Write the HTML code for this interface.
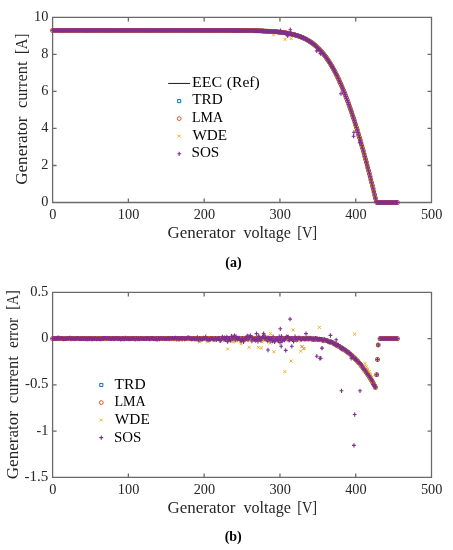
<!DOCTYPE html>
<html><head><meta charset="utf-8"><title>Figure</title>
<style>
html,body{margin:0;padding:0;background:#fff;}
body{width:453px;height:550px;overflow:hidden;}
svg{display:block;}
text{font-family:"Liberation Serif",serif;}
.t{font-size:14.3px;fill:#262626;}
.l{font-size:15px;fill:#000;}
.lab{font-size:16.3px;fill:#262626;}
.cap{font-size:14px;font-weight:bold;fill:#000;}
</style></head><body>
<svg width="453" height="550" viewBox="0 0 453 550">
<rect width="453" height="550" fill="#fff"/>
<path d="M128.38 202.5v-4.0M128.38 17.4v4.0M204.16 202.5v-4.0M204.16 17.4v4.0M279.94 202.5v-4.0M279.94 17.4v4.0M355.72 202.5v-4.0M355.72 17.4v4.0M52.6 165.48h4.0M431.5 165.48h-4.0M52.6 128.46h4.0M431.5 128.46h-4.0M52.6 91.44h4.0M431.5 91.44h-4.0M52.6 54.42h4.0M431.5 54.42h-4.0M52.6 17.4H431.5V202.5H52.6Z" stroke="#6a6a6a" stroke-width="1.3" fill="none"/>
<text x="52.8" y="218.8" text-anchor="middle" class="t">0</text>
<text x="128.58" y="218.8" text-anchor="middle" class="t">100</text>
<text x="204.36" y="218.8" text-anchor="middle" class="t">200</text>
<text x="280.14" y="218.8" text-anchor="middle" class="t">300</text>
<text x="355.92" y="218.8" text-anchor="middle" class="t">400</text>
<text x="431.7" y="218.8" text-anchor="middle" class="t">500</text>
<text x="48.3" y="205.9" text-anchor="end" class="t">0</text>
<text x="48.3" y="168.88" text-anchor="end" class="t">2</text>
<text x="48.3" y="131.86" text-anchor="end" class="t">4</text>
<text x="48.3" y="94.84" text-anchor="end" class="t">6</text>
<text x="48.3" y="57.82" text-anchor="end" class="t">8</text>
<text x="48.3" y="20.8" text-anchor="end" class="t">10</text>
<path d="M52.6 30.39L53.36 30.39L54.12 30.39L54.87 30.39L55.63 30.39L56.39 30.39L57.15 30.39L57.9 30.39L58.66 30.39L59.42 30.39L60.18 30.39L60.94 30.39L61.69 30.39L62.45 30.39L63.21 30.39L63.97 30.39L64.72 30.39L65.48 30.39L66.24 30.39L67 30.39L67.76 30.39L68.51 30.39L69.27 30.39L70.03 30.39L70.79 30.39L71.55 30.39L72.3 30.39L73.06 30.39L73.82 30.39L74.58 30.39L75.33 30.39L76.09 30.39L76.85 30.39L77.61 30.39L78.37 30.39L79.12 30.39L79.88 30.39L80.64 30.39L81.4 30.39L82.15 30.39L82.91 30.39L83.67 30.39L84.43 30.39L85.19 30.39L85.94 30.39L86.7 30.39L87.46 30.39L88.22 30.39L88.97 30.39L89.73 30.39L90.49 30.39L91.25 30.39L92.01 30.39L92.76 30.39L93.52 30.39L94.28 30.39L95.04 30.39L95.79 30.39L96.55 30.39L97.31 30.39L98.07 30.39L98.83 30.39L99.58 30.39L100.34 30.39L101.1 30.39L101.86 30.39L102.61 30.39L103.37 30.39L104.13 30.39L104.89 30.39L105.65 30.39L106.4 30.39L107.16 30.39L107.92 30.39L108.68 30.39L109.44 30.39L110.19 30.39L110.95 30.39L111.71 30.39L112.47 30.39L113.22 30.39L113.98 30.39L114.74 30.39L115.5 30.39L116.26 30.39L117.01 30.39L117.77 30.39L118.53 30.39L119.29 30.39L120.04 30.39L120.8 30.39L121.56 30.39L122.32 30.39L123.08 30.39L123.83 30.39L124.59 30.39L125.35 30.39L126.11 30.39L126.86 30.39L127.62 30.39L128.38 30.39L129.14 30.39L129.9 30.39L130.65 30.39L131.41 30.39L132.17 30.39L132.93 30.39L133.68 30.39L134.44 30.39L135.2 30.39L135.96 30.39L136.72 30.39L137.47 30.39L138.23 30.39L138.99 30.39L139.75 30.39L140.5 30.39L141.26 30.39L142.02 30.39L142.78 30.39L143.54 30.39L144.29 30.39L145.05 30.39L145.81 30.39L146.57 30.39L147.32 30.39L148.08 30.39L148.84 30.39L149.6 30.39L150.36 30.39L151.11 30.39L151.87 30.39L152.63 30.39L153.39 30.39L154.15 30.39L154.9 30.39L155.66 30.39L156.42 30.39L157.18 30.39L157.93 30.39L158.69 30.39L159.45 30.39L160.21 30.39L160.97 30.39L161.72 30.39L162.48 30.39L163.24 30.39L164 30.39L164.75 30.39L165.51 30.39L166.27 30.39L167.03 30.39L167.79 30.39L168.54 30.39L169.3 30.39L170.06 30.39L170.82 30.39L171.57 30.39L172.33 30.39L173.09 30.39L173.85 30.39L174.61 30.39L175.36 30.39L176.12 30.39L176.88 30.39L177.64 30.39L178.39 30.39L179.15 30.39L179.91 30.39L180.67 30.39L181.43 30.39L182.18 30.39L182.94 30.39L183.7 30.39L184.46 30.39L185.21 30.39L185.97 30.39L186.73 30.39L187.49 30.39L188.25 30.39L189 30.39L189.76 30.39L190.52 30.39L191.28 30.39L192.04 30.39L192.79 30.39L193.55 30.39L194.31 30.39L195.07 30.39L195.82 30.39L196.58 30.4L197.34 30.4L198.1 30.4L198.86 30.4L199.61 30.4L200.37 30.4L201.13 30.4L201.89 30.4L202.64 30.4L203.4 30.4L204.16 30.4L204.92 30.4L205.68 30.4L206.43 30.4L207.19 30.4L207.95 30.4L208.71 30.41L209.46 30.41L210.22 30.41L210.98 30.41L211.74 30.41L212.5 30.41L213.25 30.41L214.01 30.41L214.77 30.41L215.53 30.42L216.28 30.42L217.04 30.42L217.8 30.42L218.56 30.42L219.32 30.42L220.07 30.43L220.83 30.43L221.59 30.43L222.35 30.43L223.1 30.43L223.86 30.44L224.62 30.44L225.38 30.44L226.14 30.44L226.89 30.45L227.65 30.45L228.41 30.45L229.17 30.46L229.93 30.46L230.68 30.46L231.44 30.47L232.2 30.47L232.96 30.48L233.71 30.48L234.47 30.49L235.23 30.49L235.99 30.5L236.75 30.5L237.5 30.51L238.26 30.51L239.02 30.52L239.78 30.53L240.53 30.53L241.29 30.54L242.05 30.55L242.81 30.56L243.57 30.56L244.32 30.57L245.08 30.58L245.84 30.59L246.6 30.6L247.35 30.61L248.11 30.62L248.87 30.64L249.63 30.65L250.39 30.66L251.14 30.67L251.9 30.69L252.66 30.7L253.42 30.72L254.17 30.74L254.93 30.75L255.69 30.77L256.45 30.79L257.21 30.81L257.96 30.83L258.72 30.85L259.48 30.88L260.24 30.9L261 30.93L261.75 30.95L262.51 30.98L263.27 31.01L264.03 31.04L264.78 31.07L265.54 31.11L266.3 31.14L267.06 31.18L267.82 31.22L268.57 31.26L269.33 31.3L270.09 31.35L270.85 31.39L271.6 31.44L272.36 31.5L273.12 31.55L273.88 31.61L274.64 31.67L275.39 31.73L276.15 31.8L276.91 31.87L277.67 31.94L278.42 32.01L279.18 32.09L279.94 32.18L280.7 32.26L281.46 32.36L282.21 32.45L282.97 32.55L283.73 32.66L284.49 32.77L285.24 32.88L286 33L286.76 33.13L287.52 33.26L288.28 33.4L289.03 33.55L289.79 33.7L290.55 33.86L291.31 34.02L292.06 34.2L292.82 34.38L293.58 34.57L294.34 34.77L295.1 34.98L295.85 35.2L296.61 35.42L297.37 35.66L298.13 35.91L298.88 36.17L299.64 36.44L300.4 36.73L301.16 37.02L301.92 37.33L302.67 37.65L303.43 37.99L304.19 38.34L304.95 38.71L305.71 39.09L306.46 39.49L307.22 39.9L307.98 40.33L308.74 40.78L309.49 41.25L310.25 41.74L311.01 42.24L311.77 42.77L312.53 43.32L313.28 43.89L314.04 44.48L314.8 45.09L315.56 45.73L316.31 46.39L317.07 47.08L317.83 47.79L318.59 48.53L319.35 49.29L320.1 50.08L320.86 50.9L321.62 51.75L322.38 52.62L323.13 53.53L323.89 54.46L324.65 55.43L325.41 56.43L326.17 57.46L326.92 58.52L327.68 59.61L328.44 60.74L329.2 61.9L329.95 63.09L330.71 64.32L331.47 65.58L332.23 66.88L332.99 68.21L333.74 69.58L334.5 70.99L335.26 72.43L336.02 73.91L336.77 75.42L337.53 76.97L338.29 78.56L339.05 80.18L339.81 81.84L340.56 83.54L341.32 85.27L342.08 87.04L342.84 88.85L343.6 90.7L344.35 92.58L345.11 94.5L345.87 96.45L346.63 98.45L347.38 100.47L348.14 102.54L348.9 104.64L349.66 106.77L350.42 108.94L351.17 111.15L351.93 113.39L352.69 115.66L353.45 117.97L354.2 120.31L354.96 122.69L355.72 125.1L356.48 127.54L357.24 130.01L357.99 132.52L358.75 135.06L359.51 137.63L360.27 140.23L361.02 142.86L361.78 145.52L362.54 148.21L363.3 150.93L364.06 153.68L364.81 156.46L365.57 159.27L366.33 162.11L367.09 164.97L367.84 167.86L368.6 170.78L369.36 173.72L370.12 176.69L370.88 179.68L371.63 182.7L372.39 185.75L373.15 188.81L373.91 191.91L374.66 195.02L375.42 198.16L376.18 201.33L376.94 202.5L377.7 202.5L378.45 202.5L379.21 202.5L379.97 202.5L380.73 202.5L381.49 202.5L382.24 202.5L383 202.5L383.76 202.5L384.52 202.5L385.27 202.5L386.03 202.5L386.79 202.5L387.55 202.5L388.31 202.5L389.06 202.5L389.82 202.5L390.58 202.5L391.34 202.5L392.09 202.5L392.85 202.5L393.61 202.5L394.37 202.5L395.13 202.5L395.88 202.5L396.64 202.5L397.4 202.5" stroke="#000" stroke-width="0.9" fill="none"/>
<path d="M51.05 28.84h3.1v3.1h-3.1zM51.81 28.84h3.1v3.1h-3.1zM52.57 28.84h3.1v3.1h-3.1zM53.32 28.84h3.1v3.1h-3.1zM54.08 28.84h3.1v3.1h-3.1zM54.84 28.84h3.1v3.1h-3.1zM55.6 28.84h3.1v3.1h-3.1zM56.35 28.84h3.1v3.1h-3.1zM57.11 28.84h3.1v3.1h-3.1zM57.87 28.84h3.1v3.1h-3.1zM58.63 28.84h3.1v3.1h-3.1zM59.39 28.84h3.1v3.1h-3.1zM60.14 28.84h3.1v3.1h-3.1zM60.9 28.84h3.1v3.1h-3.1zM61.66 28.84h3.1v3.1h-3.1zM62.42 28.84h3.1v3.1h-3.1zM63.17 28.84h3.1v3.1h-3.1zM63.93 28.84h3.1v3.1h-3.1zM64.69 28.84h3.1v3.1h-3.1zM65.45 28.84h3.1v3.1h-3.1zM66.21 28.84h3.1v3.1h-3.1zM66.96 28.84h3.1v3.1h-3.1zM67.72 28.84h3.1v3.1h-3.1zM68.48 28.84h3.1v3.1h-3.1zM69.24 28.84h3.1v3.1h-3.1zM70 28.84h3.1v3.1h-3.1zM70.75 28.84h3.1v3.1h-3.1zM71.51 28.84h3.1v3.1h-3.1zM72.27 28.84h3.1v3.1h-3.1zM73.03 28.84h3.1v3.1h-3.1zM73.78 28.84h3.1v3.1h-3.1zM74.54 28.84h3.1v3.1h-3.1zM75.3 28.84h3.1v3.1h-3.1zM76.06 28.84h3.1v3.1h-3.1zM76.82 28.84h3.1v3.1h-3.1zM77.57 28.84h3.1v3.1h-3.1zM78.33 28.84h3.1v3.1h-3.1zM79.09 28.84h3.1v3.1h-3.1zM79.85 28.84h3.1v3.1h-3.1zM80.6 28.84h3.1v3.1h-3.1zM81.36 28.84h3.1v3.1h-3.1zM82.12 28.84h3.1v3.1h-3.1zM82.88 28.84h3.1v3.1h-3.1zM83.64 28.84h3.1v3.1h-3.1zM84.39 28.84h3.1v3.1h-3.1zM85.15 28.84h3.1v3.1h-3.1zM85.91 28.84h3.1v3.1h-3.1zM86.67 28.84h3.1v3.1h-3.1zM87.42 28.84h3.1v3.1h-3.1zM88.18 28.84h3.1v3.1h-3.1zM88.94 28.84h3.1v3.1h-3.1zM89.7 28.84h3.1v3.1h-3.1zM90.46 28.84h3.1v3.1h-3.1zM91.21 28.84h3.1v3.1h-3.1zM91.97 28.84h3.1v3.1h-3.1zM92.73 28.84h3.1v3.1h-3.1zM93.49 28.84h3.1v3.1h-3.1zM94.24 28.84h3.1v3.1h-3.1zM95 28.84h3.1v3.1h-3.1zM95.76 28.84h3.1v3.1h-3.1zM96.52 28.84h3.1v3.1h-3.1zM97.28 28.84h3.1v3.1h-3.1zM98.03 28.84h3.1v3.1h-3.1zM98.79 28.84h3.1v3.1h-3.1zM99.55 28.84h3.1v3.1h-3.1zM100.31 28.84h3.1v3.1h-3.1zM101.06 28.84h3.1v3.1h-3.1zM101.82 28.84h3.1v3.1h-3.1zM102.58 28.84h3.1v3.1h-3.1zM103.34 28.84h3.1v3.1h-3.1zM104.1 28.84h3.1v3.1h-3.1zM104.85 28.84h3.1v3.1h-3.1zM105.61 28.84h3.1v3.1h-3.1zM106.37 28.84h3.1v3.1h-3.1zM107.13 28.84h3.1v3.1h-3.1zM107.89 28.84h3.1v3.1h-3.1zM108.64 28.84h3.1v3.1h-3.1zM109.4 28.84h3.1v3.1h-3.1zM110.16 28.84h3.1v3.1h-3.1zM110.92 28.84h3.1v3.1h-3.1zM111.67 28.84h3.1v3.1h-3.1zM112.43 28.84h3.1v3.1h-3.1zM113.19 28.84h3.1v3.1h-3.1zM113.95 28.84h3.1v3.1h-3.1zM114.71 28.84h3.1v3.1h-3.1zM115.46 28.84h3.1v3.1h-3.1zM116.22 28.84h3.1v3.1h-3.1zM116.98 28.84h3.1v3.1h-3.1zM117.74 28.84h3.1v3.1h-3.1zM118.49 28.84h3.1v3.1h-3.1zM119.25 28.84h3.1v3.1h-3.1zM120.01 28.84h3.1v3.1h-3.1zM120.77 28.84h3.1v3.1h-3.1zM121.53 28.84h3.1v3.1h-3.1zM122.28 28.84h3.1v3.1h-3.1zM123.04 28.84h3.1v3.1h-3.1zM123.8 28.84h3.1v3.1h-3.1zM124.56 28.84h3.1v3.1h-3.1zM125.31 28.84h3.1v3.1h-3.1zM126.07 28.84h3.1v3.1h-3.1zM126.83 28.84h3.1v3.1h-3.1zM127.59 28.84h3.1v3.1h-3.1zM128.35 28.84h3.1v3.1h-3.1zM129.1 28.84h3.1v3.1h-3.1zM129.86 28.84h3.1v3.1h-3.1zM130.62 28.84h3.1v3.1h-3.1zM131.38 28.84h3.1v3.1h-3.1zM132.13 28.84h3.1v3.1h-3.1zM132.89 28.84h3.1v3.1h-3.1zM133.65 28.84h3.1v3.1h-3.1zM134.41 28.84h3.1v3.1h-3.1zM135.17 28.84h3.1v3.1h-3.1zM135.92 28.84h3.1v3.1h-3.1zM136.68 28.84h3.1v3.1h-3.1zM137.44 28.84h3.1v3.1h-3.1zM138.2 28.84h3.1v3.1h-3.1zM138.95 28.84h3.1v3.1h-3.1zM139.71 28.84h3.1v3.1h-3.1zM140.47 28.84h3.1v3.1h-3.1zM141.23 28.84h3.1v3.1h-3.1zM141.99 28.84h3.1v3.1h-3.1zM142.74 28.84h3.1v3.1h-3.1zM143.5 28.84h3.1v3.1h-3.1zM144.26 28.84h3.1v3.1h-3.1zM145.02 28.84h3.1v3.1h-3.1zM145.77 28.84h3.1v3.1h-3.1zM146.53 28.84h3.1v3.1h-3.1zM147.29 28.84h3.1v3.1h-3.1zM148.05 28.84h3.1v3.1h-3.1zM148.81 28.84h3.1v3.1h-3.1zM149.56 28.84h3.1v3.1h-3.1zM150.32 28.84h3.1v3.1h-3.1zM151.08 28.84h3.1v3.1h-3.1zM151.84 28.84h3.1v3.1h-3.1zM152.6 28.84h3.1v3.1h-3.1zM153.35 28.84h3.1v3.1h-3.1zM154.11 28.84h3.1v3.1h-3.1zM154.87 28.84h3.1v3.1h-3.1zM155.63 28.84h3.1v3.1h-3.1zM156.38 28.84h3.1v3.1h-3.1zM157.14 28.84h3.1v3.1h-3.1zM157.9 28.84h3.1v3.1h-3.1zM158.66 28.84h3.1v3.1h-3.1zM159.42 28.84h3.1v3.1h-3.1zM160.17 28.84h3.1v3.1h-3.1zM160.93 28.84h3.1v3.1h-3.1zM161.69 28.84h3.1v3.1h-3.1zM162.45 28.84h3.1v3.1h-3.1zM163.2 28.84h3.1v3.1h-3.1zM163.96 28.84h3.1v3.1h-3.1zM164.72 28.84h3.1v3.1h-3.1zM165.48 28.84h3.1v3.1h-3.1zM166.24 28.84h3.1v3.1h-3.1zM166.99 28.84h3.1v3.1h-3.1zM167.75 28.84h3.1v3.1h-3.1zM168.51 28.84h3.1v3.1h-3.1zM169.27 28.84h3.1v3.1h-3.1zM170.02 28.84h3.1v3.1h-3.1zM170.78 28.84h3.1v3.1h-3.1zM171.54 28.84h3.1v3.1h-3.1zM172.3 28.84h3.1v3.1h-3.1zM173.06 28.84h3.1v3.1h-3.1zM173.81 28.84h3.1v3.1h-3.1zM174.57 28.84h3.1v3.1h-3.1zM175.33 28.84h3.1v3.1h-3.1zM176.09 28.84h3.1v3.1h-3.1zM176.84 28.84h3.1v3.1h-3.1zM177.6 28.84h3.1v3.1h-3.1zM178.36 28.84h3.1v3.1h-3.1zM179.12 28.84h3.1v3.1h-3.1zM179.88 28.84h3.1v3.1h-3.1zM180.63 28.84h3.1v3.1h-3.1zM181.39 28.84h3.1v3.1h-3.1zM182.15 28.84h3.1v3.1h-3.1zM182.91 28.84h3.1v3.1h-3.1zM183.66 28.84h3.1v3.1h-3.1zM184.42 28.84h3.1v3.1h-3.1zM185.18 28.84h3.1v3.1h-3.1zM185.94 28.84h3.1v3.1h-3.1zM186.7 28.84h3.1v3.1h-3.1zM187.45 28.84h3.1v3.1h-3.1zM188.21 28.84h3.1v3.1h-3.1zM188.97 28.84h3.1v3.1h-3.1zM189.73 28.84h3.1v3.1h-3.1zM190.49 28.84h3.1v3.1h-3.1zM191.24 28.84h3.1v3.1h-3.1zM192 28.84h3.1v3.1h-3.1zM192.76 28.84h3.1v3.1h-3.1zM193.52 28.84h3.1v3.1h-3.1zM194.27 28.84h3.1v3.1h-3.1zM195.03 28.85h3.1v3.1h-3.1zM195.79 28.85h3.1v3.1h-3.1zM196.55 28.85h3.1v3.1h-3.1zM197.31 28.85h3.1v3.1h-3.1zM198.06 28.85h3.1v3.1h-3.1zM198.82 28.85h3.1v3.1h-3.1zM199.58 28.85h3.1v3.1h-3.1zM200.34 28.85h3.1v3.1h-3.1zM201.09 28.85h3.1v3.1h-3.1zM201.85 28.85h3.1v3.1h-3.1zM202.61 28.85h3.1v3.1h-3.1zM203.37 28.85h3.1v3.1h-3.1zM204.13 28.85h3.1v3.1h-3.1zM204.88 28.85h3.1v3.1h-3.1zM205.64 28.85h3.1v3.1h-3.1zM206.4 28.85h3.1v3.1h-3.1zM207.16 28.86h3.1v3.1h-3.1zM207.91 28.86h3.1v3.1h-3.1zM208.67 28.86h3.1v3.1h-3.1zM209.43 28.86h3.1v3.1h-3.1zM210.19 28.86h3.1v3.1h-3.1zM210.95 28.86h3.1v3.1h-3.1zM211.7 28.86h3.1v3.1h-3.1zM212.46 28.86h3.1v3.1h-3.1zM213.22 28.86h3.1v3.1h-3.1zM213.98 28.87h3.1v3.1h-3.1zM214.73 28.87h3.1v3.1h-3.1zM215.49 28.87h3.1v3.1h-3.1zM216.25 28.87h3.1v3.1h-3.1zM217.01 28.87h3.1v3.1h-3.1zM217.77 28.87h3.1v3.1h-3.1zM218.52 28.88h3.1v3.1h-3.1zM219.28 28.88h3.1v3.1h-3.1zM220.04 28.88h3.1v3.1h-3.1zM220.8 28.88h3.1v3.1h-3.1zM221.55 28.88h3.1v3.1h-3.1zM222.31 28.89h3.1v3.1h-3.1zM223.07 28.89h3.1v3.1h-3.1zM223.83 28.89h3.1v3.1h-3.1zM224.59 28.89h3.1v3.1h-3.1zM225.34 28.9h3.1v3.1h-3.1zM226.1 28.9h3.1v3.1h-3.1zM226.86 28.9h3.1v3.1h-3.1zM227.62 28.91h3.1v3.1h-3.1zM228.38 28.91h3.1v3.1h-3.1zM229.13 28.91h3.1v3.1h-3.1zM229.89 28.92h3.1v3.1h-3.1zM230.65 28.92h3.1v3.1h-3.1zM231.41 28.93h3.1v3.1h-3.1zM232.16 28.93h3.1v3.1h-3.1zM232.92 28.94h3.1v3.1h-3.1zM233.68 28.94h3.1v3.1h-3.1zM234.44 28.95h3.1v3.1h-3.1zM235.2 28.95h3.1v3.1h-3.1zM235.95 28.96h3.1v3.1h-3.1zM236.71 28.96h3.1v3.1h-3.1zM237.47 28.97h3.1v3.1h-3.1zM238.23 28.98h3.1v3.1h-3.1zM238.98 28.98h3.1v3.1h-3.1zM239.74 28.99h3.1v3.1h-3.1zM240.5 29h3.1v3.1h-3.1zM241.26 29.01h3.1v3.1h-3.1zM242.02 29.01h3.1v3.1h-3.1zM242.77 29.02h3.1v3.1h-3.1zM243.53 29.03h3.1v3.1h-3.1zM244.29 29.04h3.1v3.1h-3.1zM245.05 29.05h3.1v3.1h-3.1zM245.8 29.06h3.1v3.1h-3.1zM246.56 29.07h3.1v3.1h-3.1zM247.32 29.09h3.1v3.1h-3.1zM248.08 29.1h3.1v3.1h-3.1zM248.84 29.11h3.1v3.1h-3.1zM249.59 29.12h3.1v3.1h-3.1zM250.35 29.14h3.1v3.1h-3.1zM251.11 29.15h3.1v3.1h-3.1zM251.87 29.17h3.1v3.1h-3.1zM252.62 29.19h3.1v3.1h-3.1zM253.38 29.2h3.1v3.1h-3.1zM254.14 29.22h3.1v3.1h-3.1zM254.9 29.24h3.1v3.1h-3.1zM255.66 29.26h3.1v3.1h-3.1zM256.41 29.28h3.1v3.1h-3.1zM257.17 29.3h3.1v3.1h-3.1zM257.93 29.33h3.1v3.1h-3.1zM258.69 29.35h3.1v3.1h-3.1zM259.44 29.38h3.1v3.1h-3.1zM260.2 29.4h3.1v3.1h-3.1zM260.96 29.43h3.1v3.1h-3.1zM261.72 29.46h3.1v3.1h-3.1zM262.48 29.49h3.1v3.1h-3.1zM263.23 29.52h3.1v3.1h-3.1zM263.99 29.56h3.1v3.1h-3.1zM264.75 29.59h3.1v3.1h-3.1zM265.51 29.63h3.1v3.1h-3.1zM266.27 29.67h3.1v3.1h-3.1zM267.02 29.71h3.1v3.1h-3.1zM267.78 29.75h3.1v3.1h-3.1zM268.54 29.8h3.1v3.1h-3.1zM269.3 29.84h3.1v3.1h-3.1zM270.05 29.89h3.1v3.1h-3.1zM270.81 29.95h3.1v3.1h-3.1zM271.57 30h3.1v3.1h-3.1zM272.33 30.06h3.1v3.1h-3.1zM273.09 30.12h3.1v3.1h-3.1zM273.84 30.18h3.1v3.1h-3.1zM274.6 30.25h3.1v3.1h-3.1zM275.36 30.32h3.1v3.1h-3.1zM276.12 30.39h3.1v3.1h-3.1zM276.87 30.46h3.1v3.1h-3.1zM277.63 30.54h3.1v3.1h-3.1zM278.39 30.63h3.1v3.1h-3.1zM279.15 30.71h3.1v3.1h-3.1zM279.91 30.81h3.1v3.1h-3.1zM280.66 30.9h3.1v3.1h-3.1zM281.42 31h3.1v3.1h-3.1zM282.18 31.11h3.1v3.1h-3.1zM282.94 31.22h3.1v3.1h-3.1zM283.69 31.33h3.1v3.1h-3.1zM284.45 31.45h3.1v3.1h-3.1zM285.21 31.58h3.1v3.1h-3.1zM285.97 31.71h3.1v3.1h-3.1zM286.73 31.85h3.1v3.1h-3.1zM287.48 32h3.1v3.1h-3.1zM288.24 32.15h3.1v3.1h-3.1zM289 32.31h3.1v3.1h-3.1zM289.76 32.47h3.1v3.1h-3.1zM290.51 32.65h3.1v3.1h-3.1zM291.27 32.83h3.1v3.1h-3.1zM292.03 33.02h3.1v3.1h-3.1zM292.79 33.22h3.1v3.1h-3.1zM293.55 33.43h3.1v3.1h-3.1zM294.3 33.65h3.1v3.1h-3.1zM295.06 33.87h3.1v3.1h-3.1zM295.82 34.11h3.1v3.1h-3.1zM296.58 34.36h3.1v3.1h-3.1zM297.33 34.62h3.1v3.1h-3.1zM298.09 34.89h3.1v3.1h-3.1zM298.85 35.18h3.1v3.1h-3.1zM299.61 35.47h3.1v3.1h-3.1zM300.37 35.78h3.1v3.1h-3.1zM301.12 36.1h3.1v3.1h-3.1zM301.88 36.44h3.1v3.1h-3.1zM302.64 36.79h3.1v3.1h-3.1zM303.4 37.16h3.1v3.1h-3.1zM304.16 37.54h3.1v3.1h-3.1zM304.91 37.94h3.1v3.1h-3.1zM305.67 38.35h3.1v3.1h-3.1zM306.43 38.78h3.1v3.1h-3.1zM307.19 39.23h3.1v3.1h-3.1zM307.94 39.7h3.1v3.1h-3.1zM308.7 40.19h3.1v3.1h-3.1zM309.46 40.69h3.1v3.1h-3.1zM310.22 41.22h3.1v3.1h-3.1zM310.98 41.77h3.1v3.1h-3.1zM311.73 42.34h3.1v3.1h-3.1zM312.49 42.93h3.1v3.1h-3.1zM313.25 43.54h3.1v3.1h-3.1zM314.01 44.18h3.1v3.1h-3.1zM314.76 44.84h3.1v3.1h-3.1zM315.52 45.53h3.1v3.1h-3.1zM316.28 46.24h3.1v3.1h-3.1zM317.04 46.98h3.1v3.1h-3.1zM317.8 47.74h3.1v3.1h-3.1zM318.55 48.53h3.1v3.1h-3.1zM319.31 49.35h3.1v3.1h-3.1zM320.07 50.2h3.1v3.1h-3.1zM320.83 51.07h3.1v3.1h-3.1zM321.58 51.98h3.1v3.1h-3.1zM322.34 52.91h3.1v3.1h-3.1zM323.1 53.88h3.1v3.1h-3.1zM323.86 54.88h3.1v3.1h-3.1zM324.62 55.91h3.1v3.1h-3.1zM325.37 56.97h3.1v3.1h-3.1zM326.13 58.06h3.1v3.1h-3.1zM326.89 59.19h3.1v3.1h-3.1zM327.65 60.35h3.1v3.1h-3.1zM328.4 61.54h3.1v3.1h-3.1zM329.16 62.77h3.1v3.1h-3.1zM329.92 64.03h3.1v3.1h-3.1zM330.68 65.33h3.1v3.1h-3.1zM331.44 66.66h3.1v3.1h-3.1zM332.19 68.03h3.1v3.1h-3.1zM332.95 69.44h3.1v3.1h-3.1zM333.71 70.88h3.1v3.1h-3.1zM334.47 72.36h3.1v3.1h-3.1zM335.22 73.87h3.1v3.1h-3.1zM335.98 75.42h3.1v3.1h-3.1zM336.74 77.01h3.1v3.1h-3.1zM337.5 78.63h3.1v3.1h-3.1zM338.26 80.29h3.1v3.1h-3.1zM339.01 81.99h3.1v3.1h-3.1zM339.77 83.72h3.1v3.1h-3.1zM340.53 85.49h3.1v3.1h-3.1zM341.29 87.3h3.1v3.1h-3.1zM342.05 89.15h3.1v3.1h-3.1zM342.8 91.03h3.1v3.1h-3.1zM343.56 92.95h3.1v3.1h-3.1zM344.32 94.9h3.1v3.1h-3.1zM345.08 96.9h3.1v3.1h-3.1zM345.83 98.92h3.1v3.1h-3.1zM346.59 100.99h3.1v3.1h-3.1zM347.35 103.09h3.1v3.1h-3.1zM348.11 105.22h3.1v3.1h-3.1zM348.87 107.39h3.1v3.1h-3.1zM349.62 109.6h3.1v3.1h-3.1zM350.38 111.84h3.1v3.1h-3.1zM351.14 114.11h3.1v3.1h-3.1zM351.9 116.42h3.1v3.1h-3.1zM352.65 118.76h3.1v3.1h-3.1zM353.41 121.14h3.1v3.1h-3.1zM354.17 123.55h3.1v3.1h-3.1zM354.93 125.99h3.1v3.1h-3.1zM355.69 128.46h3.1v3.1h-3.1zM356.44 130.97h3.1v3.1h-3.1zM357.2 133.51h3.1v3.1h-3.1zM357.96 136.08h3.1v3.1h-3.1zM358.72 138.68h3.1v3.1h-3.1zM359.47 141.31h3.1v3.1h-3.1zM360.23 143.97h3.1v3.1h-3.1zM360.99 146.66h3.1v3.1h-3.1zM361.75 149.38h3.1v3.1h-3.1zM362.51 152.13h3.1v3.1h-3.1zM363.26 154.91h3.1v3.1h-3.1zM364.02 157.72h3.1v3.1h-3.1zM364.78 160.56h3.1v3.1h-3.1zM365.54 163.42h3.1v3.1h-3.1zM366.29 166.31h3.1v3.1h-3.1zM367.05 169.23h3.1v3.1h-3.1zM367.81 172.17h3.1v3.1h-3.1zM368.57 175.14h3.1v3.1h-3.1zM369.33 178.13h3.1v3.1h-3.1zM370.08 181.15h3.1v3.1h-3.1zM370.84 184.2h3.1v3.1h-3.1zM371.6 187.26h3.1v3.1h-3.1zM372.36 190.36h3.1v3.1h-3.1zM373.11 193.47h3.1v3.1h-3.1zM373.87 196.61h3.1v3.1h-3.1zM374.63 199.78h3.1v3.1h-3.1zM375.39 200.95h3.1v3.1h-3.1zM376.15 200.95h3.1v3.1h-3.1zM376.9 200.95h3.1v3.1h-3.1zM377.66 200.95h3.1v3.1h-3.1zM378.42 200.95h3.1v3.1h-3.1zM379.18 200.95h3.1v3.1h-3.1zM379.94 200.95h3.1v3.1h-3.1zM380.69 200.95h3.1v3.1h-3.1zM381.45 200.95h3.1v3.1h-3.1zM382.21 200.95h3.1v3.1h-3.1zM382.97 200.95h3.1v3.1h-3.1zM383.72 200.95h3.1v3.1h-3.1zM384.48 200.95h3.1v3.1h-3.1zM385.24 200.95h3.1v3.1h-3.1zM386 200.95h3.1v3.1h-3.1zM386.76 200.95h3.1v3.1h-3.1zM387.51 200.95h3.1v3.1h-3.1zM388.27 200.95h3.1v3.1h-3.1zM389.03 200.95h3.1v3.1h-3.1zM389.79 200.95h3.1v3.1h-3.1zM390.54 200.95h3.1v3.1h-3.1zM391.3 200.95h3.1v3.1h-3.1zM392.06 200.95h3.1v3.1h-3.1zM392.82 200.95h3.1v3.1h-3.1zM393.58 200.95h3.1v3.1h-3.1zM394.33 200.95h3.1v3.1h-3.1zM395.09 200.95h3.1v3.1h-3.1zM395.85 200.95h3.1v3.1h-3.1z" stroke="#0072BD" stroke-width="1.0" fill="none"/>
<path d="M50.7 30.39a1.9 1.9 0 1 0 3.8 0a1.9 1.9 0 1 0 -3.8 0M51.46 30.39a1.9 1.9 0 1 0 3.8 0a1.9 1.9 0 1 0 -3.8 0M52.22 30.39a1.9 1.9 0 1 0 3.8 0a1.9 1.9 0 1 0 -3.8 0M52.97 30.39a1.9 1.9 0 1 0 3.8 0a1.9 1.9 0 1 0 -3.8 0M53.73 30.39a1.9 1.9 0 1 0 3.8 0a1.9 1.9 0 1 0 -3.8 0M54.49 30.39a1.9 1.9 0 1 0 3.8 0a1.9 1.9 0 1 0 -3.8 0M55.25 30.39a1.9 1.9 0 1 0 3.8 0a1.9 1.9 0 1 0 -3.8 0M56 30.39a1.9 1.9 0 1 0 3.8 0a1.9 1.9 0 1 0 -3.8 0M56.76 30.39a1.9 1.9 0 1 0 3.8 0a1.9 1.9 0 1 0 -3.8 0M57.52 30.39a1.9 1.9 0 1 0 3.8 0a1.9 1.9 0 1 0 -3.8 0M58.28 30.39a1.9 1.9 0 1 0 3.8 0a1.9 1.9 0 1 0 -3.8 0M59.04 30.39a1.9 1.9 0 1 0 3.8 0a1.9 1.9 0 1 0 -3.8 0M59.79 30.39a1.9 1.9 0 1 0 3.8 0a1.9 1.9 0 1 0 -3.8 0M60.55 30.39a1.9 1.9 0 1 0 3.8 0a1.9 1.9 0 1 0 -3.8 0M61.31 30.39a1.9 1.9 0 1 0 3.8 0a1.9 1.9 0 1 0 -3.8 0M62.07 30.39a1.9 1.9 0 1 0 3.8 0a1.9 1.9 0 1 0 -3.8 0M62.82 30.39a1.9 1.9 0 1 0 3.8 0a1.9 1.9 0 1 0 -3.8 0M63.58 30.39a1.9 1.9 0 1 0 3.8 0a1.9 1.9 0 1 0 -3.8 0M64.34 30.39a1.9 1.9 0 1 0 3.8 0a1.9 1.9 0 1 0 -3.8 0M65.1 30.39a1.9 1.9 0 1 0 3.8 0a1.9 1.9 0 1 0 -3.8 0M65.86 30.39a1.9 1.9 0 1 0 3.8 0a1.9 1.9 0 1 0 -3.8 0M66.61 30.39a1.9 1.9 0 1 0 3.8 0a1.9 1.9 0 1 0 -3.8 0M67.37 30.39a1.9 1.9 0 1 0 3.8 0a1.9 1.9 0 1 0 -3.8 0M68.13 30.39a1.9 1.9 0 1 0 3.8 0a1.9 1.9 0 1 0 -3.8 0M68.89 30.39a1.9 1.9 0 1 0 3.8 0a1.9 1.9 0 1 0 -3.8 0M69.64 30.39a1.9 1.9 0 1 0 3.8 0a1.9 1.9 0 1 0 -3.8 0M70.4 30.39a1.9 1.9 0 1 0 3.8 0a1.9 1.9 0 1 0 -3.8 0M71.16 30.39a1.9 1.9 0 1 0 3.8 0a1.9 1.9 0 1 0 -3.8 0M71.92 30.39a1.9 1.9 0 1 0 3.8 0a1.9 1.9 0 1 0 -3.8 0M72.68 30.39a1.9 1.9 0 1 0 3.8 0a1.9 1.9 0 1 0 -3.8 0M73.43 30.39a1.9 1.9 0 1 0 3.8 0a1.9 1.9 0 1 0 -3.8 0M74.19 30.39a1.9 1.9 0 1 0 3.8 0a1.9 1.9 0 1 0 -3.8 0M74.95 30.39a1.9 1.9 0 1 0 3.8 0a1.9 1.9 0 1 0 -3.8 0M75.71 30.39a1.9 1.9 0 1 0 3.8 0a1.9 1.9 0 1 0 -3.8 0M76.47 30.39a1.9 1.9 0 1 0 3.8 0a1.9 1.9 0 1 0 -3.8 0M77.22 30.39a1.9 1.9 0 1 0 3.8 0a1.9 1.9 0 1 0 -3.8 0M77.98 30.39a1.9 1.9 0 1 0 3.8 0a1.9 1.9 0 1 0 -3.8 0M78.74 30.39a1.9 1.9 0 1 0 3.8 0a1.9 1.9 0 1 0 -3.8 0M79.5 30.39a1.9 1.9 0 1 0 3.8 0a1.9 1.9 0 1 0 -3.8 0M80.25 30.39a1.9 1.9 0 1 0 3.8 0a1.9 1.9 0 1 0 -3.8 0M81.01 30.39a1.9 1.9 0 1 0 3.8 0a1.9 1.9 0 1 0 -3.8 0M81.77 30.39a1.9 1.9 0 1 0 3.8 0a1.9 1.9 0 1 0 -3.8 0M82.53 30.39a1.9 1.9 0 1 0 3.8 0a1.9 1.9 0 1 0 -3.8 0M83.29 30.39a1.9 1.9 0 1 0 3.8 0a1.9 1.9 0 1 0 -3.8 0M84.04 30.39a1.9 1.9 0 1 0 3.8 0a1.9 1.9 0 1 0 -3.8 0M84.8 30.39a1.9 1.9 0 1 0 3.8 0a1.9 1.9 0 1 0 -3.8 0M85.56 30.39a1.9 1.9 0 1 0 3.8 0a1.9 1.9 0 1 0 -3.8 0M86.32 30.39a1.9 1.9 0 1 0 3.8 0a1.9 1.9 0 1 0 -3.8 0M87.07 30.39a1.9 1.9 0 1 0 3.8 0a1.9 1.9 0 1 0 -3.8 0M87.83 30.39a1.9 1.9 0 1 0 3.8 0a1.9 1.9 0 1 0 -3.8 0M88.59 30.39a1.9 1.9 0 1 0 3.8 0a1.9 1.9 0 1 0 -3.8 0M89.35 30.39a1.9 1.9 0 1 0 3.8 0a1.9 1.9 0 1 0 -3.8 0M90.11 30.39a1.9 1.9 0 1 0 3.8 0a1.9 1.9 0 1 0 -3.8 0M90.86 30.39a1.9 1.9 0 1 0 3.8 0a1.9 1.9 0 1 0 -3.8 0M91.62 30.39a1.9 1.9 0 1 0 3.8 0a1.9 1.9 0 1 0 -3.8 0M92.38 30.39a1.9 1.9 0 1 0 3.8 0a1.9 1.9 0 1 0 -3.8 0M93.14 30.39a1.9 1.9 0 1 0 3.8 0a1.9 1.9 0 1 0 -3.8 0M93.89 30.39a1.9 1.9 0 1 0 3.8 0a1.9 1.9 0 1 0 -3.8 0M94.65 30.39a1.9 1.9 0 1 0 3.8 0a1.9 1.9 0 1 0 -3.8 0M95.41 30.39a1.9 1.9 0 1 0 3.8 0a1.9 1.9 0 1 0 -3.8 0M96.17 30.39a1.9 1.9 0 1 0 3.8 0a1.9 1.9 0 1 0 -3.8 0M96.93 30.39a1.9 1.9 0 1 0 3.8 0a1.9 1.9 0 1 0 -3.8 0M97.68 30.39a1.9 1.9 0 1 0 3.8 0a1.9 1.9 0 1 0 -3.8 0M98.44 30.39a1.9 1.9 0 1 0 3.8 0a1.9 1.9 0 1 0 -3.8 0M99.2 30.39a1.9 1.9 0 1 0 3.8 0a1.9 1.9 0 1 0 -3.8 0M99.96 30.39a1.9 1.9 0 1 0 3.8 0a1.9 1.9 0 1 0 -3.8 0M100.71 30.39a1.9 1.9 0 1 0 3.8 0a1.9 1.9 0 1 0 -3.8 0M101.47 30.39a1.9 1.9 0 1 0 3.8 0a1.9 1.9 0 1 0 -3.8 0M102.23 30.39a1.9 1.9 0 1 0 3.8 0a1.9 1.9 0 1 0 -3.8 0M102.99 30.39a1.9 1.9 0 1 0 3.8 0a1.9 1.9 0 1 0 -3.8 0M103.75 30.39a1.9 1.9 0 1 0 3.8 0a1.9 1.9 0 1 0 -3.8 0M104.5 30.39a1.9 1.9 0 1 0 3.8 0a1.9 1.9 0 1 0 -3.8 0M105.26 30.39a1.9 1.9 0 1 0 3.8 0a1.9 1.9 0 1 0 -3.8 0M106.02 30.39a1.9 1.9 0 1 0 3.8 0a1.9 1.9 0 1 0 -3.8 0M106.78 30.39a1.9 1.9 0 1 0 3.8 0a1.9 1.9 0 1 0 -3.8 0M107.53 30.39a1.9 1.9 0 1 0 3.8 0a1.9 1.9 0 1 0 -3.8 0M108.29 30.39a1.9 1.9 0 1 0 3.8 0a1.9 1.9 0 1 0 -3.8 0M109.05 30.39a1.9 1.9 0 1 0 3.8 0a1.9 1.9 0 1 0 -3.8 0M109.81 30.39a1.9 1.9 0 1 0 3.8 0a1.9 1.9 0 1 0 -3.8 0M110.57 30.39a1.9 1.9 0 1 0 3.8 0a1.9 1.9 0 1 0 -3.8 0M111.32 30.39a1.9 1.9 0 1 0 3.8 0a1.9 1.9 0 1 0 -3.8 0M112.08 30.39a1.9 1.9 0 1 0 3.8 0a1.9 1.9 0 1 0 -3.8 0M112.84 30.39a1.9 1.9 0 1 0 3.8 0a1.9 1.9 0 1 0 -3.8 0M113.6 30.39a1.9 1.9 0 1 0 3.8 0a1.9 1.9 0 1 0 -3.8 0M114.36 30.39a1.9 1.9 0 1 0 3.8 0a1.9 1.9 0 1 0 -3.8 0M115.11 30.39a1.9 1.9 0 1 0 3.8 0a1.9 1.9 0 1 0 -3.8 0M115.87 30.39a1.9 1.9 0 1 0 3.8 0a1.9 1.9 0 1 0 -3.8 0M116.63 30.39a1.9 1.9 0 1 0 3.8 0a1.9 1.9 0 1 0 -3.8 0M117.39 30.39a1.9 1.9 0 1 0 3.8 0a1.9 1.9 0 1 0 -3.8 0M118.14 30.39a1.9 1.9 0 1 0 3.8 0a1.9 1.9 0 1 0 -3.8 0M118.9 30.39a1.9 1.9 0 1 0 3.8 0a1.9 1.9 0 1 0 -3.8 0M119.66 30.39a1.9 1.9 0 1 0 3.8 0a1.9 1.9 0 1 0 -3.8 0M120.42 30.39a1.9 1.9 0 1 0 3.8 0a1.9 1.9 0 1 0 -3.8 0M121.18 30.39a1.9 1.9 0 1 0 3.8 0a1.9 1.9 0 1 0 -3.8 0M121.93 30.39a1.9 1.9 0 1 0 3.8 0a1.9 1.9 0 1 0 -3.8 0M122.69 30.39a1.9 1.9 0 1 0 3.8 0a1.9 1.9 0 1 0 -3.8 0M123.45 30.39a1.9 1.9 0 1 0 3.8 0a1.9 1.9 0 1 0 -3.8 0M124.21 30.39a1.9 1.9 0 1 0 3.8 0a1.9 1.9 0 1 0 -3.8 0M124.96 30.39a1.9 1.9 0 1 0 3.8 0a1.9 1.9 0 1 0 -3.8 0M125.72 30.39a1.9 1.9 0 1 0 3.8 0a1.9 1.9 0 1 0 -3.8 0M126.48 30.39a1.9 1.9 0 1 0 3.8 0a1.9 1.9 0 1 0 -3.8 0M127.24 30.39a1.9 1.9 0 1 0 3.8 0a1.9 1.9 0 1 0 -3.8 0M128 30.39a1.9 1.9 0 1 0 3.8 0a1.9 1.9 0 1 0 -3.8 0M128.75 30.39a1.9 1.9 0 1 0 3.8 0a1.9 1.9 0 1 0 -3.8 0M129.51 30.39a1.9 1.9 0 1 0 3.8 0a1.9 1.9 0 1 0 -3.8 0M130.27 30.39a1.9 1.9 0 1 0 3.8 0a1.9 1.9 0 1 0 -3.8 0M131.03 30.39a1.9 1.9 0 1 0 3.8 0a1.9 1.9 0 1 0 -3.8 0M131.78 30.39a1.9 1.9 0 1 0 3.8 0a1.9 1.9 0 1 0 -3.8 0M132.54 30.39a1.9 1.9 0 1 0 3.8 0a1.9 1.9 0 1 0 -3.8 0M133.3 30.39a1.9 1.9 0 1 0 3.8 0a1.9 1.9 0 1 0 -3.8 0M134.06 30.39a1.9 1.9 0 1 0 3.8 0a1.9 1.9 0 1 0 -3.8 0M134.82 30.39a1.9 1.9 0 1 0 3.8 0a1.9 1.9 0 1 0 -3.8 0M135.57 30.39a1.9 1.9 0 1 0 3.8 0a1.9 1.9 0 1 0 -3.8 0M136.33 30.39a1.9 1.9 0 1 0 3.8 0a1.9 1.9 0 1 0 -3.8 0M137.09 30.39a1.9 1.9 0 1 0 3.8 0a1.9 1.9 0 1 0 -3.8 0M137.85 30.39a1.9 1.9 0 1 0 3.8 0a1.9 1.9 0 1 0 -3.8 0M138.6 30.39a1.9 1.9 0 1 0 3.8 0a1.9 1.9 0 1 0 -3.8 0M139.36 30.39a1.9 1.9 0 1 0 3.8 0a1.9 1.9 0 1 0 -3.8 0M140.12 30.39a1.9 1.9 0 1 0 3.8 0a1.9 1.9 0 1 0 -3.8 0M140.88 30.39a1.9 1.9 0 1 0 3.8 0a1.9 1.9 0 1 0 -3.8 0M141.64 30.39a1.9 1.9 0 1 0 3.8 0a1.9 1.9 0 1 0 -3.8 0M142.39 30.39a1.9 1.9 0 1 0 3.8 0a1.9 1.9 0 1 0 -3.8 0M143.15 30.39a1.9 1.9 0 1 0 3.8 0a1.9 1.9 0 1 0 -3.8 0M143.91 30.39a1.9 1.9 0 1 0 3.8 0a1.9 1.9 0 1 0 -3.8 0M144.67 30.39a1.9 1.9 0 1 0 3.8 0a1.9 1.9 0 1 0 -3.8 0M145.42 30.39a1.9 1.9 0 1 0 3.8 0a1.9 1.9 0 1 0 -3.8 0M146.18 30.39a1.9 1.9 0 1 0 3.8 0a1.9 1.9 0 1 0 -3.8 0M146.94 30.39a1.9 1.9 0 1 0 3.8 0a1.9 1.9 0 1 0 -3.8 0M147.7 30.39a1.9 1.9 0 1 0 3.8 0a1.9 1.9 0 1 0 -3.8 0M148.46 30.39a1.9 1.9 0 1 0 3.8 0a1.9 1.9 0 1 0 -3.8 0M149.21 30.39a1.9 1.9 0 1 0 3.8 0a1.9 1.9 0 1 0 -3.8 0M149.97 30.39a1.9 1.9 0 1 0 3.8 0a1.9 1.9 0 1 0 -3.8 0M150.73 30.39a1.9 1.9 0 1 0 3.8 0a1.9 1.9 0 1 0 -3.8 0M151.49 30.39a1.9 1.9 0 1 0 3.8 0a1.9 1.9 0 1 0 -3.8 0M152.25 30.39a1.9 1.9 0 1 0 3.8 0a1.9 1.9 0 1 0 -3.8 0M153 30.39a1.9 1.9 0 1 0 3.8 0a1.9 1.9 0 1 0 -3.8 0M153.76 30.39a1.9 1.9 0 1 0 3.8 0a1.9 1.9 0 1 0 -3.8 0M154.52 30.39a1.9 1.9 0 1 0 3.8 0a1.9 1.9 0 1 0 -3.8 0M155.28 30.39a1.9 1.9 0 1 0 3.8 0a1.9 1.9 0 1 0 -3.8 0M156.03 30.39a1.9 1.9 0 1 0 3.8 0a1.9 1.9 0 1 0 -3.8 0M156.79 30.39a1.9 1.9 0 1 0 3.8 0a1.9 1.9 0 1 0 -3.8 0M157.55 30.39a1.9 1.9 0 1 0 3.8 0a1.9 1.9 0 1 0 -3.8 0M158.31 30.39a1.9 1.9 0 1 0 3.8 0a1.9 1.9 0 1 0 -3.8 0M159.07 30.39a1.9 1.9 0 1 0 3.8 0a1.9 1.9 0 1 0 -3.8 0M159.82 30.39a1.9 1.9 0 1 0 3.8 0a1.9 1.9 0 1 0 -3.8 0M160.58 30.39a1.9 1.9 0 1 0 3.8 0a1.9 1.9 0 1 0 -3.8 0M161.34 30.39a1.9 1.9 0 1 0 3.8 0a1.9 1.9 0 1 0 -3.8 0M162.1 30.39a1.9 1.9 0 1 0 3.8 0a1.9 1.9 0 1 0 -3.8 0M162.85 30.39a1.9 1.9 0 1 0 3.8 0a1.9 1.9 0 1 0 -3.8 0M163.61 30.39a1.9 1.9 0 1 0 3.8 0a1.9 1.9 0 1 0 -3.8 0M164.37 30.39a1.9 1.9 0 1 0 3.8 0a1.9 1.9 0 1 0 -3.8 0M165.13 30.39a1.9 1.9 0 1 0 3.8 0a1.9 1.9 0 1 0 -3.8 0M165.89 30.39a1.9 1.9 0 1 0 3.8 0a1.9 1.9 0 1 0 -3.8 0M166.64 30.39a1.9 1.9 0 1 0 3.8 0a1.9 1.9 0 1 0 -3.8 0M167.4 30.39a1.9 1.9 0 1 0 3.8 0a1.9 1.9 0 1 0 -3.8 0M168.16 30.39a1.9 1.9 0 1 0 3.8 0a1.9 1.9 0 1 0 -3.8 0M168.92 30.39a1.9 1.9 0 1 0 3.8 0a1.9 1.9 0 1 0 -3.8 0M169.67 30.39a1.9 1.9 0 1 0 3.8 0a1.9 1.9 0 1 0 -3.8 0M170.43 30.39a1.9 1.9 0 1 0 3.8 0a1.9 1.9 0 1 0 -3.8 0M171.19 30.39a1.9 1.9 0 1 0 3.8 0a1.9 1.9 0 1 0 -3.8 0M171.95 30.39a1.9 1.9 0 1 0 3.8 0a1.9 1.9 0 1 0 -3.8 0M172.71 30.39a1.9 1.9 0 1 0 3.8 0a1.9 1.9 0 1 0 -3.8 0M173.46 30.39a1.9 1.9 0 1 0 3.8 0a1.9 1.9 0 1 0 -3.8 0M174.22 30.39a1.9 1.9 0 1 0 3.8 0a1.9 1.9 0 1 0 -3.8 0M174.98 30.39a1.9 1.9 0 1 0 3.8 0a1.9 1.9 0 1 0 -3.8 0M175.74 30.39a1.9 1.9 0 1 0 3.8 0a1.9 1.9 0 1 0 -3.8 0M176.49 30.39a1.9 1.9 0 1 0 3.8 0a1.9 1.9 0 1 0 -3.8 0M177.25 30.39a1.9 1.9 0 1 0 3.8 0a1.9 1.9 0 1 0 -3.8 0M178.01 30.39a1.9 1.9 0 1 0 3.8 0a1.9 1.9 0 1 0 -3.8 0M178.77 30.39a1.9 1.9 0 1 0 3.8 0a1.9 1.9 0 1 0 -3.8 0M179.53 30.39a1.9 1.9 0 1 0 3.8 0a1.9 1.9 0 1 0 -3.8 0M180.28 30.39a1.9 1.9 0 1 0 3.8 0a1.9 1.9 0 1 0 -3.8 0M181.04 30.39a1.9 1.9 0 1 0 3.8 0a1.9 1.9 0 1 0 -3.8 0M181.8 30.39a1.9 1.9 0 1 0 3.8 0a1.9 1.9 0 1 0 -3.8 0M182.56 30.39a1.9 1.9 0 1 0 3.8 0a1.9 1.9 0 1 0 -3.8 0M183.31 30.39a1.9 1.9 0 1 0 3.8 0a1.9 1.9 0 1 0 -3.8 0M184.07 30.39a1.9 1.9 0 1 0 3.8 0a1.9 1.9 0 1 0 -3.8 0M184.83 30.39a1.9 1.9 0 1 0 3.8 0a1.9 1.9 0 1 0 -3.8 0M185.59 30.39a1.9 1.9 0 1 0 3.8 0a1.9 1.9 0 1 0 -3.8 0M186.35 30.39a1.9 1.9 0 1 0 3.8 0a1.9 1.9 0 1 0 -3.8 0M187.1 30.39a1.9 1.9 0 1 0 3.8 0a1.9 1.9 0 1 0 -3.8 0M187.86 30.39a1.9 1.9 0 1 0 3.8 0a1.9 1.9 0 1 0 -3.8 0M188.62 30.39a1.9 1.9 0 1 0 3.8 0a1.9 1.9 0 1 0 -3.8 0M189.38 30.39a1.9 1.9 0 1 0 3.8 0a1.9 1.9 0 1 0 -3.8 0M190.14 30.39a1.9 1.9 0 1 0 3.8 0a1.9 1.9 0 1 0 -3.8 0M190.89 30.39a1.9 1.9 0 1 0 3.8 0a1.9 1.9 0 1 0 -3.8 0M191.65 30.39a1.9 1.9 0 1 0 3.8 0a1.9 1.9 0 1 0 -3.8 0M192.41 30.39a1.9 1.9 0 1 0 3.8 0a1.9 1.9 0 1 0 -3.8 0M193.17 30.39a1.9 1.9 0 1 0 3.8 0a1.9 1.9 0 1 0 -3.8 0M193.92 30.39a1.9 1.9 0 1 0 3.8 0a1.9 1.9 0 1 0 -3.8 0M194.68 30.4a1.9 1.9 0 1 0 3.8 0a1.9 1.9 0 1 0 -3.8 0M195.44 30.4a1.9 1.9 0 1 0 3.8 0a1.9 1.9 0 1 0 -3.8 0M196.2 30.4a1.9 1.9 0 1 0 3.8 0a1.9 1.9 0 1 0 -3.8 0M196.96 30.4a1.9 1.9 0 1 0 3.8 0a1.9 1.9 0 1 0 -3.8 0M197.71 30.4a1.9 1.9 0 1 0 3.8 0a1.9 1.9 0 1 0 -3.8 0M198.47 30.4a1.9 1.9 0 1 0 3.8 0a1.9 1.9 0 1 0 -3.8 0M199.23 30.4a1.9 1.9 0 1 0 3.8 0a1.9 1.9 0 1 0 -3.8 0M199.99 30.4a1.9 1.9 0 1 0 3.8 0a1.9 1.9 0 1 0 -3.8 0M200.74 30.4a1.9 1.9 0 1 0 3.8 0a1.9 1.9 0 1 0 -3.8 0M201.5 30.4a1.9 1.9 0 1 0 3.8 0a1.9 1.9 0 1 0 -3.8 0M202.26 30.4a1.9 1.9 0 1 0 3.8 0a1.9 1.9 0 1 0 -3.8 0M203.02 30.4a1.9 1.9 0 1 0 3.8 0a1.9 1.9 0 1 0 -3.8 0M203.78 30.4a1.9 1.9 0 1 0 3.8 0a1.9 1.9 0 1 0 -3.8 0M204.53 30.4a1.9 1.9 0 1 0 3.8 0a1.9 1.9 0 1 0 -3.8 0M205.29 30.4a1.9 1.9 0 1 0 3.8 0a1.9 1.9 0 1 0 -3.8 0M206.05 30.4a1.9 1.9 0 1 0 3.8 0a1.9 1.9 0 1 0 -3.8 0M206.81 30.41a1.9 1.9 0 1 0 3.8 0a1.9 1.9 0 1 0 -3.8 0M207.56 30.41a1.9 1.9 0 1 0 3.8 0a1.9 1.9 0 1 0 -3.8 0M208.32 30.41a1.9 1.9 0 1 0 3.8 0a1.9 1.9 0 1 0 -3.8 0M209.08 30.41a1.9 1.9 0 1 0 3.8 0a1.9 1.9 0 1 0 -3.8 0M209.84 30.41a1.9 1.9 0 1 0 3.8 0a1.9 1.9 0 1 0 -3.8 0M210.6 30.41a1.9 1.9 0 1 0 3.8 0a1.9 1.9 0 1 0 -3.8 0M211.35 30.41a1.9 1.9 0 1 0 3.8 0a1.9 1.9 0 1 0 -3.8 0M212.11 30.41a1.9 1.9 0 1 0 3.8 0a1.9 1.9 0 1 0 -3.8 0M212.87 30.41a1.9 1.9 0 1 0 3.8 0a1.9 1.9 0 1 0 -3.8 0M213.63 30.42a1.9 1.9 0 1 0 3.8 0a1.9 1.9 0 1 0 -3.8 0M214.38 30.42a1.9 1.9 0 1 0 3.8 0a1.9 1.9 0 1 0 -3.8 0M215.14 30.42a1.9 1.9 0 1 0 3.8 0a1.9 1.9 0 1 0 -3.8 0M215.9 30.42a1.9 1.9 0 1 0 3.8 0a1.9 1.9 0 1 0 -3.8 0M216.66 30.42a1.9 1.9 0 1 0 3.8 0a1.9 1.9 0 1 0 -3.8 0M217.42 30.42a1.9 1.9 0 1 0 3.8 0a1.9 1.9 0 1 0 -3.8 0M218.17 30.43a1.9 1.9 0 1 0 3.8 0a1.9 1.9 0 1 0 -3.8 0M218.93 30.43a1.9 1.9 0 1 0 3.8 0a1.9 1.9 0 1 0 -3.8 0M219.69 30.43a1.9 1.9 0 1 0 3.8 0a1.9 1.9 0 1 0 -3.8 0M220.45 30.43a1.9 1.9 0 1 0 3.8 0a1.9 1.9 0 1 0 -3.8 0M221.2 30.43a1.9 1.9 0 1 0 3.8 0a1.9 1.9 0 1 0 -3.8 0M221.96 30.44a1.9 1.9 0 1 0 3.8 0a1.9 1.9 0 1 0 -3.8 0M222.72 30.44a1.9 1.9 0 1 0 3.8 0a1.9 1.9 0 1 0 -3.8 0M223.48 30.44a1.9 1.9 0 1 0 3.8 0a1.9 1.9 0 1 0 -3.8 0M224.24 30.44a1.9 1.9 0 1 0 3.8 0a1.9 1.9 0 1 0 -3.8 0M224.99 30.45a1.9 1.9 0 1 0 3.8 0a1.9 1.9 0 1 0 -3.8 0M225.75 30.45a1.9 1.9 0 1 0 3.8 0a1.9 1.9 0 1 0 -3.8 0M226.51 30.45a1.9 1.9 0 1 0 3.8 0a1.9 1.9 0 1 0 -3.8 0M227.27 30.46a1.9 1.9 0 1 0 3.8 0a1.9 1.9 0 1 0 -3.8 0M228.03 30.46a1.9 1.9 0 1 0 3.8 0a1.9 1.9 0 1 0 -3.8 0M228.78 30.46a1.9 1.9 0 1 0 3.8 0a1.9 1.9 0 1 0 -3.8 0M229.54 30.47a1.9 1.9 0 1 0 3.8 0a1.9 1.9 0 1 0 -3.8 0M230.3 30.47a1.9 1.9 0 1 0 3.8 0a1.9 1.9 0 1 0 -3.8 0M231.06 30.48a1.9 1.9 0 1 0 3.8 0a1.9 1.9 0 1 0 -3.8 0M231.81 30.48a1.9 1.9 0 1 0 3.8 0a1.9 1.9 0 1 0 -3.8 0M232.57 30.49a1.9 1.9 0 1 0 3.8 0a1.9 1.9 0 1 0 -3.8 0M233.33 30.49a1.9 1.9 0 1 0 3.8 0a1.9 1.9 0 1 0 -3.8 0M234.09 30.5a1.9 1.9 0 1 0 3.8 0a1.9 1.9 0 1 0 -3.8 0M234.85 30.5a1.9 1.9 0 1 0 3.8 0a1.9 1.9 0 1 0 -3.8 0M235.6 30.51a1.9 1.9 0 1 0 3.8 0a1.9 1.9 0 1 0 -3.8 0M236.36 30.51a1.9 1.9 0 1 0 3.8 0a1.9 1.9 0 1 0 -3.8 0M237.12 30.52a1.9 1.9 0 1 0 3.8 0a1.9 1.9 0 1 0 -3.8 0M237.88 30.53a1.9 1.9 0 1 0 3.8 0a1.9 1.9 0 1 0 -3.8 0M238.63 30.53a1.9 1.9 0 1 0 3.8 0a1.9 1.9 0 1 0 -3.8 0M239.39 30.54a1.9 1.9 0 1 0 3.8 0a1.9 1.9 0 1 0 -3.8 0M240.15 30.55a1.9 1.9 0 1 0 3.8 0a1.9 1.9 0 1 0 -3.8 0M240.91 30.56a1.9 1.9 0 1 0 3.8 0a1.9 1.9 0 1 0 -3.8 0M241.67 30.56a1.9 1.9 0 1 0 3.8 0a1.9 1.9 0 1 0 -3.8 0M242.42 30.57a1.9 1.9 0 1 0 3.8 0a1.9 1.9 0 1 0 -3.8 0M243.18 30.58a1.9 1.9 0 1 0 3.8 0a1.9 1.9 0 1 0 -3.8 0M243.94 30.59a1.9 1.9 0 1 0 3.8 0a1.9 1.9 0 1 0 -3.8 0M244.7 30.6a1.9 1.9 0 1 0 3.8 0a1.9 1.9 0 1 0 -3.8 0M245.45 30.61a1.9 1.9 0 1 0 3.8 0a1.9 1.9 0 1 0 -3.8 0M246.21 30.62a1.9 1.9 0 1 0 3.8 0a1.9 1.9 0 1 0 -3.8 0M246.97 30.64a1.9 1.9 0 1 0 3.8 0a1.9 1.9 0 1 0 -3.8 0M247.73 30.65a1.9 1.9 0 1 0 3.8 0a1.9 1.9 0 1 0 -3.8 0M248.49 30.66a1.9 1.9 0 1 0 3.8 0a1.9 1.9 0 1 0 -3.8 0M249.24 30.67a1.9 1.9 0 1 0 3.8 0a1.9 1.9 0 1 0 -3.8 0M250 30.69a1.9 1.9 0 1 0 3.8 0a1.9 1.9 0 1 0 -3.8 0M250.76 30.7a1.9 1.9 0 1 0 3.8 0a1.9 1.9 0 1 0 -3.8 0M251.52 30.72a1.9 1.9 0 1 0 3.8 0a1.9 1.9 0 1 0 -3.8 0M252.27 30.74a1.9 1.9 0 1 0 3.8 0a1.9 1.9 0 1 0 -3.8 0M253.03 30.75a1.9 1.9 0 1 0 3.8 0a1.9 1.9 0 1 0 -3.8 0M253.79 30.77a1.9 1.9 0 1 0 3.8 0a1.9 1.9 0 1 0 -3.8 0M254.55 30.79a1.9 1.9 0 1 0 3.8 0a1.9 1.9 0 1 0 -3.8 0M255.31 30.81a1.9 1.9 0 1 0 3.8 0a1.9 1.9 0 1 0 -3.8 0M256.06 30.83a1.9 1.9 0 1 0 3.8 0a1.9 1.9 0 1 0 -3.8 0M256.82 30.85a1.9 1.9 0 1 0 3.8 0a1.9 1.9 0 1 0 -3.8 0M257.58 30.88a1.9 1.9 0 1 0 3.8 0a1.9 1.9 0 1 0 -3.8 0M258.34 30.9a1.9 1.9 0 1 0 3.8 0a1.9 1.9 0 1 0 -3.8 0M259.1 30.93a1.9 1.9 0 1 0 3.8 0a1.9 1.9 0 1 0 -3.8 0M259.85 30.95a1.9 1.9 0 1 0 3.8 0a1.9 1.9 0 1 0 -3.8 0M260.61 30.98a1.9 1.9 0 1 0 3.8 0a1.9 1.9 0 1 0 -3.8 0M261.37 31.01a1.9 1.9 0 1 0 3.8 0a1.9 1.9 0 1 0 -3.8 0M262.13 31.04a1.9 1.9 0 1 0 3.8 0a1.9 1.9 0 1 0 -3.8 0M262.88 31.07a1.9 1.9 0 1 0 3.8 0a1.9 1.9 0 1 0 -3.8 0M263.64 31.11a1.9 1.9 0 1 0 3.8 0a1.9 1.9 0 1 0 -3.8 0M264.4 31.14a1.9 1.9 0 1 0 3.8 0a1.9 1.9 0 1 0 -3.8 0M265.16 31.18a1.9 1.9 0 1 0 3.8 0a1.9 1.9 0 1 0 -3.8 0M265.92 31.22a1.9 1.9 0 1 0 3.8 0a1.9 1.9 0 1 0 -3.8 0M266.67 31.26a1.9 1.9 0 1 0 3.8 0a1.9 1.9 0 1 0 -3.8 0M267.43 31.3a1.9 1.9 0 1 0 3.8 0a1.9 1.9 0 1 0 -3.8 0M268.19 31.35a1.9 1.9 0 1 0 3.8 0a1.9 1.9 0 1 0 -3.8 0M268.95 31.39a1.9 1.9 0 1 0 3.8 0a1.9 1.9 0 1 0 -3.8 0M269.7 31.44a1.9 1.9 0 1 0 3.8 0a1.9 1.9 0 1 0 -3.8 0M270.46 31.5a1.9 1.9 0 1 0 3.8 0a1.9 1.9 0 1 0 -3.8 0M271.22 31.55a1.9 1.9 0 1 0 3.8 0a1.9 1.9 0 1 0 -3.8 0M271.98 31.61a1.9 1.9 0 1 0 3.8 0a1.9 1.9 0 1 0 -3.8 0M272.74 31.67a1.9 1.9 0 1 0 3.8 0a1.9 1.9 0 1 0 -3.8 0M273.49 31.73a1.9 1.9 0 1 0 3.8 0a1.9 1.9 0 1 0 -3.8 0M274.25 31.8a1.9 1.9 0 1 0 3.8 0a1.9 1.9 0 1 0 -3.8 0M275.01 31.87a1.9 1.9 0 1 0 3.8 0a1.9 1.9 0 1 0 -3.8 0M275.77 31.94a1.9 1.9 0 1 0 3.8 0a1.9 1.9 0 1 0 -3.8 0M276.52 32.01a1.9 1.9 0 1 0 3.8 0a1.9 1.9 0 1 0 -3.8 0M277.28 32.09a1.9 1.9 0 1 0 3.8 0a1.9 1.9 0 1 0 -3.8 0M278.04 32.18a1.9 1.9 0 1 0 3.8 0a1.9 1.9 0 1 0 -3.8 0M278.8 32.26a1.9 1.9 0 1 0 3.8 0a1.9 1.9 0 1 0 -3.8 0M279.56 32.36a1.9 1.9 0 1 0 3.8 0a1.9 1.9 0 1 0 -3.8 0M280.31 32.45a1.9 1.9 0 1 0 3.8 0a1.9 1.9 0 1 0 -3.8 0M281.07 32.55a1.9 1.9 0 1 0 3.8 0a1.9 1.9 0 1 0 -3.8 0M281.83 32.66a1.9 1.9 0 1 0 3.8 0a1.9 1.9 0 1 0 -3.8 0M282.59 32.77a1.9 1.9 0 1 0 3.8 0a1.9 1.9 0 1 0 -3.8 0M283.34 32.88a1.9 1.9 0 1 0 3.8 0a1.9 1.9 0 1 0 -3.8 0M284.1 33a1.9 1.9 0 1 0 3.8 0a1.9 1.9 0 1 0 -3.8 0M284.86 33.13a1.9 1.9 0 1 0 3.8 0a1.9 1.9 0 1 0 -3.8 0M285.62 33.26a1.9 1.9 0 1 0 3.8 0a1.9 1.9 0 1 0 -3.8 0M286.38 33.4a1.9 1.9 0 1 0 3.8 0a1.9 1.9 0 1 0 -3.8 0M287.13 33.55a1.9 1.9 0 1 0 3.8 0a1.9 1.9 0 1 0 -3.8 0M287.89 33.7a1.9 1.9 0 1 0 3.8 0a1.9 1.9 0 1 0 -3.8 0M288.65 33.86a1.9 1.9 0 1 0 3.8 0a1.9 1.9 0 1 0 -3.8 0M289.41 34.02a1.9 1.9 0 1 0 3.8 0a1.9 1.9 0 1 0 -3.8 0M290.16 34.2a1.9 1.9 0 1 0 3.8 0a1.9 1.9 0 1 0 -3.8 0M290.92 34.38a1.9 1.9 0 1 0 3.8 0a1.9 1.9 0 1 0 -3.8 0M291.68 34.57a1.9 1.9 0 1 0 3.8 0a1.9 1.9 0 1 0 -3.8 0M292.44 34.77a1.9 1.9 0 1 0 3.8 0a1.9 1.9 0 1 0 -3.8 0M293.2 34.98a1.9 1.9 0 1 0 3.8 0a1.9 1.9 0 1 0 -3.8 0M293.95 35.2a1.9 1.9 0 1 0 3.8 0a1.9 1.9 0 1 0 -3.8 0M294.71 35.42a1.9 1.9 0 1 0 3.8 0a1.9 1.9 0 1 0 -3.8 0M295.47 35.66a1.9 1.9 0 1 0 3.8 0a1.9 1.9 0 1 0 -3.8 0M296.23 35.91a1.9 1.9 0 1 0 3.8 0a1.9 1.9 0 1 0 -3.8 0M296.99 36.17a1.9 1.9 0 1 0 3.8 0a1.9 1.9 0 1 0 -3.8 0M297.74 36.44a1.9 1.9 0 1 0 3.8 0a1.9 1.9 0 1 0 -3.8 0M298.5 36.73a1.9 1.9 0 1 0 3.8 0a1.9 1.9 0 1 0 -3.8 0M299.26 37.02a1.9 1.9 0 1 0 3.8 0a1.9 1.9 0 1 0 -3.8 0M300.02 37.33a1.9 1.9 0 1 0 3.8 0a1.9 1.9 0 1 0 -3.8 0M300.77 37.65a1.9 1.9 0 1 0 3.8 0a1.9 1.9 0 1 0 -3.8 0M301.53 37.99a1.9 1.9 0 1 0 3.8 0a1.9 1.9 0 1 0 -3.8 0M302.29 38.34a1.9 1.9 0 1 0 3.8 0a1.9 1.9 0 1 0 -3.8 0M303.05 38.71a1.9 1.9 0 1 0 3.8 0a1.9 1.9 0 1 0 -3.8 0M303.81 39.09a1.9 1.9 0 1 0 3.8 0a1.9 1.9 0 1 0 -3.8 0M304.56 39.49a1.9 1.9 0 1 0 3.8 0a1.9 1.9 0 1 0 -3.8 0M305.32 39.9a1.9 1.9 0 1 0 3.8 0a1.9 1.9 0 1 0 -3.8 0M306.08 40.33a1.9 1.9 0 1 0 3.8 0a1.9 1.9 0 1 0 -3.8 0M306.84 40.78a1.9 1.9 0 1 0 3.8 0a1.9 1.9 0 1 0 -3.8 0M307.59 41.25a1.9 1.9 0 1 0 3.8 0a1.9 1.9 0 1 0 -3.8 0M308.35 41.74a1.9 1.9 0 1 0 3.8 0a1.9 1.9 0 1 0 -3.8 0M309.11 42.24a1.9 1.9 0 1 0 3.8 0a1.9 1.9 0 1 0 -3.8 0M309.87 42.77a1.9 1.9 0 1 0 3.8 0a1.9 1.9 0 1 0 -3.8 0M310.63 43.32a1.9 1.9 0 1 0 3.8 0a1.9 1.9 0 1 0 -3.8 0M311.38 43.89a1.9 1.9 0 1 0 3.8 0a1.9 1.9 0 1 0 -3.8 0M312.14 44.48a1.9 1.9 0 1 0 3.8 0a1.9 1.9 0 1 0 -3.8 0M312.9 45.09a1.9 1.9 0 1 0 3.8 0a1.9 1.9 0 1 0 -3.8 0M313.66 45.73a1.9 1.9 0 1 0 3.8 0a1.9 1.9 0 1 0 -3.8 0M314.41 46.39a1.9 1.9 0 1 0 3.8 0a1.9 1.9 0 1 0 -3.8 0M315.17 47.08a1.9 1.9 0 1 0 3.8 0a1.9 1.9 0 1 0 -3.8 0M315.93 47.79a1.9 1.9 0 1 0 3.8 0a1.9 1.9 0 1 0 -3.8 0M316.69 48.53a1.9 1.9 0 1 0 3.8 0a1.9 1.9 0 1 0 -3.8 0M317.45 49.29a1.9 1.9 0 1 0 3.8 0a1.9 1.9 0 1 0 -3.8 0M318.2 50.08a1.9 1.9 0 1 0 3.8 0a1.9 1.9 0 1 0 -3.8 0M318.96 50.9a1.9 1.9 0 1 0 3.8 0a1.9 1.9 0 1 0 -3.8 0M319.72 51.75a1.9 1.9 0 1 0 3.8 0a1.9 1.9 0 1 0 -3.8 0M320.48 52.62a1.9 1.9 0 1 0 3.8 0a1.9 1.9 0 1 0 -3.8 0M321.23 53.53a1.9 1.9 0 1 0 3.8 0a1.9 1.9 0 1 0 -3.8 0M321.99 54.46a1.9 1.9 0 1 0 3.8 0a1.9 1.9 0 1 0 -3.8 0M322.75 55.43a1.9 1.9 0 1 0 3.8 0a1.9 1.9 0 1 0 -3.8 0M323.51 56.43a1.9 1.9 0 1 0 3.8 0a1.9 1.9 0 1 0 -3.8 0M324.27 57.46a1.9 1.9 0 1 0 3.8 0a1.9 1.9 0 1 0 -3.8 0M325.02 58.52a1.9 1.9 0 1 0 3.8 0a1.9 1.9 0 1 0 -3.8 0M325.78 59.61a1.9 1.9 0 1 0 3.8 0a1.9 1.9 0 1 0 -3.8 0M326.54 60.74a1.9 1.9 0 1 0 3.8 0a1.9 1.9 0 1 0 -3.8 0M327.3 61.9a1.9 1.9 0 1 0 3.8 0a1.9 1.9 0 1 0 -3.8 0M328.05 63.09a1.9 1.9 0 1 0 3.8 0a1.9 1.9 0 1 0 -3.8 0M328.81 64.32a1.9 1.9 0 1 0 3.8 0a1.9 1.9 0 1 0 -3.8 0M329.57 65.58a1.9 1.9 0 1 0 3.8 0a1.9 1.9 0 1 0 -3.8 0M330.33 66.88a1.9 1.9 0 1 0 3.8 0a1.9 1.9 0 1 0 -3.8 0M331.09 68.21a1.9 1.9 0 1 0 3.8 0a1.9 1.9 0 1 0 -3.8 0M331.84 69.58a1.9 1.9 0 1 0 3.8 0a1.9 1.9 0 1 0 -3.8 0M332.6 70.99a1.9 1.9 0 1 0 3.8 0a1.9 1.9 0 1 0 -3.8 0M333.36 72.43a1.9 1.9 0 1 0 3.8 0a1.9 1.9 0 1 0 -3.8 0M334.12 73.91a1.9 1.9 0 1 0 3.8 0a1.9 1.9 0 1 0 -3.8 0M334.88 75.42a1.9 1.9 0 1 0 3.8 0a1.9 1.9 0 1 0 -3.8 0M335.63 76.97a1.9 1.9 0 1 0 3.8 0a1.9 1.9 0 1 0 -3.8 0M336.39 78.56a1.9 1.9 0 1 0 3.8 0a1.9 1.9 0 1 0 -3.8 0M337.15 80.18a1.9 1.9 0 1 0 3.8 0a1.9 1.9 0 1 0 -3.8 0M337.91 81.84a1.9 1.9 0 1 0 3.8 0a1.9 1.9 0 1 0 -3.8 0M338.66 83.54a1.9 1.9 0 1 0 3.8 0a1.9 1.9 0 1 0 -3.8 0M339.42 85.27a1.9 1.9 0 1 0 3.8 0a1.9 1.9 0 1 0 -3.8 0M340.18 87.04a1.9 1.9 0 1 0 3.8 0a1.9 1.9 0 1 0 -3.8 0M340.94 88.85a1.9 1.9 0 1 0 3.8 0a1.9 1.9 0 1 0 -3.8 0M341.7 90.7a1.9 1.9 0 1 0 3.8 0a1.9 1.9 0 1 0 -3.8 0M342.45 92.58a1.9 1.9 0 1 0 3.8 0a1.9 1.9 0 1 0 -3.8 0M343.21 94.5a1.9 1.9 0 1 0 3.8 0a1.9 1.9 0 1 0 -3.8 0M343.97 96.45a1.9 1.9 0 1 0 3.8 0a1.9 1.9 0 1 0 -3.8 0M344.73 98.45a1.9 1.9 0 1 0 3.8 0a1.9 1.9 0 1 0 -3.8 0M345.48 100.47a1.9 1.9 0 1 0 3.8 0a1.9 1.9 0 1 0 -3.8 0M346.24 102.54a1.9 1.9 0 1 0 3.8 0a1.9 1.9 0 1 0 -3.8 0M347 104.64a1.9 1.9 0 1 0 3.8 0a1.9 1.9 0 1 0 -3.8 0M347.76 106.77a1.9 1.9 0 1 0 3.8 0a1.9 1.9 0 1 0 -3.8 0M348.52 108.94a1.9 1.9 0 1 0 3.8 0a1.9 1.9 0 1 0 -3.8 0M349.27 111.15a1.9 1.9 0 1 0 3.8 0a1.9 1.9 0 1 0 -3.8 0M350.03 113.39a1.9 1.9 0 1 0 3.8 0a1.9 1.9 0 1 0 -3.8 0M350.79 115.66a1.9 1.9 0 1 0 3.8 0a1.9 1.9 0 1 0 -3.8 0M351.55 117.97a1.9 1.9 0 1 0 3.8 0a1.9 1.9 0 1 0 -3.8 0M352.3 120.31a1.9 1.9 0 1 0 3.8 0a1.9 1.9 0 1 0 -3.8 0M353.06 122.69a1.9 1.9 0 1 0 3.8 0a1.9 1.9 0 1 0 -3.8 0M353.82 125.1a1.9 1.9 0 1 0 3.8 0a1.9 1.9 0 1 0 -3.8 0M354.58 127.54a1.9 1.9 0 1 0 3.8 0a1.9 1.9 0 1 0 -3.8 0M355.34 130.01a1.9 1.9 0 1 0 3.8 0a1.9 1.9 0 1 0 -3.8 0M356.09 132.52a1.9 1.9 0 1 0 3.8 0a1.9 1.9 0 1 0 -3.8 0M356.85 135.06a1.9 1.9 0 1 0 3.8 0a1.9 1.9 0 1 0 -3.8 0M357.61 137.63a1.9 1.9 0 1 0 3.8 0a1.9 1.9 0 1 0 -3.8 0M358.37 140.23a1.9 1.9 0 1 0 3.8 0a1.9 1.9 0 1 0 -3.8 0M359.12 142.86a1.9 1.9 0 1 0 3.8 0a1.9 1.9 0 1 0 -3.8 0M359.88 145.52a1.9 1.9 0 1 0 3.8 0a1.9 1.9 0 1 0 -3.8 0M360.64 148.21a1.9 1.9 0 1 0 3.8 0a1.9 1.9 0 1 0 -3.8 0M361.4 150.93a1.9 1.9 0 1 0 3.8 0a1.9 1.9 0 1 0 -3.8 0M362.16 153.68a1.9 1.9 0 1 0 3.8 0a1.9 1.9 0 1 0 -3.8 0M362.91 156.46a1.9 1.9 0 1 0 3.8 0a1.9 1.9 0 1 0 -3.8 0M363.67 159.27a1.9 1.9 0 1 0 3.8 0a1.9 1.9 0 1 0 -3.8 0M364.43 162.11a1.9 1.9 0 1 0 3.8 0a1.9 1.9 0 1 0 -3.8 0M365.19 164.97a1.9 1.9 0 1 0 3.8 0a1.9 1.9 0 1 0 -3.8 0M365.94 167.86a1.9 1.9 0 1 0 3.8 0a1.9 1.9 0 1 0 -3.8 0M366.7 170.78a1.9 1.9 0 1 0 3.8 0a1.9 1.9 0 1 0 -3.8 0M367.46 173.72a1.9 1.9 0 1 0 3.8 0a1.9 1.9 0 1 0 -3.8 0M368.22 176.69a1.9 1.9 0 1 0 3.8 0a1.9 1.9 0 1 0 -3.8 0M368.98 179.68a1.9 1.9 0 1 0 3.8 0a1.9 1.9 0 1 0 -3.8 0M369.73 182.7a1.9 1.9 0 1 0 3.8 0a1.9 1.9 0 1 0 -3.8 0M370.49 185.75a1.9 1.9 0 1 0 3.8 0a1.9 1.9 0 1 0 -3.8 0M371.25 188.81a1.9 1.9 0 1 0 3.8 0a1.9 1.9 0 1 0 -3.8 0M372.01 191.91a1.9 1.9 0 1 0 3.8 0a1.9 1.9 0 1 0 -3.8 0M372.76 195.02a1.9 1.9 0 1 0 3.8 0a1.9 1.9 0 1 0 -3.8 0M373.52 198.16a1.9 1.9 0 1 0 3.8 0a1.9 1.9 0 1 0 -3.8 0M374.28 201.33a1.9 1.9 0 1 0 3.8 0a1.9 1.9 0 1 0 -3.8 0M375.04 202.5a1.9 1.9 0 1 0 3.8 0a1.9 1.9 0 1 0 -3.8 0M375.8 202.5a1.9 1.9 0 1 0 3.8 0a1.9 1.9 0 1 0 -3.8 0M376.55 202.5a1.9 1.9 0 1 0 3.8 0a1.9 1.9 0 1 0 -3.8 0M377.31 202.5a1.9 1.9 0 1 0 3.8 0a1.9 1.9 0 1 0 -3.8 0M378.07 202.5a1.9 1.9 0 1 0 3.8 0a1.9 1.9 0 1 0 -3.8 0M378.83 202.5a1.9 1.9 0 1 0 3.8 0a1.9 1.9 0 1 0 -3.8 0M379.59 202.5a1.9 1.9 0 1 0 3.8 0a1.9 1.9 0 1 0 -3.8 0M380.34 202.5a1.9 1.9 0 1 0 3.8 0a1.9 1.9 0 1 0 -3.8 0M381.1 202.5a1.9 1.9 0 1 0 3.8 0a1.9 1.9 0 1 0 -3.8 0M381.86 202.5a1.9 1.9 0 1 0 3.8 0a1.9 1.9 0 1 0 -3.8 0M382.62 202.5a1.9 1.9 0 1 0 3.8 0a1.9 1.9 0 1 0 -3.8 0M383.37 202.5a1.9 1.9 0 1 0 3.8 0a1.9 1.9 0 1 0 -3.8 0M384.13 202.5a1.9 1.9 0 1 0 3.8 0a1.9 1.9 0 1 0 -3.8 0M384.89 202.5a1.9 1.9 0 1 0 3.8 0a1.9 1.9 0 1 0 -3.8 0M385.65 202.5a1.9 1.9 0 1 0 3.8 0a1.9 1.9 0 1 0 -3.8 0M386.41 202.5a1.9 1.9 0 1 0 3.8 0a1.9 1.9 0 1 0 -3.8 0M387.16 202.5a1.9 1.9 0 1 0 3.8 0a1.9 1.9 0 1 0 -3.8 0M387.92 202.5a1.9 1.9 0 1 0 3.8 0a1.9 1.9 0 1 0 -3.8 0M388.68 202.5a1.9 1.9 0 1 0 3.8 0a1.9 1.9 0 1 0 -3.8 0M389.44 202.5a1.9 1.9 0 1 0 3.8 0a1.9 1.9 0 1 0 -3.8 0M390.19 202.5a1.9 1.9 0 1 0 3.8 0a1.9 1.9 0 1 0 -3.8 0M390.95 202.5a1.9 1.9 0 1 0 3.8 0a1.9 1.9 0 1 0 -3.8 0M391.71 202.5a1.9 1.9 0 1 0 3.8 0a1.9 1.9 0 1 0 -3.8 0M392.47 202.5a1.9 1.9 0 1 0 3.8 0a1.9 1.9 0 1 0 -3.8 0M393.23 202.5a1.9 1.9 0 1 0 3.8 0a1.9 1.9 0 1 0 -3.8 0M393.98 202.5a1.9 1.9 0 1 0 3.8 0a1.9 1.9 0 1 0 -3.8 0M394.74 202.5a1.9 1.9 0 1 0 3.8 0a1.9 1.9 0 1 0 -3.8 0M395.5 202.5a1.9 1.9 0 1 0 3.8 0a1.9 1.9 0 1 0 -3.8 0" stroke="#D95319" stroke-width="1.0" fill="none"/>
<path d="M51.15 28.94l2.9 2.9M51.15 31.84l2.9 -2.9M51.91 28.94l2.9 2.9M51.91 31.84l2.9 -2.9M52.67 28.94l2.9 2.9M52.67 31.84l2.9 -2.9M53.42 28.94l2.9 2.9M53.42 31.84l2.9 -2.9M54.18 28.94l2.9 2.9M54.18 31.84l2.9 -2.9M54.94 28.94l2.9 2.9M54.94 31.84l2.9 -2.9M55.7 28.94l2.9 2.9M55.7 31.84l2.9 -2.9M56.45 28.94l2.9 2.9M56.45 31.84l2.9 -2.9M57.21 28.94l2.9 2.9M57.21 31.84l2.9 -2.9M57.97 28.94l2.9 2.9M57.97 31.84l2.9 -2.9M58.73 28.94l2.9 2.9M58.73 31.84l2.9 -2.9M59.49 28.94l2.9 2.9M59.49 31.84l2.9 -2.9M60.24 28.94l2.9 2.9M60.24 31.84l2.9 -2.9M61 28.94l2.9 2.9M61 31.84l2.9 -2.9M61.76 28.94l2.9 2.9M61.76 31.84l2.9 -2.9M62.52 28.94l2.9 2.9M62.52 31.84l2.9 -2.9M63.27 28.94l2.9 2.9M63.27 31.84l2.9 -2.9M64.03 28.94l2.9 2.9M64.03 31.84l2.9 -2.9M64.79 28.94l2.9 2.9M64.79 31.84l2.9 -2.9M65.55 28.94l2.9 2.9M65.55 31.84l2.9 -2.9M66.31 28.94l2.9 2.9M66.31 31.84l2.9 -2.9M67.06 28.94l2.9 2.9M67.06 31.84l2.9 -2.9M67.82 28.94l2.9 2.9M67.82 31.84l2.9 -2.9M68.58 28.94l2.9 2.9M68.58 31.84l2.9 -2.9M69.34 28.94l2.9 2.9M69.34 31.84l2.9 -2.9M70.09 28.94l2.9 2.9M70.09 31.84l2.9 -2.9M70.85 28.94l2.9 2.9M70.85 31.84l2.9 -2.9M71.61 28.94l2.9 2.9M71.61 31.84l2.9 -2.9M72.37 28.94l2.9 2.9M72.37 31.84l2.9 -2.9M73.13 28.94l2.9 2.9M73.13 31.84l2.9 -2.9M73.88 28.94l2.9 2.9M73.88 31.84l2.9 -2.9M74.64 28.94l2.9 2.9M74.64 31.84l2.9 -2.9M75.4 28.94l2.9 2.9M75.4 31.84l2.9 -2.9M76.16 28.94l2.9 2.9M76.16 31.84l2.9 -2.9M76.92 28.94l2.9 2.9M76.92 31.84l2.9 -2.9M77.67 28.94l2.9 2.9M77.67 31.84l2.9 -2.9M78.43 28.94l2.9 2.9M78.43 31.84l2.9 -2.9M79.19 28.94l2.9 2.9M79.19 31.84l2.9 -2.9M79.95 28.94l2.9 2.9M79.95 31.84l2.9 -2.9M80.7 28.94l2.9 2.9M80.7 31.84l2.9 -2.9M81.46 28.94l2.9 2.9M81.46 31.84l2.9 -2.9M82.22 28.94l2.9 2.9M82.22 31.84l2.9 -2.9M82.98 28.94l2.9 2.9M82.98 31.84l2.9 -2.9M83.74 28.94l2.9 2.9M83.74 31.84l2.9 -2.9M84.49 28.94l2.9 2.9M84.49 31.84l2.9 -2.9M85.25 28.94l2.9 2.9M85.25 31.84l2.9 -2.9M86.01 28.94l2.9 2.9M86.01 31.84l2.9 -2.9M86.77 28.94l2.9 2.9M86.77 31.84l2.9 -2.9M87.52 28.94l2.9 2.9M87.52 31.84l2.9 -2.9M88.28 28.94l2.9 2.9M88.28 31.84l2.9 -2.9M89.04 28.94l2.9 2.9M89.04 31.84l2.9 -2.9M89.8 28.94l2.9 2.9M89.8 31.84l2.9 -2.9M90.56 28.94l2.9 2.9M90.56 31.84l2.9 -2.9M91.31 28.94l2.9 2.9M91.31 31.84l2.9 -2.9M92.07 28.94l2.9 2.9M92.07 31.84l2.9 -2.9M92.83 28.94l2.9 2.9M92.83 31.84l2.9 -2.9M93.59 28.94l2.9 2.9M93.59 31.84l2.9 -2.9M94.34 28.94l2.9 2.9M94.34 31.84l2.9 -2.9M95.1 28.94l2.9 2.9M95.1 31.84l2.9 -2.9M95.86 28.94l2.9 2.9M95.86 31.84l2.9 -2.9M96.62 28.94l2.9 2.9M96.62 31.84l2.9 -2.9M97.38 28.94l2.9 2.9M97.38 31.84l2.9 -2.9M98.13 28.94l2.9 2.9M98.13 31.84l2.9 -2.9M98.89 28.94l2.9 2.9M98.89 31.84l2.9 -2.9M99.65 28.94l2.9 2.9M99.65 31.84l2.9 -2.9M100.41 28.94l2.9 2.9M100.41 31.84l2.9 -2.9M101.16 28.94l2.9 2.9M101.16 31.84l2.9 -2.9M101.92 28.94l2.9 2.9M101.92 31.84l2.9 -2.9M102.68 28.94l2.9 2.9M102.68 31.84l2.9 -2.9M103.44 28.94l2.9 2.9M103.44 31.84l2.9 -2.9M104.2 28.94l2.9 2.9M104.2 31.84l2.9 -2.9M104.95 28.94l2.9 2.9M104.95 31.84l2.9 -2.9M105.71 28.94l2.9 2.9M105.71 31.84l2.9 -2.9M106.47 28.94l2.9 2.9M106.47 31.84l2.9 -2.9M107.23 28.94l2.9 2.9M107.23 31.84l2.9 -2.9M107.98 28.94l2.9 2.9M107.98 31.84l2.9 -2.9M108.74 28.94l2.9 2.9M108.74 31.84l2.9 -2.9M109.5 28.94l2.9 2.9M109.5 31.84l2.9 -2.9M110.26 28.94l2.9 2.9M110.26 31.84l2.9 -2.9M111.02 28.94l2.9 2.9M111.02 31.84l2.9 -2.9M111.77 28.94l2.9 2.9M111.77 31.84l2.9 -2.9M112.53 28.94l2.9 2.9M112.53 31.84l2.9 -2.9M113.29 28.94l2.9 2.9M113.29 31.84l2.9 -2.9M114.05 28.94l2.9 2.9M114.05 31.84l2.9 -2.9M114.81 28.94l2.9 2.9M114.81 31.84l2.9 -2.9M115.56 28.94l2.9 2.9M115.56 31.84l2.9 -2.9M116.32 28.94l2.9 2.9M116.32 31.84l2.9 -2.9M117.08 28.94l2.9 2.9M117.08 31.84l2.9 -2.9M117.84 28.94l2.9 2.9M117.84 31.84l2.9 -2.9M118.59 28.94l2.9 2.9M118.59 31.84l2.9 -2.9M119.35 28.94l2.9 2.9M119.35 31.84l2.9 -2.9M120.11 28.94l2.9 2.9M120.11 31.84l2.9 -2.9M120.87 28.94l2.9 2.9M120.87 31.84l2.9 -2.9M121.63 28.94l2.9 2.9M121.63 31.84l2.9 -2.9M122.38 28.94l2.9 2.9M122.38 31.84l2.9 -2.9M123.14 28.94l2.9 2.9M123.14 31.84l2.9 -2.9M123.9 28.94l2.9 2.9M123.9 31.84l2.9 -2.9M124.66 28.94l2.9 2.9M124.66 31.84l2.9 -2.9M125.41 28.94l2.9 2.9M125.41 31.84l2.9 -2.9M126.17 28.94l2.9 2.9M126.17 31.84l2.9 -2.9M126.93 28.94l2.9 2.9M126.93 31.84l2.9 -2.9M127.69 28.94l2.9 2.9M127.69 31.84l2.9 -2.9M128.45 28.94l2.9 2.9M128.45 31.84l2.9 -2.9M129.2 28.94l2.9 2.9M129.2 31.84l2.9 -2.9M129.96 28.94l2.9 2.9M129.96 31.84l2.9 -2.9M130.72 28.94l2.9 2.9M130.72 31.84l2.9 -2.9M131.48 28.94l2.9 2.9M131.48 31.84l2.9 -2.9M132.23 28.94l2.9 2.9M132.23 31.84l2.9 -2.9M132.99 28.94l2.9 2.9M132.99 31.84l2.9 -2.9M133.75 28.94l2.9 2.9M133.75 31.84l2.9 -2.9M134.51 28.94l2.9 2.9M134.51 31.84l2.9 -2.9M135.27 28.94l2.9 2.9M135.27 31.84l2.9 -2.9M136.02 28.94l2.9 2.9M136.02 31.84l2.9 -2.9M136.78 28.94l2.9 2.9M136.78 31.84l2.9 -2.9M137.54 28.94l2.9 2.9M137.54 31.84l2.9 -2.9M138.3 28.94l2.9 2.9M138.3 31.84l2.9 -2.9M139.05 28.94l2.9 2.9M139.05 31.84l2.9 -2.9M139.81 28.94l2.9 2.9M139.81 31.84l2.9 -2.9M140.57 28.94l2.9 2.9M140.57 31.84l2.9 -2.9M141.33 28.94l2.9 2.9M141.33 31.84l2.9 -2.9M142.09 28.94l2.9 2.9M142.09 31.84l2.9 -2.9M142.84 28.94l2.9 2.9M142.84 31.84l2.9 -2.9M143.6 28.94l2.9 2.9M143.6 31.84l2.9 -2.9M144.36 28.94l2.9 2.9M144.36 31.84l2.9 -2.9M145.12 28.94l2.9 2.9M145.12 31.84l2.9 -2.9M145.88 28.94l2.9 2.9M145.88 31.84l2.9 -2.9M146.63 28.94l2.9 2.9M146.63 31.84l2.9 -2.9M147.39 28.94l2.9 2.9M147.39 31.84l2.9 -2.9M148.15 28.94l2.9 2.9M148.15 31.84l2.9 -2.9M148.91 28.94l2.9 2.9M148.91 31.84l2.9 -2.9M149.66 28.94l2.9 2.9M149.66 31.84l2.9 -2.9M150.42 28.94l2.9 2.9M150.42 31.84l2.9 -2.9M151.18 28.94l2.9 2.9M151.18 31.84l2.9 -2.9M151.94 28.94l2.9 2.9M151.94 31.84l2.9 -2.9M152.7 28.94l2.9 2.9M152.7 31.84l2.9 -2.9M153.45 28.94l2.9 2.9M153.45 31.84l2.9 -2.9M154.21 28.94l2.9 2.9M154.21 31.84l2.9 -2.9M154.97 28.94l2.9 2.9M154.97 31.84l2.9 -2.9M155.73 28.94l2.9 2.9M155.73 31.84l2.9 -2.9M156.48 28.94l2.9 2.9M156.48 31.84l2.9 -2.9M157.24 28.94l2.9 2.9M157.24 31.84l2.9 -2.9M158 28.94l2.9 2.9M158 31.84l2.9 -2.9M158.76 28.94l2.9 2.9M158.76 31.84l2.9 -2.9M159.52 28.94l2.9 2.9M159.52 31.84l2.9 -2.9M160.27 28.94l2.9 2.9M160.27 31.84l2.9 -2.9M161.03 28.94l2.9 2.9M161.03 31.84l2.9 -2.9M161.79 28.94l2.9 2.9M161.79 31.84l2.9 -2.9M162.55 28.94l2.9 2.9M162.55 31.84l2.9 -2.9M163.3 28.94l2.9 2.9M163.3 31.84l2.9 -2.9M164.06 28.94l2.9 2.9M164.06 31.84l2.9 -2.9M164.82 28.94l2.9 2.9M164.82 31.84l2.9 -2.9M165.58 28.94l2.9 2.9M165.58 31.84l2.9 -2.9M166.34 28.94l2.9 2.9M166.34 31.84l2.9 -2.9M167.09 28.94l2.9 2.9M167.09 31.84l2.9 -2.9M167.85 28.94l2.9 2.9M167.85 31.84l2.9 -2.9M168.61 28.94l2.9 2.9M168.61 31.84l2.9 -2.9M169.37 28.94l2.9 2.9M169.37 31.84l2.9 -2.9M170.12 28.94l2.9 2.9M170.12 31.84l2.9 -2.9M170.88 28.94l2.9 2.9M170.88 31.84l2.9 -2.9M171.64 28.94l2.9 2.9M171.64 31.84l2.9 -2.9M172.4 28.94l2.9 2.9M172.4 31.84l2.9 -2.9M173.16 28.94l2.9 2.9M173.16 31.84l2.9 -2.9M173.91 28.94l2.9 2.9M173.91 31.84l2.9 -2.9M174.67 28.94l2.9 2.9M174.67 31.84l2.9 -2.9M175.43 28.94l2.9 2.9M175.43 31.84l2.9 -2.9M176.19 28.94l2.9 2.9M176.19 31.84l2.9 -2.9M176.94 28.94l2.9 2.9M176.94 31.84l2.9 -2.9M177.7 28.94l2.9 2.9M177.7 31.84l2.9 -2.9M178.46 28.94l2.9 2.9M178.46 31.84l2.9 -2.9M179.22 28.94l2.9 2.9M179.22 31.84l2.9 -2.9M179.98 28.94l2.9 2.9M179.98 31.84l2.9 -2.9M180.73 28.94l2.9 2.9M180.73 31.84l2.9 -2.9M181.49 28.94l2.9 2.9M181.49 31.84l2.9 -2.9M182.25 28.94l2.9 2.9M182.25 31.84l2.9 -2.9M183.01 28.94l2.9 2.9M183.01 31.84l2.9 -2.9M183.76 28.94l2.9 2.9M183.76 31.84l2.9 -2.9M184.52 28.94l2.9 2.9M184.52 31.84l2.9 -2.9M185.28 28.94l2.9 2.9M185.28 31.84l2.9 -2.9M186.04 28.94l2.9 2.9M186.04 31.84l2.9 -2.9M186.8 28.94l2.9 2.9M186.8 31.84l2.9 -2.9M187.55 28.94l2.9 2.9M187.55 31.84l2.9 -2.9M188.31 28.94l2.9 2.9M188.31 31.84l2.9 -2.9M189.07 28.94l2.9 2.9M189.07 31.84l2.9 -2.9M189.83 28.94l2.9 2.9M189.83 31.84l2.9 -2.9M190.59 28.94l2.9 2.9M190.59 31.84l2.9 -2.9M191.34 28.94l2.9 2.9M191.34 31.84l2.9 -2.9M192.1 28.94l2.9 2.9M192.1 31.84l2.9 -2.9M192.86 28.94l2.9 2.9M192.86 31.84l2.9 -2.9M193.62 28.94l2.9 2.9M193.62 31.84l2.9 -2.9M194.37 28.94l2.9 2.9M194.37 31.84l2.9 -2.9M195.13 28.95l2.9 2.9M195.13 31.85l2.9 -2.9M195.89 28.95l2.9 2.9M195.89 31.85l2.9 -2.9M196.65 28.95l2.9 2.9M196.65 31.85l2.9 -2.9M197.41 28.95l2.9 2.9M197.41 31.85l2.9 -2.9M198.16 28.95l2.9 2.9M198.16 31.85l2.9 -2.9M198.92 28.95l2.9 2.9M198.92 31.85l2.9 -2.9M199.68 28.95l2.9 2.9M199.68 31.85l2.9 -2.9M200.44 28.95l2.9 2.9M200.44 31.85l2.9 -2.9M201.19 28.95l2.9 2.9M201.19 31.85l2.9 -2.9M201.95 28.95l2.9 2.9M201.95 31.85l2.9 -2.9M202.71 28.95l2.9 2.9M202.71 31.85l2.9 -2.9M203.47 28.95l2.9 2.9M203.47 31.85l2.9 -2.9M204.23 28.95l2.9 2.9M204.23 31.85l2.9 -2.9M204.98 28.95l2.9 2.9M204.98 31.85l2.9 -2.9M205.74 28.95l2.9 2.9M205.74 31.85l2.9 -2.9M206.5 28.95l2.9 2.9M206.5 31.85l2.9 -2.9M207.26 28.96l2.9 2.9M207.26 31.86l2.9 -2.9M208.01 28.96l2.9 2.9M208.01 31.86l2.9 -2.9M208.77 28.96l2.9 2.9M208.77 31.86l2.9 -2.9M209.53 28.96l2.9 2.9M209.53 31.86l2.9 -2.9M210.29 28.96l2.9 2.9M210.29 31.86l2.9 -2.9M211.05 28.96l2.9 2.9M211.05 31.86l2.9 -2.9M211.8 28.96l2.9 2.9M211.8 31.86l2.9 -2.9M212.56 28.96l2.9 2.9M212.56 31.86l2.9 -2.9M213.32 28.96l2.9 2.9M213.32 31.86l2.9 -2.9M214.08 28.97l2.9 2.9M214.08 31.87l2.9 -2.9M214.83 28.97l2.9 2.9M214.83 31.87l2.9 -2.9M215.59 28.97l2.9 2.9M215.59 31.87l2.9 -2.9M216.35 28.97l2.9 2.9M216.35 31.87l2.9 -2.9M217.11 28.97l2.9 2.9M217.11 31.87l2.9 -2.9M217.87 28.97l2.9 2.9M217.87 31.87l2.9 -2.9M218.62 28.98l2.9 2.9M218.62 31.88l2.9 -2.9M219.38 28.98l2.9 2.9M219.38 31.88l2.9 -2.9M220.14 28.98l2.9 2.9M220.14 31.88l2.9 -2.9M220.9 28.98l2.9 2.9M220.9 31.88l2.9 -2.9M221.66 28.98l2.9 2.9M221.66 31.88l2.9 -2.9M222.41 28.99l2.9 2.9M222.41 31.89l2.9 -2.9M223.17 28.99l2.9 2.9M223.17 31.89l2.9 -2.9M223.93 28.99l2.9 2.9M223.93 31.89l2.9 -2.9M224.69 28.99l2.9 2.9M224.69 31.89l2.9 -2.9M225.44 29l2.9 2.9M225.44 31.9l2.9 -2.9M226.2 29l2.9 2.9M226.2 31.9l2.9 -2.9M226.96 29l2.9 2.9M226.96 31.9l2.9 -2.9M227.72 29.01l2.9 2.9M227.72 31.91l2.9 -2.9M228.48 29.01l2.9 2.9M228.48 31.91l2.9 -2.9M229.23 29.01l2.9 2.9M229.23 31.91l2.9 -2.9M229.99 29.02l2.9 2.9M229.99 31.92l2.9 -2.9M230.75 29.02l2.9 2.9M230.75 31.92l2.9 -2.9M231.51 29.03l2.9 2.9M231.51 31.93l2.9 -2.9M232.26 29.03l2.9 2.9M232.26 31.93l2.9 -2.9M233.02 29.04l2.9 2.9M233.02 31.94l2.9 -2.9M233.78 29.04l2.9 2.9M233.78 31.94l2.9 -2.9M234.54 29.05l2.9 2.9M234.54 31.95l2.9 -2.9M235.3 29.05l2.9 2.9M235.3 31.95l2.9 -2.9M236.05 29.06l2.9 2.9M236.05 31.96l2.9 -2.9M236.81 29.06l2.9 2.9M236.81 31.96l2.9 -2.9M237.57 29.07l2.9 2.9M237.57 31.97l2.9 -2.9M238.33 29.08l2.9 2.9M238.33 31.98l2.9 -2.9M239.08 29.08l2.9 2.9M239.08 31.98l2.9 -2.9M239.84 29.09l2.9 2.9M239.84 31.99l2.9 -2.9M240.6 29.1l2.9 2.9M240.6 32l2.9 -2.9M241.36 29.11l2.9 2.9M241.36 32.01l2.9 -2.9M242.12 29.11l2.9 2.9M242.12 32.01l2.9 -2.9M242.87 29.12l2.9 2.9M242.87 32.02l2.9 -2.9M243.63 29.13l2.9 2.9M243.63 32.03l2.9 -2.9M244.39 29.14l2.9 2.9M244.39 32.04l2.9 -2.9M245.15 29.15l2.9 2.9M245.15 32.05l2.9 -2.9M245.9 29.16l2.9 2.9M245.9 32.06l2.9 -2.9M246.66 29.17l2.9 2.9M246.66 32.07l2.9 -2.9M247.42 29.19l2.9 2.9M247.42 32.09l2.9 -2.9M248.18 29.2l2.9 2.9M248.18 32.1l2.9 -2.9M248.94 29.21l2.9 2.9M248.94 32.11l2.9 -2.9M249.69 29.22l2.9 2.9M249.69 32.12l2.9 -2.9M250.45 29.24l2.9 2.9M250.45 32.14l2.9 -2.9M251.21 29.25l2.9 2.9M251.21 32.15l2.9 -2.9M251.97 29.27l2.9 2.9M251.97 32.17l2.9 -2.9M252.72 29.29l2.9 2.9M252.72 32.19l2.9 -2.9M253.48 29.3l2.9 2.9M253.48 32.2l2.9 -2.9M254.24 29.32l2.9 2.9M254.24 32.22l2.9 -2.9M255 29.34l2.9 2.9M255 32.24l2.9 -2.9M255.76 29.36l2.9 2.9M255.76 32.26l2.9 -2.9M256.51 29.38l2.9 2.9M256.51 32.28l2.9 -2.9M257.27 29.4l2.9 2.9M257.27 32.3l2.9 -2.9M258.03 29.43l2.9 2.9M258.03 32.33l2.9 -2.9M258.79 29.45l2.9 2.9M258.79 32.35l2.9 -2.9M259.55 29.48l2.9 2.9M259.55 32.38l2.9 -2.9M260.3 29.5l2.9 2.9M260.3 32.4l2.9 -2.9M261.06 29.53l2.9 2.9M261.06 32.43l2.9 -2.9M261.82 29.56l2.9 2.9M261.82 32.46l2.9 -2.9M262.58 29.59l2.9 2.9M262.58 32.49l2.9 -2.9M263.33 29.62l2.9 2.9M263.33 32.52l2.9 -2.9M264.09 29.66l2.9 2.9M264.09 32.56l2.9 -2.9M264.85 29.69l2.9 2.9M264.85 32.59l2.9 -2.9M265.61 29.73l2.9 2.9M265.61 32.63l2.9 -2.9M266.37 29.77l2.9 2.9M266.37 32.67l2.9 -2.9M267.12 29.81l2.9 2.9M267.12 32.71l2.9 -2.9M267.88 29.85l2.9 2.9M267.88 32.75l2.9 -2.9M268.64 29.9l2.9 2.9M268.64 32.8l2.9 -2.9M269.4 29.94l2.9 2.9M269.4 32.84l2.9 -2.9M270.15 29.99l2.9 2.9M270.15 32.89l2.9 -2.9M270.91 30.05l2.9 2.9M270.91 32.95l2.9 -2.9M271.67 30.1l2.9 2.9M271.67 33l2.9 -2.9M272.43 30.16l2.9 2.9M272.43 33.06l2.9 -2.9M273.19 30.22l2.9 2.9M273.19 33.12l2.9 -2.9M273.94 30.28l2.9 2.9M273.94 33.18l2.9 -2.9M274.7 30.35l2.9 2.9M274.7 33.25l2.9 -2.9M275.46 30.42l2.9 2.9M275.46 33.32l2.9 -2.9M276.22 30.49l2.9 2.9M276.22 33.39l2.9 -2.9M276.97 30.56l2.9 2.9M276.97 33.46l2.9 -2.9M277.73 30.64l2.9 2.9M277.73 33.54l2.9 -2.9M278.49 30.73l2.9 2.9M278.49 33.63l2.9 -2.9M279.25 30.81l2.9 2.9M279.25 33.71l2.9 -2.9M280.01 30.91l2.9 2.9M280.01 33.81l2.9 -2.9M280.76 31l2.9 2.9M280.76 33.9l2.9 -2.9M281.52 31.1l2.9 2.9M281.52 34l2.9 -2.9M282.28 31.21l2.9 2.9M282.28 34.11l2.9 -2.9M283.04 31.32l2.9 2.9M283.04 34.22l2.9 -2.9M283.79 31.43l2.9 2.9M283.79 34.33l2.9 -2.9M284.55 31.55l2.9 2.9M284.55 34.45l2.9 -2.9M285.31 31.68l2.9 2.9M285.31 34.58l2.9 -2.9M286.07 31.81l2.9 2.9M286.07 34.71l2.9 -2.9M286.83 31.95l2.9 2.9M286.83 34.85l2.9 -2.9M287.58 32.1l2.9 2.9M287.58 35l2.9 -2.9M288.34 32.25l2.9 2.9M288.34 35.15l2.9 -2.9M289.1 32.41l2.9 2.9M289.1 35.31l2.9 -2.9M289.86 32.57l2.9 2.9M289.86 35.47l2.9 -2.9M290.61 32.75l2.9 2.9M290.61 35.65l2.9 -2.9M291.37 32.93l2.9 2.9M291.37 35.83l2.9 -2.9M292.13 33.12l2.9 2.9M292.13 36.02l2.9 -2.9M292.89 33.32l2.9 2.9M292.89 36.22l2.9 -2.9M293.65 33.53l2.9 2.9M293.65 36.43l2.9 -2.9M294.4 33.75l2.9 2.9M294.4 36.65l2.9 -2.9M295.16 33.97l2.9 2.9M295.16 36.87l2.9 -2.9M295.92 34.21l2.9 2.9M295.92 37.11l2.9 -2.9M296.68 34.46l2.9 2.9M296.68 37.36l2.9 -2.9M297.44 34.72l2.9 2.9M297.44 37.62l2.9 -2.9M298.19 34.99l2.9 2.9M298.19 37.89l2.9 -2.9M298.95 35.28l2.9 2.9M298.95 38.18l2.9 -2.9M299.71 35.57l2.9 2.9M299.71 38.47l2.9 -2.9M300.47 35.88l2.9 2.9M300.47 38.78l2.9 -2.9M301.22 36.2l2.9 2.9M301.22 39.1l2.9 -2.9M301.98 36.54l2.9 2.9M301.98 39.44l2.9 -2.9M302.74 36.89l2.9 2.9M302.74 39.79l2.9 -2.9M303.5 37.26l2.9 2.9M303.5 40.16l2.9 -2.9M304.26 37.64l2.9 2.9M304.26 40.54l2.9 -2.9M305.01 38.04l2.9 2.9M305.01 40.94l2.9 -2.9M305.77 38.45l2.9 2.9M305.77 41.35l2.9 -2.9M306.53 38.88l2.9 2.9M306.53 41.78l2.9 -2.9M307.29 39.33l2.9 2.9M307.29 42.23l2.9 -2.9M308.04 39.8l2.9 2.9M308.04 42.7l2.9 -2.9M308.8 40.29l2.9 2.9M308.8 43.19l2.9 -2.9M309.56 40.79l2.9 2.9M309.56 43.69l2.9 -2.9M310.32 41.32l2.9 2.9M310.32 44.22l2.9 -2.9M311.08 41.87l2.9 2.9M311.08 44.77l2.9 -2.9M311.83 42.44l2.9 2.9M311.83 45.34l2.9 -2.9M312.59 43.03l2.9 2.9M312.59 45.93l2.9 -2.9M313.35 43.64l2.9 2.9M313.35 46.54l2.9 -2.9M314.11 44.28l2.9 2.9M314.11 47.18l2.9 -2.9M314.86 44.94l2.9 2.9M314.86 47.84l2.9 -2.9M315.62 45.63l2.9 2.9M315.62 48.53l2.9 -2.9M316.38 46.34l2.9 2.9M316.38 49.24l2.9 -2.9M317.14 47.08l2.9 2.9M317.14 49.98l2.9 -2.9M317.9 47.84l2.9 2.9M317.9 50.74l2.9 -2.9M318.65 48.63l2.9 2.9M318.65 51.53l2.9 -2.9M319.41 49.45l2.9 2.9M319.41 52.35l2.9 -2.9M320.17 50.3l2.9 2.9M320.17 53.2l2.9 -2.9M320.93 51.17l2.9 2.9M320.93 54.07l2.9 -2.9M321.68 52.08l2.9 2.9M321.68 54.98l2.9 -2.9M322.44 53.01l2.9 2.9M322.44 55.91l2.9 -2.9M323.2 53.98l2.9 2.9M323.2 56.88l2.9 -2.9M323.96 54.98l2.9 2.9M323.96 57.88l2.9 -2.9M324.72 56.01l2.9 2.9M324.72 58.91l2.9 -2.9M325.47 57.07l2.9 2.9M325.47 59.97l2.9 -2.9M326.23 58.16l2.9 2.9M326.23 61.06l2.9 -2.9M326.99 59.29l2.9 2.9M326.99 62.19l2.9 -2.9M327.75 60.45l2.9 2.9M327.75 63.35l2.9 -2.9M328.5 61.64l2.9 2.9M328.5 64.54l2.9 -2.9M329.26 62.87l2.9 2.9M329.26 65.77l2.9 -2.9M330.02 64.13l2.9 2.9M330.02 67.03l2.9 -2.9M330.78 65.43l2.9 2.9M330.78 68.33l2.9 -2.9M331.54 66.76l2.9 2.9M331.54 69.66l2.9 -2.9M332.29 68.13l2.9 2.9M332.29 71.03l2.9 -2.9M333.05 69.54l2.9 2.9M333.05 72.44l2.9 -2.9M333.81 70.98l2.9 2.9M333.81 73.88l2.9 -2.9M334.57 72.46l2.9 2.9M334.57 75.36l2.9 -2.9M335.32 73.97l2.9 2.9M335.32 76.87l2.9 -2.9M336.08 75.52l2.9 2.9M336.08 78.42l2.9 -2.9M336.84 77.11l2.9 2.9M336.84 80.01l2.9 -2.9M337.6 78.73l2.9 2.9M337.6 81.63l2.9 -2.9M338.36 80.39l2.9 2.9M338.36 83.29l2.9 -2.9M339.11 82.09l2.9 2.9M339.11 84.99l2.9 -2.9M339.87 83.82l2.9 2.9M339.87 86.72l2.9 -2.9M340.63 85.59l2.9 2.9M340.63 88.49l2.9 -2.9M341.39 87.4l2.9 2.9M341.39 90.3l2.9 -2.9M342.15 89.25l2.9 2.9M342.15 92.15l2.9 -2.9M342.9 91.13l2.9 2.9M342.9 94.03l2.9 -2.9M343.66 93.05l2.9 2.9M343.66 95.95l2.9 -2.9M344.42 95l2.9 2.9M344.42 97.9l2.9 -2.9M345.18 97l2.9 2.9M345.18 99.9l2.9 -2.9M345.93 99.02l2.9 2.9M345.93 101.92l2.9 -2.9M346.69 101.09l2.9 2.9M346.69 103.99l2.9 -2.9M347.45 103.19l2.9 2.9M347.45 106.09l2.9 -2.9M348.21 105.32l2.9 2.9M348.21 108.22l2.9 -2.9M348.97 107.49l2.9 2.9M348.97 110.39l2.9 -2.9M349.72 109.7l2.9 2.9M349.72 112.6l2.9 -2.9M350.48 111.94l2.9 2.9M350.48 114.84l2.9 -2.9M351.24 114.21l2.9 2.9M351.24 117.11l2.9 -2.9M352 116.52l2.9 2.9M352 119.42l2.9 -2.9M352.75 118.86l2.9 2.9M352.75 121.76l2.9 -2.9M353.51 121.24l2.9 2.9M353.51 124.14l2.9 -2.9M354.27 123.65l2.9 2.9M354.27 126.55l2.9 -2.9M355.03 126.09l2.9 2.9M355.03 128.99l2.9 -2.9M355.79 128.56l2.9 2.9M355.79 131.46l2.9 -2.9M356.54 131.07l2.9 2.9M356.54 133.97l2.9 -2.9M357.3 133.61l2.9 2.9M357.3 136.51l2.9 -2.9M358.06 136.18l2.9 2.9M358.06 139.08l2.9 -2.9M358.82 138.78l2.9 2.9M358.82 141.68l2.9 -2.9M359.57 141.41l2.9 2.9M359.57 144.31l2.9 -2.9M360.33 144.07l2.9 2.9M360.33 146.97l2.9 -2.9M361.09 146.76l2.9 2.9M361.09 149.66l2.9 -2.9M361.85 149.48l2.9 2.9M361.85 152.38l2.9 -2.9M362.61 152.23l2.9 2.9M362.61 155.13l2.9 -2.9M363.36 155.01l2.9 2.9M363.36 157.91l2.9 -2.9M364.12 157.82l2.9 2.9M364.12 160.72l2.9 -2.9M364.88 160.66l2.9 2.9M364.88 163.56l2.9 -2.9M365.64 163.52l2.9 2.9M365.64 166.42l2.9 -2.9M366.39 166.41l2.9 2.9M366.39 169.31l2.9 -2.9M367.15 169.33l2.9 2.9M367.15 172.23l2.9 -2.9M367.91 172.27l2.9 2.9M367.91 175.17l2.9 -2.9M368.67 175.24l2.9 2.9M368.67 178.14l2.9 -2.9M369.43 178.23l2.9 2.9M369.43 181.13l2.9 -2.9M370.18 181.25l2.9 2.9M370.18 184.15l2.9 -2.9M370.94 184.3l2.9 2.9M370.94 187.2l2.9 -2.9M371.7 187.36l2.9 2.9M371.7 190.26l2.9 -2.9M372.46 190.46l2.9 2.9M372.46 193.36l2.9 -2.9M373.21 193.57l2.9 2.9M373.21 196.47l2.9 -2.9M373.97 196.71l2.9 2.9M373.97 199.61l2.9 -2.9M374.73 199.88l2.9 2.9M374.73 202.78l2.9 -2.9M375.49 201.05l2.9 2.9M375.49 203.95l2.9 -2.9M376.25 201.05l2.9 2.9M376.25 203.95l2.9 -2.9M377 201.05l2.9 2.9M377 203.95l2.9 -2.9M377.76 201.05l2.9 2.9M377.76 203.95l2.9 -2.9M378.52 201.05l2.9 2.9M378.52 203.95l2.9 -2.9M379.28 201.05l2.9 2.9M379.28 203.95l2.9 -2.9M380.04 201.05l2.9 2.9M380.04 203.95l2.9 -2.9M380.79 201.05l2.9 2.9M380.79 203.95l2.9 -2.9M381.55 201.05l2.9 2.9M381.55 203.95l2.9 -2.9M382.31 201.05l2.9 2.9M382.31 203.95l2.9 -2.9M383.07 201.05l2.9 2.9M383.07 203.95l2.9 -2.9M383.82 201.05l2.9 2.9M383.82 203.95l2.9 -2.9M384.58 201.05l2.9 2.9M384.58 203.95l2.9 -2.9M385.34 201.05l2.9 2.9M385.34 203.95l2.9 -2.9M386.1 201.05l2.9 2.9M386.1 203.95l2.9 -2.9M386.86 201.05l2.9 2.9M386.86 203.95l2.9 -2.9M387.61 201.05l2.9 2.9M387.61 203.95l2.9 -2.9M388.37 201.05l2.9 2.9M388.37 203.95l2.9 -2.9M389.13 201.05l2.9 2.9M389.13 203.95l2.9 -2.9M389.89 201.05l2.9 2.9M389.89 203.95l2.9 -2.9M390.64 201.05l2.9 2.9M390.64 203.95l2.9 -2.9M391.4 201.05l2.9 2.9M391.4 203.95l2.9 -2.9M392.16 201.05l2.9 2.9M392.16 203.95l2.9 -2.9M392.92 201.05l2.9 2.9M392.92 203.95l2.9 -2.9M393.68 201.05l2.9 2.9M393.68 203.95l2.9 -2.9M394.43 201.05l2.9 2.9M394.43 203.95l2.9 -2.9M395.19 201.05l2.9 2.9M395.19 203.95l2.9 -2.9M395.95 201.05l2.9 2.9M395.95 203.95l2.9 -2.9M283.55 37.95l2.9 2.9M283.55 40.85l2.9 -2.9M289.75 37.15l2.9 2.9M289.75 40.05l2.9 -2.9M272.05 33.55l2.9 2.9M272.05 36.45l2.9 -2.9" stroke="#EDB120" stroke-width="1.0" fill="none"/>
<path d="M50.7 30.39h3.8M52.6 28.24v4.3M51.46 30.39h3.8M53.36 28.24v4.3M52.22 30.39h3.8M54.12 28.24v4.3M52.97 30.39h3.8M54.87 28.24v4.3M53.73 30.39h3.8M55.63 28.24v4.3M54.49 30.39h3.8M56.39 28.24v4.3M55.25 30.39h3.8M57.15 28.24v4.3M56 30.39h3.8M57.9 28.24v4.3M56.76 30.39h3.8M58.66 28.24v4.3M57.52 30.39h3.8M59.42 28.24v4.3M58.28 30.39h3.8M60.18 28.24v4.3M59.04 30.39h3.8M60.94 28.24v4.3M59.79 30.39h3.8M61.69 28.24v4.3M60.55 30.39h3.8M62.45 28.24v4.3M61.31 30.39h3.8M63.21 28.24v4.3M62.07 30.39h3.8M63.97 28.24v4.3M62.82 30.39h3.8M64.72 28.24v4.3M63.58 30.39h3.8M65.48 28.24v4.3M64.34 30.39h3.8M66.24 28.24v4.3M65.1 30.39h3.8M67 28.24v4.3M65.86 30.39h3.8M67.76 28.24v4.3M66.61 30.39h3.8M68.51 28.24v4.3M67.37 30.39h3.8M69.27 28.24v4.3M68.13 30.39h3.8M70.03 28.24v4.3M68.89 30.39h3.8M70.79 28.24v4.3M69.64 30.39h3.8M71.55 28.24v4.3M70.4 30.39h3.8M72.3 28.24v4.3M71.16 30.39h3.8M73.06 28.24v4.3M71.92 30.39h3.8M73.82 28.24v4.3M72.68 30.39h3.8M74.58 28.24v4.3M73.43 30.39h3.8M75.33 28.24v4.3M74.19 30.39h3.8M76.09 28.24v4.3M74.95 30.39h3.8M76.85 28.24v4.3M75.71 30.39h3.8M77.61 28.24v4.3M76.47 30.39h3.8M78.37 28.24v4.3M77.22 30.39h3.8M79.12 28.24v4.3M77.98 30.39h3.8M79.88 28.24v4.3M78.74 30.39h3.8M80.64 28.24v4.3M79.5 30.39h3.8M81.4 28.24v4.3M80.25 30.39h3.8M82.15 28.24v4.3M81.01 30.39h3.8M82.91 28.24v4.3M81.77 30.39h3.8M83.67 28.24v4.3M82.53 30.39h3.8M84.43 28.24v4.3M83.29 30.39h3.8M85.19 28.24v4.3M84.04 30.39h3.8M85.94 28.24v4.3M84.8 30.39h3.8M86.7 28.24v4.3M85.56 30.39h3.8M87.46 28.24v4.3M86.32 30.39h3.8M88.22 28.24v4.3M87.07 30.39h3.8M88.97 28.24v4.3M87.83 30.39h3.8M89.73 28.24v4.3M88.59 30.39h3.8M90.49 28.24v4.3M89.35 30.39h3.8M91.25 28.24v4.3M90.11 30.39h3.8M92.01 28.24v4.3M90.86 30.39h3.8M92.76 28.24v4.3M91.62 30.39h3.8M93.52 28.24v4.3M92.38 30.39h3.8M94.28 28.24v4.3M93.14 30.39h3.8M95.04 28.24v4.3M93.89 30.39h3.8M95.79 28.24v4.3M94.65 30.39h3.8M96.55 28.24v4.3M95.41 30.39h3.8M97.31 28.24v4.3M96.17 30.39h3.8M98.07 28.24v4.3M96.93 30.39h3.8M98.83 28.24v4.3M97.68 30.39h3.8M99.58 28.24v4.3M98.44 30.39h3.8M100.34 28.24v4.3M99.2 30.39h3.8M101.1 28.24v4.3M99.96 30.39h3.8M101.86 28.24v4.3M100.71 30.39h3.8M102.61 28.24v4.3M101.47 30.39h3.8M103.37 28.24v4.3M102.23 30.39h3.8M104.13 28.24v4.3M102.99 30.39h3.8M104.89 28.24v4.3M103.75 30.39h3.8M105.65 28.24v4.3M104.5 30.39h3.8M106.4 28.24v4.3M105.26 30.39h3.8M107.16 28.24v4.3M106.02 30.39h3.8M107.92 28.24v4.3M106.78 30.39h3.8M108.68 28.24v4.3M107.53 30.39h3.8M109.44 28.24v4.3M108.29 30.39h3.8M110.19 28.24v4.3M109.05 30.39h3.8M110.95 28.24v4.3M109.81 30.39h3.8M111.71 28.24v4.3M110.57 30.39h3.8M112.47 28.24v4.3M111.32 30.39h3.8M113.22 28.24v4.3M112.08 30.39h3.8M113.98 28.24v4.3M112.84 30.39h3.8M114.74 28.24v4.3M113.6 30.39h3.8M115.5 28.24v4.3M114.36 30.39h3.8M116.26 28.24v4.3M115.11 30.39h3.8M117.01 28.24v4.3M115.87 30.39h3.8M117.77 28.24v4.3M116.63 30.39h3.8M118.53 28.24v4.3M117.39 30.39h3.8M119.29 28.24v4.3M118.14 30.39h3.8M120.04 28.24v4.3M118.9 30.39h3.8M120.8 28.24v4.3M119.66 30.39h3.8M121.56 28.24v4.3M120.42 30.39h3.8M122.32 28.24v4.3M121.18 30.39h3.8M123.08 28.24v4.3M121.93 30.39h3.8M123.83 28.24v4.3M122.69 30.39h3.8M124.59 28.24v4.3M123.45 30.39h3.8M125.35 28.24v4.3M124.21 30.39h3.8M126.11 28.24v4.3M124.96 30.39h3.8M126.86 28.24v4.3M125.72 30.39h3.8M127.62 28.24v4.3M126.48 30.39h3.8M128.38 28.24v4.3M127.24 30.39h3.8M129.14 28.24v4.3M128 30.39h3.8M129.9 28.24v4.3M128.75 30.39h3.8M130.65 28.24v4.3M129.51 30.39h3.8M131.41 28.24v4.3M130.27 30.39h3.8M132.17 28.24v4.3M131.03 30.39h3.8M132.93 28.24v4.3M131.78 30.39h3.8M133.68 28.24v4.3M132.54 30.39h3.8M134.44 28.24v4.3M133.3 30.39h3.8M135.2 28.24v4.3M134.06 30.39h3.8M135.96 28.24v4.3M134.82 30.39h3.8M136.72 28.24v4.3M135.57 30.39h3.8M137.47 28.24v4.3M136.33 30.39h3.8M138.23 28.24v4.3M137.09 30.39h3.8M138.99 28.24v4.3M137.85 30.39h3.8M139.75 28.24v4.3M138.6 30.39h3.8M140.5 28.24v4.3M139.36 30.39h3.8M141.26 28.24v4.3M140.12 30.39h3.8M142.02 28.24v4.3M140.88 30.39h3.8M142.78 28.24v4.3M141.64 30.39h3.8M143.54 28.24v4.3M142.39 30.39h3.8M144.29 28.24v4.3M143.15 30.39h3.8M145.05 28.24v4.3M143.91 30.39h3.8M145.81 28.24v4.3M144.67 30.39h3.8M146.57 28.24v4.3M145.42 30.39h3.8M147.32 28.24v4.3M146.18 30.39h3.8M148.08 28.24v4.3M146.94 30.39h3.8M148.84 28.24v4.3M147.7 30.39h3.8M149.6 28.24v4.3M148.46 30.39h3.8M150.36 28.24v4.3M149.21 30.39h3.8M151.11 28.24v4.3M149.97 30.39h3.8M151.87 28.24v4.3M150.73 30.39h3.8M152.63 28.24v4.3M151.49 30.39h3.8M153.39 28.24v4.3M152.25 30.39h3.8M154.15 28.24v4.3M153 30.39h3.8M154.9 28.24v4.3M153.76 30.39h3.8M155.66 28.24v4.3M154.52 30.39h3.8M156.42 28.24v4.3M155.28 30.39h3.8M157.18 28.24v4.3M156.03 30.39h3.8M157.93 28.24v4.3M156.79 30.39h3.8M158.69 28.24v4.3M157.55 30.39h3.8M159.45 28.24v4.3M158.31 30.39h3.8M160.21 28.24v4.3M159.07 30.39h3.8M160.97 28.24v4.3M159.82 30.39h3.8M161.72 28.24v4.3M160.58 30.39h3.8M162.48 28.24v4.3M161.34 30.39h3.8M163.24 28.24v4.3M162.1 30.39h3.8M164 28.24v4.3M162.85 30.39h3.8M164.75 28.24v4.3M163.61 30.39h3.8M165.51 28.24v4.3M164.37 30.39h3.8M166.27 28.24v4.3M165.13 30.39h3.8M167.03 28.24v4.3M165.89 30.39h3.8M167.79 28.24v4.3M166.64 30.39h3.8M168.54 28.24v4.3M167.4 30.39h3.8M169.3 28.24v4.3M168.16 30.39h3.8M170.06 28.24v4.3M168.92 30.39h3.8M170.82 28.24v4.3M169.67 30.39h3.8M171.57 28.24v4.3M170.43 30.39h3.8M172.33 28.24v4.3M171.19 30.39h3.8M173.09 28.24v4.3M171.95 30.39h3.8M173.85 28.24v4.3M172.71 30.39h3.8M174.61 28.24v4.3M173.46 30.39h3.8M175.36 28.24v4.3M174.22 30.39h3.8M176.12 28.24v4.3M174.98 30.39h3.8M176.88 28.24v4.3M175.74 30.39h3.8M177.64 28.24v4.3M176.49 30.39h3.8M178.39 28.24v4.3M177.25 30.39h3.8M179.15 28.24v4.3M178.01 30.39h3.8M179.91 28.24v4.3M178.77 30.39h3.8M180.67 28.24v4.3M179.53 30.39h3.8M181.43 28.24v4.3M180.28 30.39h3.8M182.18 28.24v4.3M181.04 30.39h3.8M182.94 28.24v4.3M181.8 30.39h3.8M183.7 28.24v4.3M182.56 30.39h3.8M184.46 28.24v4.3M183.31 30.39h3.8M185.21 28.24v4.3M184.07 30.39h3.8M185.97 28.24v4.3M184.83 30.39h3.8M186.73 28.24v4.3M185.59 30.39h3.8M187.49 28.24v4.3M186.35 30.39h3.8M188.25 28.24v4.3M187.1 30.39h3.8M189 28.24v4.3M187.86 30.39h3.8M189.76 28.24v4.3M188.62 30.39h3.8M190.52 28.24v4.3M189.38 30.39h3.8M191.28 28.24v4.3M190.14 30.39h3.8M192.04 28.24v4.3M190.89 30.39h3.8M192.79 28.24v4.3M191.65 30.39h3.8M193.55 28.24v4.3M192.41 30.39h3.8M194.31 28.24v4.3M193.17 30.39h3.8M195.07 28.24v4.3M193.92 30.39h3.8M195.82 28.24v4.3M194.68 30.4h3.8M196.58 28.25v4.3M195.44 30.4h3.8M197.34 28.25v4.3M196.2 30.4h3.8M198.1 28.25v4.3M196.96 30.4h3.8M198.86 28.25v4.3M197.71 30.4h3.8M199.61 28.25v4.3M198.47 30.4h3.8M200.37 28.25v4.3M199.23 30.4h3.8M201.13 28.25v4.3M199.99 30.4h3.8M201.89 28.25v4.3M200.74 30.4h3.8M202.64 28.25v4.3M201.5 30.4h3.8M203.4 28.25v4.3M202.26 30.4h3.8M204.16 28.25v4.3M203.02 30.4h3.8M204.92 28.25v4.3M203.78 30.4h3.8M205.68 28.25v4.3M204.53 30.4h3.8M206.43 28.25v4.3M205.29 30.4h3.8M207.19 28.25v4.3M206.05 30.4h3.8M207.95 28.25v4.3M206.81 30.41h3.8M208.71 28.26v4.3M207.56 30.41h3.8M209.46 28.26v4.3M208.32 30.41h3.8M210.22 28.26v4.3M209.08 30.41h3.8M210.98 28.26v4.3M209.84 30.41h3.8M211.74 28.26v4.3M210.6 30.41h3.8M212.5 28.26v4.3M211.35 30.41h3.8M213.25 28.26v4.3M212.11 30.41h3.8M214.01 28.26v4.3M212.87 30.41h3.8M214.77 28.26v4.3M213.63 30.42h3.8M215.53 28.27v4.3M214.38 30.42h3.8M216.28 28.27v4.3M215.14 30.42h3.8M217.04 28.27v4.3M215.9 30.42h3.8M217.8 28.27v4.3M216.66 30.42h3.8M218.56 28.27v4.3M217.42 30.42h3.8M219.32 28.27v4.3M218.17 30.43h3.8M220.07 28.28v4.3M218.93 30.43h3.8M220.83 28.28v4.3M219.69 30.43h3.8M221.59 28.28v4.3M220.45 30.43h3.8M222.35 28.28v4.3M221.2 30.43h3.8M223.1 28.28v4.3M221.96 30.44h3.8M223.86 28.29v4.3M222.72 30.44h3.8M224.62 28.29v4.3M223.48 30.44h3.8M225.38 28.29v4.3M224.24 30.44h3.8M226.14 28.29v4.3M224.99 30.45h3.8M226.89 28.3v4.3M225.75 30.45h3.8M227.65 28.3v4.3M226.51 30.45h3.8M228.41 28.3v4.3M227.27 30.46h3.8M229.17 28.31v4.3M228.03 30.46h3.8M229.93 28.31v4.3M228.78 30.46h3.8M230.68 28.31v4.3M229.54 30.47h3.8M231.44 28.32v4.3M230.3 30.47h3.8M232.2 28.32v4.3M231.06 30.48h3.8M232.96 28.33v4.3M231.81 30.48h3.8M233.71 28.33v4.3M232.57 30.49h3.8M234.47 28.34v4.3M233.33 30.49h3.8M235.23 28.34v4.3M234.09 30.5h3.8M235.99 28.35v4.3M234.85 30.5h3.8M236.75 28.35v4.3M235.6 30.51h3.8M237.5 28.36v4.3M236.36 30.51h3.8M238.26 28.36v4.3M237.12 30.52h3.8M239.02 28.37v4.3M237.88 30.53h3.8M239.78 28.38v4.3M238.63 30.53h3.8M240.53 28.38v4.3M239.39 30.54h3.8M241.29 28.39v4.3M240.15 30.55h3.8M242.05 28.4v4.3M240.91 30.56h3.8M242.81 28.41v4.3M241.67 30.56h3.8M243.57 28.41v4.3M242.42 30.57h3.8M244.32 28.42v4.3M243.18 30.58h3.8M245.08 28.43v4.3M243.94 30.59h3.8M245.84 28.44v4.3M244.7 30.6h3.8M246.6 28.45v4.3M245.45 30.61h3.8M247.35 28.46v4.3M246.21 30.62h3.8M248.11 28.47v4.3M246.97 30.64h3.8M248.87 28.49v4.3M247.73 30.65h3.8M249.63 28.5v4.3M248.49 30.66h3.8M250.39 28.51v4.3M249.24 30.67h3.8M251.14 28.52v4.3M250 30.69h3.8M251.9 28.54v4.3M250.76 30.7h3.8M252.66 28.55v4.3M251.52 30.72h3.8M253.42 28.57v4.3M252.27 30.74h3.8M254.17 28.59v4.3M253.03 30.75h3.8M254.93 28.6v4.3M253.79 30.77h3.8M255.69 28.62v4.3M254.55 30.79h3.8M256.45 28.64v4.3M255.31 30.81h3.8M257.21 28.66v4.3M256.06 30.83h3.8M257.96 28.68v4.3M256.82 30.85h3.8M258.72 28.7v4.3M257.58 30.88h3.8M259.48 28.73v4.3M258.34 30.9h3.8M260.24 28.75v4.3M259.1 30.93h3.8M261 28.78v4.3M259.85 30.95h3.8M261.75 28.8v4.3M260.61 30.98h3.8M262.51 28.83v4.3M261.37 31.01h3.8M263.27 28.86v4.3M262.13 31.04h3.8M264.03 28.89v4.3M262.88 31.07h3.8M264.78 28.92v4.3M263.64 31.11h3.8M265.54 28.96v4.3M264.4 31.14h3.8M266.3 28.99v4.3M265.16 31.18h3.8M267.06 29.03v4.3M265.92 31.22h3.8M267.82 29.07v4.3M266.67 31.26h3.8M268.57 29.11v4.3M267.43 31.3h3.8M269.33 29.15v4.3M268.19 31.35h3.8M270.09 29.2v4.3M268.95 31.39h3.8M270.85 29.24v4.3M269.7 31.44h3.8M271.6 29.29v4.3M270.46 31.5h3.8M272.36 29.35v4.3M271.22 31.55h3.8M273.12 29.4v4.3M271.98 31.61h3.8M273.88 29.46v4.3M272.74 31.67h3.8M274.64 29.52v4.3M273.49 31.73h3.8M275.39 29.58v4.3M274.25 31.8h3.8M276.15 29.65v4.3M275.01 31.87h3.8M276.91 29.72v4.3M275.77 31.94h3.8M277.67 29.79v4.3M276.52 32.01h3.8M278.42 29.86v4.3M277.28 32.09h3.8M279.18 29.94v4.3M278.04 32.18h3.8M279.94 30.03v4.3M278.8 32.26h3.8M280.7 30.11v4.3M279.56 32.36h3.8M281.46 30.21v4.3M280.31 32.45h3.8M282.21 30.3v4.3M281.07 32.55h3.8M282.97 30.4v4.3M281.83 32.66h3.8M283.73 30.51v4.3M282.59 32.77h3.8M284.49 30.62v4.3M283.34 32.88h3.8M285.24 30.73v4.3M284.1 33h3.8M286 30.85v4.3M284.86 33.13h3.8M286.76 30.98v4.3M285.62 33.26h3.8M287.52 31.11v4.3M286.38 33.4h3.8M288.28 31.25v4.3M287.13 33.55h3.8M289.03 31.4v4.3M287.89 33.7h3.8M289.79 31.55v4.3M288.65 33.86h3.8M290.55 31.71v4.3M289.41 34.02h3.8M291.31 31.87v4.3M290.16 34.2h3.8M292.06 32.05v4.3M290.92 34.38h3.8M292.82 32.23v4.3M291.68 34.57h3.8M293.58 32.42v4.3M292.44 34.77h3.8M294.34 32.62v4.3M293.2 34.98h3.8M295.1 32.83v4.3M293.95 35.2h3.8M295.85 33.05v4.3M294.71 35.42h3.8M296.61 33.27v4.3M295.47 35.66h3.8M297.37 33.51v4.3M296.23 35.91h3.8M298.13 33.76v4.3M296.99 36.17h3.8M298.88 34.02v4.3M297.74 36.44h3.8M299.64 34.29v4.3M298.5 36.73h3.8M300.4 34.58v4.3M299.26 37.02h3.8M301.16 34.87v4.3M300.02 37.33h3.8M301.92 35.18v4.3M300.77 37.65h3.8M302.67 35.5v4.3M301.53 37.99h3.8M303.43 35.84v4.3M302.29 38.34h3.8M304.19 36.19v4.3M303.05 38.71h3.8M304.95 36.56v4.3M303.81 39.09h3.8M305.71 36.94v4.3M304.56 39.49h3.8M306.46 37.34v4.3M305.32 39.9h3.8M307.22 37.75v4.3M306.08 40.33h3.8M307.98 38.18v4.3M306.84 40.78h3.8M308.74 38.63v4.3M307.59 41.25h3.8M309.49 39.1v4.3M308.35 41.74h3.8M310.25 39.59v4.3M309.11 42.24h3.8M311.01 40.09v4.3M309.87 42.77h3.8M311.77 40.62v4.3M310.63 43.32h3.8M312.53 41.17v4.3M311.38 43.89h3.8M313.28 41.74v4.3M312.14 44.48h3.8M314.04 42.33v4.3M312.9 45.09h3.8M314.8 42.94v4.3M313.66 45.73h3.8M315.56 43.58v4.3M314.41 46.39h3.8M316.31 44.24v4.3M315.17 47.08h3.8M317.07 44.93v4.3M315.93 47.79h3.8M317.83 45.64v4.3M316.69 48.53h3.8M318.59 46.38v4.3M317.45 49.29h3.8M319.35 47.14v4.3M318.2 50.08h3.8M320.1 47.93v4.3M318.96 50.9h3.8M320.86 48.75v4.3M319.72 51.75h3.8M321.62 49.6v4.3M320.48 52.62h3.8M322.38 50.47v4.3M321.23 53.53h3.8M323.13 51.38v4.3M321.99 54.46h3.8M323.89 52.31v4.3M322.75 55.43h3.8M324.65 53.28v4.3M323.51 56.43h3.8M325.41 54.28v4.3M324.27 57.46h3.8M326.17 55.31v4.3M325.02 58.52h3.8M326.92 56.37v4.3M325.78 59.61h3.8M327.68 57.46v4.3M326.54 60.74h3.8M328.44 58.59v4.3M327.3 61.9h3.8M329.2 59.75v4.3M328.05 63.09h3.8M329.95 60.94v4.3M328.81 64.32h3.8M330.71 62.17v4.3M329.57 65.58h3.8M331.47 63.43v4.3M330.33 66.88h3.8M332.23 64.73v4.3M331.09 68.21h3.8M332.99 66.06v4.3M331.84 69.58h3.8M333.74 67.43v4.3M332.6 70.99h3.8M334.5 68.84v4.3M333.36 72.43h3.8M335.26 70.28v4.3M334.12 73.91h3.8M336.02 71.76v4.3M334.88 75.42h3.8M336.77 73.27v4.3M335.63 76.97h3.8M337.53 74.82v4.3M336.39 78.56h3.8M338.29 76.41v4.3M337.15 80.18h3.8M339.05 78.03v4.3M337.91 81.84h3.8M339.81 79.69v4.3M338.66 83.54h3.8M340.56 81.39v4.3M339.42 85.27h3.8M341.32 83.12v4.3M340.18 87.04h3.8M342.08 84.89v4.3M340.94 88.85h3.8M342.84 86.7v4.3M341.7 90.7h3.8M343.6 88.55v4.3M342.45 92.58h3.8M344.35 90.43v4.3M343.21 94.5h3.8M345.11 92.35v4.3M343.97 96.45h3.8M345.87 94.3v4.3M344.73 98.45h3.8M346.63 96.3v4.3M345.48 100.47h3.8M347.38 98.32v4.3M346.24 102.54h3.8M348.14 100.39v4.3M347 104.64h3.8M348.9 102.49v4.3M347.76 106.77h3.8M349.66 104.62v4.3M348.52 108.94h3.8M350.42 106.79v4.3M349.27 111.15h3.8M351.17 109v4.3M350.03 113.39h3.8M351.93 111.24v4.3M350.79 115.66h3.8M352.69 113.51v4.3M351.55 117.97h3.8M353.45 115.82v4.3M352.3 120.31h3.8M354.2 118.16v4.3M353.06 122.69h3.8M354.96 120.54v4.3M353.82 125.1h3.8M355.72 122.95v4.3M354.58 127.54h3.8M356.48 125.39v4.3M355.34 130.01h3.8M357.24 127.86v4.3M356.09 132.52h3.8M357.99 130.37v4.3M356.85 135.06h3.8M358.75 132.91v4.3M357.61 137.63h3.8M359.51 135.48v4.3M358.37 140.23h3.8M360.27 138.08v4.3M359.12 142.86h3.8M361.02 140.71v4.3M359.88 145.52h3.8M361.78 143.37v4.3M360.64 148.21h3.8M362.54 146.06v4.3M361.4 150.93h3.8M363.3 148.78v4.3M362.16 153.68h3.8M364.06 151.53v4.3M362.91 156.46h3.8M364.81 154.31v4.3M363.67 159.27h3.8M365.57 157.12v4.3M364.43 162.11h3.8M366.33 159.96v4.3M365.19 164.97h3.8M367.09 162.82v4.3M365.94 167.86h3.8M367.84 165.71v4.3M366.7 170.78h3.8M368.6 168.63v4.3M367.46 173.72h3.8M369.36 171.57v4.3M368.22 176.69h3.8M370.12 174.54v4.3M368.98 179.68h3.8M370.88 177.53v4.3M369.73 182.7h3.8M371.63 180.55v4.3M370.49 185.75h3.8M372.39 183.6v4.3M371.25 188.81h3.8M373.15 186.66v4.3M372.01 191.91h3.8M373.91 189.76v4.3M372.76 195.02h3.8M374.66 192.87v4.3M373.52 198.16h3.8M375.42 196.01v4.3M374.28 201.33h3.8M376.18 199.18v4.3M375.04 202.5h3.8M376.94 200.35v4.3M375.8 202.5h3.8M377.7 200.35v4.3M376.55 202.5h3.8M378.45 200.35v4.3M377.31 202.5h3.8M379.21 200.35v4.3M378.07 202.5h3.8M379.97 200.35v4.3M378.83 202.5h3.8M380.73 200.35v4.3M379.59 202.5h3.8M381.49 200.35v4.3M380.34 202.5h3.8M382.24 200.35v4.3M381.1 202.5h3.8M383 200.35v4.3M381.86 202.5h3.8M383.76 200.35v4.3M382.62 202.5h3.8M384.52 200.35v4.3M383.37 202.5h3.8M385.27 200.35v4.3M384.13 202.5h3.8M386.03 200.35v4.3M384.89 202.5h3.8M386.79 200.35v4.3M385.65 202.5h3.8M387.55 200.35v4.3M386.41 202.5h3.8M388.31 200.35v4.3M387.16 202.5h3.8M389.06 200.35v4.3M387.92 202.5h3.8M389.82 200.35v4.3M388.68 202.5h3.8M390.58 200.35v4.3M389.44 202.5h3.8M391.34 200.35v4.3M390.19 202.5h3.8M392.09 200.35v4.3M390.95 202.5h3.8M392.85 200.35v4.3M391.71 202.5h3.8M393.61 200.35v4.3M392.47 202.5h3.8M394.37 200.35v4.3M393.23 202.5h3.8M395.13 200.35v4.3M393.98 202.5h3.8M395.88 200.35v4.3M394.74 202.5h3.8M396.64 200.35v4.3M395.5 202.5h3.8M397.4 200.35v4.3M288.4 29.7h3.8M290.3 27.55v4.3M278.7 30.6h3.8M280.6 28.45v4.3M285.8 35.9h3.8M287.7 33.75v4.3M314.9 50.9h3.8M316.8 48.75v4.3M318.5 53.6h3.8M320.4 51.45v4.3M339.1 93.7h3.8M341 91.55v4.3M352.1 132.3h3.8M354 130.15v4.3M351.7 136.2h3.8M353.6 134.05v4.3M357.7 142.7h3.8M359.6 140.55v4.3" stroke="#7E2F8E" stroke-width="1.1" fill="none"/>
<path d="M168.2 83.45H190.1" stroke="#000" stroke-width="0.9"/>
<text x="191.94" y="87" class="l" textLength="30.14" lengthAdjust="spacingAndGlyphs">EEC</text>
<text x="226.81" y="87" class="l" textLength="32.97" lengthAdjust="spacingAndGlyphs">(Ref)</text>
<path d="M177.65 99.55h3.1v3.1h-3.1z" stroke="#0072BD" stroke-width="1.0" fill="none"/>
<text x="192.22" y="104.4" class="l" textLength="30.49" lengthAdjust="spacingAndGlyphs">TRD</text>
<path d="M177.3 118.6a1.9 1.9 0 1 0 3.8 0a1.9 1.9 0 1 0 -3.8 0" stroke="#D95319" stroke-width="1.0" fill="none"/>
<text x="192" y="121.9" class="l" textLength="31" lengthAdjust="spacingAndGlyphs">LMA</text>
<path d="M177.75 134.65l2.9 2.9M177.75 137.55l2.9 -2.9" stroke="#EDB120" stroke-width="1.0" fill="none"/>
<text x="192.49" y="139.5" class="l" textLength="34.67" lengthAdjust="spacingAndGlyphs">WDE</text>
<path d="M177.3 153.8h3.8M179.2 151.65v4.3" stroke="#7E2F8E" stroke-width="1.1" fill="none"/>
<text x="191.48" y="157" class="l" textLength="27.86" lengthAdjust="spacingAndGlyphs">SOS</text>
<text x="167.5" y="238" class="lab" textLength="67.95" lengthAdjust="spacingAndGlyphs">Generator</text>
<text x="243.4" y="238" class="lab" textLength="47.56" lengthAdjust="spacingAndGlyphs">voltage</text>
<text x="297.23" y="238" class="lab" textLength="19.93" lengthAdjust="spacingAndGlyphs">[V]</text>
<text transform="rotate(-90)" x="-184.8" y="26.8" class="lab" textLength="68.25" lengthAdjust="spacingAndGlyphs">Generator</text>
<text transform="rotate(-90)" x="-108.13" y="26.8" class="lab" textLength="46.62" lengthAdjust="spacingAndGlyphs">current</text>
<text transform="rotate(-90)" x="-54.1" y="26.8" class="lab" textLength="20.49" lengthAdjust="spacingAndGlyphs">[A]</text>
<text x="233.5" y="266.5" text-anchor="middle" class="cap">(a)</text>
<path d="M128.38 477.4v-4.0M128.38 292.4v4.0M204.16 477.4v-4.0M204.16 292.4v4.0M279.94 477.4v-4.0M279.94 292.4v4.0M355.72 477.4v-4.0M355.72 292.4v4.0M52.6 431.15h4.0M431.5 431.15h-4.0M52.6 384.9h4.0M431.5 384.9h-4.0M52.6 338.65h4.0M431.5 338.65h-4.0M52.6 292.4H431.5V477.4H52.6Z" stroke="#6a6a6a" stroke-width="1.3" fill="none"/>
<text x="52.8" y="493.7" text-anchor="middle" class="t">0</text>
<text x="128.58" y="493.7" text-anchor="middle" class="t">100</text>
<text x="204.36" y="493.7" text-anchor="middle" class="t">200</text>
<text x="280.14" y="493.7" text-anchor="middle" class="t">300</text>
<text x="355.92" y="493.7" text-anchor="middle" class="t">400</text>
<text x="431.7" y="493.7" text-anchor="middle" class="t">500</text>
<text x="24.44" y="480.8" class="t" textLength="23.74" lengthAdjust="spacingAndGlyphs">-1.5</text>
<text x="48.3" y="434.55" text-anchor="end" class="t">-1</text>
<text x="24.95" y="388.3" class="t" textLength="23.53" lengthAdjust="spacingAndGlyphs">-0.5</text>
<text x="48.3" y="342.05" text-anchor="end" class="t">0</text>
<text x="30.15" y="295.8" class="t" textLength="18.12" lengthAdjust="spacingAndGlyphs">0.5</text>
<path d="M51.05 337.1h3.1v3.1h-3.1zM51.81 337.1h3.1v3.1h-3.1zM52.57 337.1h3.1v3.1h-3.1zM53.32 337.1h3.1v3.1h-3.1zM54.08 337.1h3.1v3.1h-3.1zM54.84 337.1h3.1v3.1h-3.1zM55.6 337.1h3.1v3.1h-3.1zM56.35 337.1h3.1v3.1h-3.1zM57.11 337.1h3.1v3.1h-3.1zM57.87 337.1h3.1v3.1h-3.1zM58.63 337.1h3.1v3.1h-3.1zM59.39 337.1h3.1v3.1h-3.1zM60.14 337.1h3.1v3.1h-3.1zM60.9 337.1h3.1v3.1h-3.1zM61.66 337.1h3.1v3.1h-3.1zM62.42 337.1h3.1v3.1h-3.1zM63.17 337.1h3.1v3.1h-3.1zM63.93 337.1h3.1v3.1h-3.1zM64.69 337.1h3.1v3.1h-3.1zM65.45 337.1h3.1v3.1h-3.1zM66.21 337.1h3.1v3.1h-3.1zM66.96 337.1h3.1v3.1h-3.1zM67.72 337.1h3.1v3.1h-3.1zM68.48 337.1h3.1v3.1h-3.1zM69.24 337.1h3.1v3.1h-3.1zM70 337.1h3.1v3.1h-3.1zM70.75 337.1h3.1v3.1h-3.1zM71.51 337.1h3.1v3.1h-3.1zM72.27 337.1h3.1v3.1h-3.1zM73.03 337.1h3.1v3.1h-3.1zM73.78 337.1h3.1v3.1h-3.1zM74.54 337.1h3.1v3.1h-3.1zM75.3 337.1h3.1v3.1h-3.1zM76.06 337.1h3.1v3.1h-3.1zM76.82 337.1h3.1v3.1h-3.1zM77.57 337.1h3.1v3.1h-3.1zM78.33 337.1h3.1v3.1h-3.1zM79.09 337.1h3.1v3.1h-3.1zM79.85 337.1h3.1v3.1h-3.1zM80.6 337.1h3.1v3.1h-3.1zM81.36 337.1h3.1v3.1h-3.1zM82.12 337.1h3.1v3.1h-3.1zM82.88 337.1h3.1v3.1h-3.1zM83.64 337.1h3.1v3.1h-3.1zM84.39 337.1h3.1v3.1h-3.1zM85.15 337.1h3.1v3.1h-3.1zM85.91 337.1h3.1v3.1h-3.1zM86.67 337.1h3.1v3.1h-3.1zM87.42 337.1h3.1v3.1h-3.1zM88.18 337.1h3.1v3.1h-3.1zM88.94 337.1h3.1v3.1h-3.1zM89.7 337.1h3.1v3.1h-3.1zM90.46 337.1h3.1v3.1h-3.1zM91.21 337.1h3.1v3.1h-3.1zM91.97 337.1h3.1v3.1h-3.1zM92.73 337.1h3.1v3.1h-3.1zM93.49 337.1h3.1v3.1h-3.1zM94.24 337.1h3.1v3.1h-3.1zM95 337.1h3.1v3.1h-3.1zM95.76 337.1h3.1v3.1h-3.1zM96.52 337.1h3.1v3.1h-3.1zM97.28 337.1h3.1v3.1h-3.1zM98.03 337.1h3.1v3.1h-3.1zM98.79 337.1h3.1v3.1h-3.1zM99.55 337.1h3.1v3.1h-3.1zM100.31 337.1h3.1v3.1h-3.1zM101.06 337.1h3.1v3.1h-3.1zM101.82 337.1h3.1v3.1h-3.1zM102.58 337.1h3.1v3.1h-3.1zM103.34 337.1h3.1v3.1h-3.1zM104.1 337.1h3.1v3.1h-3.1zM104.85 337.1h3.1v3.1h-3.1zM105.61 337.1h3.1v3.1h-3.1zM106.37 337.1h3.1v3.1h-3.1zM107.13 337.1h3.1v3.1h-3.1zM107.89 337.1h3.1v3.1h-3.1zM108.64 337.1h3.1v3.1h-3.1zM109.4 337.1h3.1v3.1h-3.1zM110.16 337.1h3.1v3.1h-3.1zM110.92 337.1h3.1v3.1h-3.1zM111.67 337.1h3.1v3.1h-3.1zM112.43 337.1h3.1v3.1h-3.1zM113.19 337.1h3.1v3.1h-3.1zM113.95 337.1h3.1v3.1h-3.1zM114.71 337.1h3.1v3.1h-3.1zM115.46 337.1h3.1v3.1h-3.1zM116.22 337.1h3.1v3.1h-3.1zM116.98 337.1h3.1v3.1h-3.1zM117.74 337.1h3.1v3.1h-3.1zM118.49 337.1h3.1v3.1h-3.1zM119.25 337.1h3.1v3.1h-3.1zM120.01 337.1h3.1v3.1h-3.1zM120.77 337.1h3.1v3.1h-3.1zM121.53 337.1h3.1v3.1h-3.1zM122.28 337.1h3.1v3.1h-3.1zM123.04 337.1h3.1v3.1h-3.1zM123.8 337.1h3.1v3.1h-3.1zM124.56 337.1h3.1v3.1h-3.1zM125.31 337.1h3.1v3.1h-3.1zM126.07 337.1h3.1v3.1h-3.1zM126.83 337.1h3.1v3.1h-3.1zM127.59 337.1h3.1v3.1h-3.1zM128.35 337.1h3.1v3.1h-3.1zM129.1 337.1h3.1v3.1h-3.1zM129.86 337.1h3.1v3.1h-3.1zM130.62 337.1h3.1v3.1h-3.1zM131.38 337.1h3.1v3.1h-3.1zM132.13 337.1h3.1v3.1h-3.1zM132.89 337.1h3.1v3.1h-3.1zM133.65 337.1h3.1v3.1h-3.1zM134.41 337.1h3.1v3.1h-3.1zM135.17 337.1h3.1v3.1h-3.1zM135.92 337.1h3.1v3.1h-3.1zM136.68 337.1h3.1v3.1h-3.1zM137.44 337.1h3.1v3.1h-3.1zM138.2 337.1h3.1v3.1h-3.1zM138.95 337.1h3.1v3.1h-3.1zM139.71 337.1h3.1v3.1h-3.1zM140.47 337.1h3.1v3.1h-3.1zM141.23 337.1h3.1v3.1h-3.1zM141.99 337.1h3.1v3.1h-3.1zM142.74 337.1h3.1v3.1h-3.1zM143.5 337.1h3.1v3.1h-3.1zM144.26 337.1h3.1v3.1h-3.1zM145.02 337.1h3.1v3.1h-3.1zM145.77 337.1h3.1v3.1h-3.1zM146.53 337.1h3.1v3.1h-3.1zM147.29 337.1h3.1v3.1h-3.1zM148.05 337.1h3.1v3.1h-3.1zM148.81 337.1h3.1v3.1h-3.1zM149.56 337.1h3.1v3.1h-3.1zM150.32 337.1h3.1v3.1h-3.1zM151.08 337.1h3.1v3.1h-3.1zM151.84 337.1h3.1v3.1h-3.1zM152.6 337.1h3.1v3.1h-3.1zM153.35 337.1h3.1v3.1h-3.1zM154.11 337.1h3.1v3.1h-3.1zM154.87 337.1h3.1v3.1h-3.1zM155.63 337.1h3.1v3.1h-3.1zM156.38 337.1h3.1v3.1h-3.1zM157.14 337.1h3.1v3.1h-3.1zM157.9 337.1h3.1v3.1h-3.1zM158.66 337.1h3.1v3.1h-3.1zM159.42 337.1h3.1v3.1h-3.1zM160.17 337.1h3.1v3.1h-3.1zM160.93 337.1h3.1v3.1h-3.1zM161.69 337.1h3.1v3.1h-3.1zM162.45 337.1h3.1v3.1h-3.1zM163.2 337.1h3.1v3.1h-3.1zM163.96 337.1h3.1v3.1h-3.1zM164.72 337.1h3.1v3.1h-3.1zM165.48 337.1h3.1v3.1h-3.1zM166.24 337.1h3.1v3.1h-3.1zM166.99 337.1h3.1v3.1h-3.1zM167.75 337.1h3.1v3.1h-3.1zM168.51 337.1h3.1v3.1h-3.1zM169.27 337.1h3.1v3.1h-3.1zM170.02 337.1h3.1v3.1h-3.1zM170.78 337.1h3.1v3.1h-3.1zM171.54 337.1h3.1v3.1h-3.1zM172.3 337.1h3.1v3.1h-3.1zM173.06 337.1h3.1v3.1h-3.1zM173.81 337.1h3.1v3.1h-3.1zM174.57 337.1h3.1v3.1h-3.1zM175.33 337.1h3.1v3.1h-3.1zM176.09 337.1h3.1v3.1h-3.1zM176.84 337.1h3.1v3.1h-3.1zM177.6 337.1h3.1v3.1h-3.1zM178.36 337.1h3.1v3.1h-3.1zM179.12 337.1h3.1v3.1h-3.1zM179.88 337.1h3.1v3.1h-3.1zM180.63 337.1h3.1v3.1h-3.1zM181.39 337.1h3.1v3.1h-3.1zM182.15 337.1h3.1v3.1h-3.1zM182.91 337.1h3.1v3.1h-3.1zM183.66 337.1h3.1v3.1h-3.1zM184.42 337.1h3.1v3.1h-3.1zM185.18 337.1h3.1v3.1h-3.1zM185.94 337.1h3.1v3.1h-3.1zM186.7 337.1h3.1v3.1h-3.1zM187.45 337.1h3.1v3.1h-3.1zM188.21 337.1h3.1v3.1h-3.1zM188.97 337.1h3.1v3.1h-3.1zM189.73 337.1h3.1v3.1h-3.1zM190.49 337.1h3.1v3.1h-3.1zM191.24 337.1h3.1v3.1h-3.1zM192 337.1h3.1v3.1h-3.1zM192.76 337.1h3.1v3.1h-3.1zM193.52 337.1h3.1v3.1h-3.1zM194.27 337.1h3.1v3.1h-3.1zM195.03 337.1h3.1v3.1h-3.1zM195.79 337.1h3.1v3.1h-3.1zM196.55 337.1h3.1v3.1h-3.1zM197.31 337.1h3.1v3.1h-3.1zM198.06 337.1h3.1v3.1h-3.1zM198.82 337.1h3.1v3.1h-3.1zM199.58 337.1h3.1v3.1h-3.1zM200.34 337.1h3.1v3.1h-3.1zM201.09 337.1h3.1v3.1h-3.1zM201.85 337.1h3.1v3.1h-3.1zM202.61 337.1h3.1v3.1h-3.1zM203.37 337.1h3.1v3.1h-3.1zM204.13 337.1h3.1v3.1h-3.1zM204.88 337.1h3.1v3.1h-3.1zM205.64 337.1h3.1v3.1h-3.1zM206.4 337.1h3.1v3.1h-3.1zM207.16 337.1h3.1v3.1h-3.1zM207.91 337.1h3.1v3.1h-3.1zM208.67 337.1h3.1v3.1h-3.1zM209.43 337.1h3.1v3.1h-3.1zM210.19 337.1h3.1v3.1h-3.1zM210.95 337.1h3.1v3.1h-3.1zM211.7 337.1h3.1v3.1h-3.1zM212.46 337.1h3.1v3.1h-3.1zM213.22 337.1h3.1v3.1h-3.1zM213.98 337.1h3.1v3.1h-3.1zM214.73 337.1h3.1v3.1h-3.1zM215.49 337.1h3.1v3.1h-3.1zM216.25 337.1h3.1v3.1h-3.1zM217.01 337.1h3.1v3.1h-3.1zM217.77 337.1h3.1v3.1h-3.1zM218.52 337.1h3.1v3.1h-3.1zM219.28 337.1h3.1v3.1h-3.1zM220.04 337.1h3.1v3.1h-3.1zM220.8 337.1h3.1v3.1h-3.1zM221.55 337.1h3.1v3.1h-3.1zM222.31 337.1h3.1v3.1h-3.1zM223.07 337.1h3.1v3.1h-3.1zM223.83 337.1h3.1v3.1h-3.1zM224.59 337.1h3.1v3.1h-3.1zM225.34 337.1h3.1v3.1h-3.1zM226.1 337.11h3.1v3.1h-3.1zM226.86 337.11h3.1v3.1h-3.1zM227.62 337.11h3.1v3.1h-3.1zM228.38 337.11h3.1v3.1h-3.1zM229.13 337.11h3.1v3.1h-3.1zM229.89 337.11h3.1v3.1h-3.1zM230.65 337.11h3.1v3.1h-3.1zM231.41 337.11h3.1v3.1h-3.1zM232.16 337.11h3.1v3.1h-3.1zM232.92 337.11h3.1v3.1h-3.1zM233.68 337.11h3.1v3.1h-3.1zM234.44 337.11h3.1v3.1h-3.1zM235.2 337.11h3.1v3.1h-3.1zM235.95 337.11h3.1v3.1h-3.1zM236.71 337.11h3.1v3.1h-3.1zM237.47 337.11h3.1v3.1h-3.1zM238.23 337.11h3.1v3.1h-3.1zM238.98 337.11h3.1v3.1h-3.1zM239.74 337.11h3.1v3.1h-3.1zM240.5 337.11h3.1v3.1h-3.1zM241.26 337.11h3.1v3.1h-3.1zM242.02 337.11h3.1v3.1h-3.1zM242.77 337.11h3.1v3.1h-3.1zM243.53 337.12h3.1v3.1h-3.1zM244.29 337.12h3.1v3.1h-3.1zM245.05 337.12h3.1v3.1h-3.1zM245.8 337.12h3.1v3.1h-3.1zM246.56 337.12h3.1v3.1h-3.1zM247.32 337.12h3.1v3.1h-3.1zM248.08 337.12h3.1v3.1h-3.1zM248.84 337.12h3.1v3.1h-3.1zM249.59 337.12h3.1v3.1h-3.1zM250.35 337.12h3.1v3.1h-3.1zM251.11 337.12h3.1v3.1h-3.1zM251.87 337.12h3.1v3.1h-3.1zM252.62 337.12h3.1v3.1h-3.1zM253.38 337.12h3.1v3.1h-3.1zM254.14 337.13h3.1v3.1h-3.1zM254.9 337.13h3.1v3.1h-3.1zM255.66 337.13h3.1v3.1h-3.1zM256.41 337.13h3.1v3.1h-3.1zM257.17 337.13h3.1v3.1h-3.1zM257.93 337.13h3.1v3.1h-3.1zM258.69 337.13h3.1v3.1h-3.1zM259.44 337.13h3.1v3.1h-3.1zM260.2 337.13h3.1v3.1h-3.1zM260.96 337.13h3.1v3.1h-3.1zM261.72 337.13h3.1v3.1h-3.1zM262.48 337.13h3.1v3.1h-3.1zM263.23 337.14h3.1v3.1h-3.1zM263.99 337.14h3.1v3.1h-3.1zM264.75 337.14h3.1v3.1h-3.1zM265.51 337.14h3.1v3.1h-3.1zM266.27 337.14h3.1v3.1h-3.1zM267.02 337.14h3.1v3.1h-3.1zM267.78 337.14h3.1v3.1h-3.1zM268.54 337.14h3.1v3.1h-3.1zM269.3 337.14h3.1v3.1h-3.1zM270.05 337.14h3.1v3.1h-3.1zM270.81 337.15h3.1v3.1h-3.1zM271.57 337.15h3.1v3.1h-3.1zM272.33 337.15h3.1v3.1h-3.1zM273.09 337.15h3.1v3.1h-3.1zM273.84 337.15h3.1v3.1h-3.1zM274.6 337.15h3.1v3.1h-3.1zM275.36 337.15h3.1v3.1h-3.1zM276.12 337.15h3.1v3.1h-3.1zM276.87 337.16h3.1v3.1h-3.1zM277.63 337.16h3.1v3.1h-3.1zM278.39 337.16h3.1v3.1h-3.1zM279.15 337.16h3.1v3.1h-3.1zM279.91 337.16h3.1v3.1h-3.1zM280.66 337.16h3.1v3.1h-3.1zM281.42 337.16h3.1v3.1h-3.1zM282.18 337.17h3.1v3.1h-3.1zM282.94 337.17h3.1v3.1h-3.1zM283.69 337.17h3.1v3.1h-3.1zM284.45 337.17h3.1v3.1h-3.1zM285.21 337.17h3.1v3.1h-3.1zM285.97 337.17h3.1v3.1h-3.1zM286.73 337.17h3.1v3.1h-3.1zM287.48 337.18h3.1v3.1h-3.1zM288.24 337.18h3.1v3.1h-3.1zM289 337.18h3.1v3.1h-3.1zM289.76 337.18h3.1v3.1h-3.1zM290.51 337.18h3.1v3.1h-3.1zM291.27 337.18h3.1v3.1h-3.1zM292.03 337.19h3.1v3.1h-3.1zM292.79 337.19h3.1v3.1h-3.1zM293.55 337.19h3.1v3.1h-3.1zM294.3 337.19h3.1v3.1h-3.1zM295.06 337.19h3.1v3.1h-3.1zM295.82 337.19h3.1v3.1h-3.1zM296.58 337.2h3.1v3.1h-3.1zM297.33 337.2h3.1v3.1h-3.1zM298.09 337.2h3.1v3.1h-3.1zM298.85 337.2h3.1v3.1h-3.1zM299.61 337.2h3.1v3.1h-3.1zM300.37 337.21h3.1v3.1h-3.1zM301.12 337.21h3.1v3.1h-3.1zM301.88 337.22h3.1v3.1h-3.1zM302.64 337.23h3.1v3.1h-3.1zM303.4 337.24h3.1v3.1h-3.1zM304.16 337.25h3.1v3.1h-3.1zM304.91 337.26h3.1v3.1h-3.1zM305.67 337.27h3.1v3.1h-3.1zM306.43 337.28h3.1v3.1h-3.1zM307.19 337.3h3.1v3.1h-3.1zM307.94 337.32h3.1v3.1h-3.1zM308.7 337.33h3.1v3.1h-3.1zM309.46 337.35h3.1v3.1h-3.1zM310.22 337.38h3.1v3.1h-3.1zM310.98 337.4h3.1v3.1h-3.1zM311.73 337.42h3.1v3.1h-3.1zM312.49 337.45h3.1v3.1h-3.1zM313.25 337.48h3.1v3.1h-3.1zM314.01 337.51h3.1v3.1h-3.1zM314.76 337.54h3.1v3.1h-3.1zM315.52 337.57h3.1v3.1h-3.1zM316.28 337.61h3.1v3.1h-3.1zM317.04 337.68h3.1v3.1h-3.1zM317.8 337.8h3.1v3.1h-3.1zM318.55 337.92h3.1v3.1h-3.1zM319.31 338.04h3.1v3.1h-3.1zM320.07 338.16h3.1v3.1h-3.1zM320.83 338.29h3.1v3.1h-3.1zM321.58 338.43h3.1v3.1h-3.1zM322.34 338.58h3.1v3.1h-3.1zM323.1 338.73h3.1v3.1h-3.1zM323.86 338.89h3.1v3.1h-3.1zM324.62 339.06h3.1v3.1h-3.1zM325.37 339.25h3.1v3.1h-3.1zM326.13 339.44h3.1v3.1h-3.1zM326.89 339.65h3.1v3.1h-3.1zM327.65 339.87h3.1v3.1h-3.1zM328.4 340.12h3.1v3.1h-3.1zM329.16 340.4h3.1v3.1h-3.1zM329.92 340.72h3.1v3.1h-3.1zM330.68 341.07h3.1v3.1h-3.1zM331.44 341.45h3.1v3.1h-3.1zM332.19 341.86h3.1v3.1h-3.1zM332.95 342.27h3.1v3.1h-3.1zM333.71 342.71h3.1v3.1h-3.1zM334.47 343.15h3.1v3.1h-3.1zM335.22 343.6h3.1v3.1h-3.1zM335.98 344.04h3.1v3.1h-3.1zM336.74 344.48h3.1v3.1h-3.1zM337.5 344.92h3.1v3.1h-3.1zM338.26 345.37h3.1v3.1h-3.1zM339.01 345.82h3.1v3.1h-3.1zM339.77 346.28h3.1v3.1h-3.1zM340.53 346.75h3.1v3.1h-3.1zM341.29 347.23h3.1v3.1h-3.1zM342.05 347.73h3.1v3.1h-3.1zM342.8 348.23h3.1v3.1h-3.1zM343.56 348.75h3.1v3.1h-3.1zM344.32 349.28h3.1v3.1h-3.1zM345.08 349.83h3.1v3.1h-3.1zM345.83 350.39h3.1v3.1h-3.1zM346.59 350.97h3.1v3.1h-3.1zM347.35 351.57h3.1v3.1h-3.1zM348.11 352.19h3.1v3.1h-3.1zM348.87 352.83h3.1v3.1h-3.1zM349.62 353.48h3.1v3.1h-3.1zM350.38 354.16h3.1v3.1h-3.1zM351.14 354.85h3.1v3.1h-3.1zM351.9 355.56h3.1v3.1h-3.1zM352.65 356.29h3.1v3.1h-3.1zM353.41 357.03h3.1v3.1h-3.1zM354.17 357.79h3.1v3.1h-3.1zM354.93 358.57h3.1v3.1h-3.1zM355.69 359.35h3.1v3.1h-3.1zM356.44 360.17h3.1v3.1h-3.1zM357.2 361h3.1v3.1h-3.1zM357.96 361.87h3.1v3.1h-3.1zM358.72 362.76h3.1v3.1h-3.1zM359.47 363.67h3.1v3.1h-3.1zM360.23 364.6h3.1v3.1h-3.1zM360.99 365.56h3.1v3.1h-3.1zM361.75 366.53h3.1v3.1h-3.1zM362.51 367.52h3.1v3.1h-3.1zM363.26 368.54h3.1v3.1h-3.1zM364.02 369.57h3.1v3.1h-3.1zM364.78 370.63h3.1v3.1h-3.1zM365.54 371.72h3.1v3.1h-3.1zM366.29 372.84h3.1v3.1h-3.1zM367.05 373.99h3.1v3.1h-3.1zM367.81 375.17h3.1v3.1h-3.1zM368.57 376.38h3.1v3.1h-3.1zM369.33 377.62h3.1v3.1h-3.1zM370.08 378.89h3.1v3.1h-3.1zM370.84 380.21h3.1v3.1h-3.1zM371.6 381.57h3.1v3.1h-3.1zM372.36 382.97h3.1v3.1h-3.1zM373.11 384.41h3.1v3.1h-3.1zM373.87 385.88h3.1v3.1h-3.1zM378.42 337.1h3.1v3.1h-3.1zM379.18 337.1h3.1v3.1h-3.1zM379.94 337.1h3.1v3.1h-3.1zM380.69 337.1h3.1v3.1h-3.1zM381.45 337.1h3.1v3.1h-3.1zM382.21 337.1h3.1v3.1h-3.1zM382.97 337.1h3.1v3.1h-3.1zM383.72 337.1h3.1v3.1h-3.1zM384.48 337.1h3.1v3.1h-3.1zM385.24 337.1h3.1v3.1h-3.1zM386 337.1h3.1v3.1h-3.1zM386.76 337.1h3.1v3.1h-3.1zM387.51 337.1h3.1v3.1h-3.1zM388.27 337.1h3.1v3.1h-3.1zM389.03 337.1h3.1v3.1h-3.1zM389.79 337.1h3.1v3.1h-3.1zM390.54 337.1h3.1v3.1h-3.1zM391.3 337.1h3.1v3.1h-3.1zM392.06 337.1h3.1v3.1h-3.1zM392.82 337.1h3.1v3.1h-3.1zM393.58 337.1h3.1v3.1h-3.1zM394.33 337.1h3.1v3.1h-3.1zM395.09 337.1h3.1v3.1h-3.1zM395.85 337.1h3.1v3.1h-3.1zM376.65 343.45h3.1v3.1h-3.1zM375.95 357.95h3.1v3.1h-3.1zM375.15 373.15h3.1v3.1h-3.1z" stroke="#0072BD" stroke-width="1.0" fill="none"/>
<path d="M50.7 338.65a1.9 1.9 0 1 0 3.8 0a1.9 1.9 0 1 0 -3.8 0M51.46 338.65a1.9 1.9 0 1 0 3.8 0a1.9 1.9 0 1 0 -3.8 0M52.22 338.65a1.9 1.9 0 1 0 3.8 0a1.9 1.9 0 1 0 -3.8 0M52.97 338.65a1.9 1.9 0 1 0 3.8 0a1.9 1.9 0 1 0 -3.8 0M53.73 338.65a1.9 1.9 0 1 0 3.8 0a1.9 1.9 0 1 0 -3.8 0M54.49 338.65a1.9 1.9 0 1 0 3.8 0a1.9 1.9 0 1 0 -3.8 0M55.25 338.65a1.9 1.9 0 1 0 3.8 0a1.9 1.9 0 1 0 -3.8 0M56 338.65a1.9 1.9 0 1 0 3.8 0a1.9 1.9 0 1 0 -3.8 0M56.76 338.65a1.9 1.9 0 1 0 3.8 0a1.9 1.9 0 1 0 -3.8 0M57.52 338.65a1.9 1.9 0 1 0 3.8 0a1.9 1.9 0 1 0 -3.8 0M58.28 338.65a1.9 1.9 0 1 0 3.8 0a1.9 1.9 0 1 0 -3.8 0M59.04 338.65a1.9 1.9 0 1 0 3.8 0a1.9 1.9 0 1 0 -3.8 0M59.79 338.65a1.9 1.9 0 1 0 3.8 0a1.9 1.9 0 1 0 -3.8 0M60.55 338.65a1.9 1.9 0 1 0 3.8 0a1.9 1.9 0 1 0 -3.8 0M61.31 338.65a1.9 1.9 0 1 0 3.8 0a1.9 1.9 0 1 0 -3.8 0M62.07 338.65a1.9 1.9 0 1 0 3.8 0a1.9 1.9 0 1 0 -3.8 0M62.82 338.65a1.9 1.9 0 1 0 3.8 0a1.9 1.9 0 1 0 -3.8 0M63.58 338.65a1.9 1.9 0 1 0 3.8 0a1.9 1.9 0 1 0 -3.8 0M64.34 338.65a1.9 1.9 0 1 0 3.8 0a1.9 1.9 0 1 0 -3.8 0M65.1 338.65a1.9 1.9 0 1 0 3.8 0a1.9 1.9 0 1 0 -3.8 0M65.86 338.65a1.9 1.9 0 1 0 3.8 0a1.9 1.9 0 1 0 -3.8 0M66.61 338.65a1.9 1.9 0 1 0 3.8 0a1.9 1.9 0 1 0 -3.8 0M67.37 338.65a1.9 1.9 0 1 0 3.8 0a1.9 1.9 0 1 0 -3.8 0M68.13 338.65a1.9 1.9 0 1 0 3.8 0a1.9 1.9 0 1 0 -3.8 0M68.89 338.65a1.9 1.9 0 1 0 3.8 0a1.9 1.9 0 1 0 -3.8 0M69.64 338.65a1.9 1.9 0 1 0 3.8 0a1.9 1.9 0 1 0 -3.8 0M70.4 338.65a1.9 1.9 0 1 0 3.8 0a1.9 1.9 0 1 0 -3.8 0M71.16 338.65a1.9 1.9 0 1 0 3.8 0a1.9 1.9 0 1 0 -3.8 0M71.92 338.65a1.9 1.9 0 1 0 3.8 0a1.9 1.9 0 1 0 -3.8 0M72.68 338.65a1.9 1.9 0 1 0 3.8 0a1.9 1.9 0 1 0 -3.8 0M73.43 338.65a1.9 1.9 0 1 0 3.8 0a1.9 1.9 0 1 0 -3.8 0M74.19 338.65a1.9 1.9 0 1 0 3.8 0a1.9 1.9 0 1 0 -3.8 0M74.95 338.65a1.9 1.9 0 1 0 3.8 0a1.9 1.9 0 1 0 -3.8 0M75.71 338.65a1.9 1.9 0 1 0 3.8 0a1.9 1.9 0 1 0 -3.8 0M76.47 338.65a1.9 1.9 0 1 0 3.8 0a1.9 1.9 0 1 0 -3.8 0M77.22 338.65a1.9 1.9 0 1 0 3.8 0a1.9 1.9 0 1 0 -3.8 0M77.98 338.65a1.9 1.9 0 1 0 3.8 0a1.9 1.9 0 1 0 -3.8 0M78.74 338.65a1.9 1.9 0 1 0 3.8 0a1.9 1.9 0 1 0 -3.8 0M79.5 338.65a1.9 1.9 0 1 0 3.8 0a1.9 1.9 0 1 0 -3.8 0M80.25 338.65a1.9 1.9 0 1 0 3.8 0a1.9 1.9 0 1 0 -3.8 0M81.01 338.65a1.9 1.9 0 1 0 3.8 0a1.9 1.9 0 1 0 -3.8 0M81.77 338.65a1.9 1.9 0 1 0 3.8 0a1.9 1.9 0 1 0 -3.8 0M82.53 338.65a1.9 1.9 0 1 0 3.8 0a1.9 1.9 0 1 0 -3.8 0M83.29 338.65a1.9 1.9 0 1 0 3.8 0a1.9 1.9 0 1 0 -3.8 0M84.04 338.65a1.9 1.9 0 1 0 3.8 0a1.9 1.9 0 1 0 -3.8 0M84.8 338.65a1.9 1.9 0 1 0 3.8 0a1.9 1.9 0 1 0 -3.8 0M85.56 338.65a1.9 1.9 0 1 0 3.8 0a1.9 1.9 0 1 0 -3.8 0M86.32 338.65a1.9 1.9 0 1 0 3.8 0a1.9 1.9 0 1 0 -3.8 0M87.07 338.65a1.9 1.9 0 1 0 3.8 0a1.9 1.9 0 1 0 -3.8 0M87.83 338.65a1.9 1.9 0 1 0 3.8 0a1.9 1.9 0 1 0 -3.8 0M88.59 338.65a1.9 1.9 0 1 0 3.8 0a1.9 1.9 0 1 0 -3.8 0M89.35 338.65a1.9 1.9 0 1 0 3.8 0a1.9 1.9 0 1 0 -3.8 0M90.11 338.65a1.9 1.9 0 1 0 3.8 0a1.9 1.9 0 1 0 -3.8 0M90.86 338.65a1.9 1.9 0 1 0 3.8 0a1.9 1.9 0 1 0 -3.8 0M91.62 338.65a1.9 1.9 0 1 0 3.8 0a1.9 1.9 0 1 0 -3.8 0M92.38 338.65a1.9 1.9 0 1 0 3.8 0a1.9 1.9 0 1 0 -3.8 0M93.14 338.65a1.9 1.9 0 1 0 3.8 0a1.9 1.9 0 1 0 -3.8 0M93.89 338.65a1.9 1.9 0 1 0 3.8 0a1.9 1.9 0 1 0 -3.8 0M94.65 338.65a1.9 1.9 0 1 0 3.8 0a1.9 1.9 0 1 0 -3.8 0M95.41 338.65a1.9 1.9 0 1 0 3.8 0a1.9 1.9 0 1 0 -3.8 0M96.17 338.65a1.9 1.9 0 1 0 3.8 0a1.9 1.9 0 1 0 -3.8 0M96.93 338.65a1.9 1.9 0 1 0 3.8 0a1.9 1.9 0 1 0 -3.8 0M97.68 338.65a1.9 1.9 0 1 0 3.8 0a1.9 1.9 0 1 0 -3.8 0M98.44 338.65a1.9 1.9 0 1 0 3.8 0a1.9 1.9 0 1 0 -3.8 0M99.2 338.65a1.9 1.9 0 1 0 3.8 0a1.9 1.9 0 1 0 -3.8 0M99.96 338.65a1.9 1.9 0 1 0 3.8 0a1.9 1.9 0 1 0 -3.8 0M100.71 338.65a1.9 1.9 0 1 0 3.8 0a1.9 1.9 0 1 0 -3.8 0M101.47 338.65a1.9 1.9 0 1 0 3.8 0a1.9 1.9 0 1 0 -3.8 0M102.23 338.65a1.9 1.9 0 1 0 3.8 0a1.9 1.9 0 1 0 -3.8 0M102.99 338.65a1.9 1.9 0 1 0 3.8 0a1.9 1.9 0 1 0 -3.8 0M103.75 338.65a1.9 1.9 0 1 0 3.8 0a1.9 1.9 0 1 0 -3.8 0M104.5 338.65a1.9 1.9 0 1 0 3.8 0a1.9 1.9 0 1 0 -3.8 0M105.26 338.65a1.9 1.9 0 1 0 3.8 0a1.9 1.9 0 1 0 -3.8 0M106.02 338.65a1.9 1.9 0 1 0 3.8 0a1.9 1.9 0 1 0 -3.8 0M106.78 338.65a1.9 1.9 0 1 0 3.8 0a1.9 1.9 0 1 0 -3.8 0M107.53 338.65a1.9 1.9 0 1 0 3.8 0a1.9 1.9 0 1 0 -3.8 0M108.29 338.65a1.9 1.9 0 1 0 3.8 0a1.9 1.9 0 1 0 -3.8 0M109.05 338.65a1.9 1.9 0 1 0 3.8 0a1.9 1.9 0 1 0 -3.8 0M109.81 338.65a1.9 1.9 0 1 0 3.8 0a1.9 1.9 0 1 0 -3.8 0M110.57 338.65a1.9 1.9 0 1 0 3.8 0a1.9 1.9 0 1 0 -3.8 0M111.32 338.65a1.9 1.9 0 1 0 3.8 0a1.9 1.9 0 1 0 -3.8 0M112.08 338.65a1.9 1.9 0 1 0 3.8 0a1.9 1.9 0 1 0 -3.8 0M112.84 338.65a1.9 1.9 0 1 0 3.8 0a1.9 1.9 0 1 0 -3.8 0M113.6 338.65a1.9 1.9 0 1 0 3.8 0a1.9 1.9 0 1 0 -3.8 0M114.36 338.65a1.9 1.9 0 1 0 3.8 0a1.9 1.9 0 1 0 -3.8 0M115.11 338.65a1.9 1.9 0 1 0 3.8 0a1.9 1.9 0 1 0 -3.8 0M115.87 338.65a1.9 1.9 0 1 0 3.8 0a1.9 1.9 0 1 0 -3.8 0M116.63 338.65a1.9 1.9 0 1 0 3.8 0a1.9 1.9 0 1 0 -3.8 0M117.39 338.65a1.9 1.9 0 1 0 3.8 0a1.9 1.9 0 1 0 -3.8 0M118.14 338.65a1.9 1.9 0 1 0 3.8 0a1.9 1.9 0 1 0 -3.8 0M118.9 338.65a1.9 1.9 0 1 0 3.8 0a1.9 1.9 0 1 0 -3.8 0M119.66 338.65a1.9 1.9 0 1 0 3.8 0a1.9 1.9 0 1 0 -3.8 0M120.42 338.65a1.9 1.9 0 1 0 3.8 0a1.9 1.9 0 1 0 -3.8 0M121.18 338.65a1.9 1.9 0 1 0 3.8 0a1.9 1.9 0 1 0 -3.8 0M121.93 338.65a1.9 1.9 0 1 0 3.8 0a1.9 1.9 0 1 0 -3.8 0M122.69 338.65a1.9 1.9 0 1 0 3.8 0a1.9 1.9 0 1 0 -3.8 0M123.45 338.65a1.9 1.9 0 1 0 3.8 0a1.9 1.9 0 1 0 -3.8 0M124.21 338.65a1.9 1.9 0 1 0 3.8 0a1.9 1.9 0 1 0 -3.8 0M124.96 338.65a1.9 1.9 0 1 0 3.8 0a1.9 1.9 0 1 0 -3.8 0M125.72 338.65a1.9 1.9 0 1 0 3.8 0a1.9 1.9 0 1 0 -3.8 0M126.48 338.65a1.9 1.9 0 1 0 3.8 0a1.9 1.9 0 1 0 -3.8 0M127.24 338.65a1.9 1.9 0 1 0 3.8 0a1.9 1.9 0 1 0 -3.8 0M128 338.65a1.9 1.9 0 1 0 3.8 0a1.9 1.9 0 1 0 -3.8 0M128.75 338.65a1.9 1.9 0 1 0 3.8 0a1.9 1.9 0 1 0 -3.8 0M129.51 338.65a1.9 1.9 0 1 0 3.8 0a1.9 1.9 0 1 0 -3.8 0M130.27 338.65a1.9 1.9 0 1 0 3.8 0a1.9 1.9 0 1 0 -3.8 0M131.03 338.65a1.9 1.9 0 1 0 3.8 0a1.9 1.9 0 1 0 -3.8 0M131.78 338.65a1.9 1.9 0 1 0 3.8 0a1.9 1.9 0 1 0 -3.8 0M132.54 338.65a1.9 1.9 0 1 0 3.8 0a1.9 1.9 0 1 0 -3.8 0M133.3 338.65a1.9 1.9 0 1 0 3.8 0a1.9 1.9 0 1 0 -3.8 0M134.06 338.65a1.9 1.9 0 1 0 3.8 0a1.9 1.9 0 1 0 -3.8 0M134.82 338.65a1.9 1.9 0 1 0 3.8 0a1.9 1.9 0 1 0 -3.8 0M135.57 338.65a1.9 1.9 0 1 0 3.8 0a1.9 1.9 0 1 0 -3.8 0M136.33 338.65a1.9 1.9 0 1 0 3.8 0a1.9 1.9 0 1 0 -3.8 0M137.09 338.65a1.9 1.9 0 1 0 3.8 0a1.9 1.9 0 1 0 -3.8 0M137.85 338.65a1.9 1.9 0 1 0 3.8 0a1.9 1.9 0 1 0 -3.8 0M138.6 338.65a1.9 1.9 0 1 0 3.8 0a1.9 1.9 0 1 0 -3.8 0M139.36 338.65a1.9 1.9 0 1 0 3.8 0a1.9 1.9 0 1 0 -3.8 0M140.12 338.65a1.9 1.9 0 1 0 3.8 0a1.9 1.9 0 1 0 -3.8 0M140.88 338.65a1.9 1.9 0 1 0 3.8 0a1.9 1.9 0 1 0 -3.8 0M141.64 338.65a1.9 1.9 0 1 0 3.8 0a1.9 1.9 0 1 0 -3.8 0M142.39 338.65a1.9 1.9 0 1 0 3.8 0a1.9 1.9 0 1 0 -3.8 0M143.15 338.65a1.9 1.9 0 1 0 3.8 0a1.9 1.9 0 1 0 -3.8 0M143.91 338.65a1.9 1.9 0 1 0 3.8 0a1.9 1.9 0 1 0 -3.8 0M144.67 338.65a1.9 1.9 0 1 0 3.8 0a1.9 1.9 0 1 0 -3.8 0M145.42 338.65a1.9 1.9 0 1 0 3.8 0a1.9 1.9 0 1 0 -3.8 0M146.18 338.65a1.9 1.9 0 1 0 3.8 0a1.9 1.9 0 1 0 -3.8 0M146.94 338.65a1.9 1.9 0 1 0 3.8 0a1.9 1.9 0 1 0 -3.8 0M147.7 338.65a1.9 1.9 0 1 0 3.8 0a1.9 1.9 0 1 0 -3.8 0M148.46 338.65a1.9 1.9 0 1 0 3.8 0a1.9 1.9 0 1 0 -3.8 0M149.21 338.65a1.9 1.9 0 1 0 3.8 0a1.9 1.9 0 1 0 -3.8 0M149.97 338.65a1.9 1.9 0 1 0 3.8 0a1.9 1.9 0 1 0 -3.8 0M150.73 338.65a1.9 1.9 0 1 0 3.8 0a1.9 1.9 0 1 0 -3.8 0M151.49 338.65a1.9 1.9 0 1 0 3.8 0a1.9 1.9 0 1 0 -3.8 0M152.25 338.65a1.9 1.9 0 1 0 3.8 0a1.9 1.9 0 1 0 -3.8 0M153 338.65a1.9 1.9 0 1 0 3.8 0a1.9 1.9 0 1 0 -3.8 0M153.76 338.65a1.9 1.9 0 1 0 3.8 0a1.9 1.9 0 1 0 -3.8 0M154.52 338.65a1.9 1.9 0 1 0 3.8 0a1.9 1.9 0 1 0 -3.8 0M155.28 338.65a1.9 1.9 0 1 0 3.8 0a1.9 1.9 0 1 0 -3.8 0M156.03 338.65a1.9 1.9 0 1 0 3.8 0a1.9 1.9 0 1 0 -3.8 0M156.79 338.65a1.9 1.9 0 1 0 3.8 0a1.9 1.9 0 1 0 -3.8 0M157.55 338.65a1.9 1.9 0 1 0 3.8 0a1.9 1.9 0 1 0 -3.8 0M158.31 338.65a1.9 1.9 0 1 0 3.8 0a1.9 1.9 0 1 0 -3.8 0M159.07 338.65a1.9 1.9 0 1 0 3.8 0a1.9 1.9 0 1 0 -3.8 0M159.82 338.65a1.9 1.9 0 1 0 3.8 0a1.9 1.9 0 1 0 -3.8 0M160.58 338.65a1.9 1.9 0 1 0 3.8 0a1.9 1.9 0 1 0 -3.8 0M161.34 338.65a1.9 1.9 0 1 0 3.8 0a1.9 1.9 0 1 0 -3.8 0M162.1 338.65a1.9 1.9 0 1 0 3.8 0a1.9 1.9 0 1 0 -3.8 0M162.85 338.65a1.9 1.9 0 1 0 3.8 0a1.9 1.9 0 1 0 -3.8 0M163.61 338.65a1.9 1.9 0 1 0 3.8 0a1.9 1.9 0 1 0 -3.8 0M164.37 338.65a1.9 1.9 0 1 0 3.8 0a1.9 1.9 0 1 0 -3.8 0M165.13 338.65a1.9 1.9 0 1 0 3.8 0a1.9 1.9 0 1 0 -3.8 0M165.89 338.65a1.9 1.9 0 1 0 3.8 0a1.9 1.9 0 1 0 -3.8 0M166.64 338.65a1.9 1.9 0 1 0 3.8 0a1.9 1.9 0 1 0 -3.8 0M167.4 338.65a1.9 1.9 0 1 0 3.8 0a1.9 1.9 0 1 0 -3.8 0M168.16 338.65a1.9 1.9 0 1 0 3.8 0a1.9 1.9 0 1 0 -3.8 0M168.92 338.65a1.9 1.9 0 1 0 3.8 0a1.9 1.9 0 1 0 -3.8 0M169.67 338.65a1.9 1.9 0 1 0 3.8 0a1.9 1.9 0 1 0 -3.8 0M170.43 338.65a1.9 1.9 0 1 0 3.8 0a1.9 1.9 0 1 0 -3.8 0M171.19 338.65a1.9 1.9 0 1 0 3.8 0a1.9 1.9 0 1 0 -3.8 0M171.95 338.65a1.9 1.9 0 1 0 3.8 0a1.9 1.9 0 1 0 -3.8 0M172.71 338.65a1.9 1.9 0 1 0 3.8 0a1.9 1.9 0 1 0 -3.8 0M173.46 338.65a1.9 1.9 0 1 0 3.8 0a1.9 1.9 0 1 0 -3.8 0M174.22 338.65a1.9 1.9 0 1 0 3.8 0a1.9 1.9 0 1 0 -3.8 0M174.98 338.65a1.9 1.9 0 1 0 3.8 0a1.9 1.9 0 1 0 -3.8 0M175.74 338.65a1.9 1.9 0 1 0 3.8 0a1.9 1.9 0 1 0 -3.8 0M176.49 338.65a1.9 1.9 0 1 0 3.8 0a1.9 1.9 0 1 0 -3.8 0M177.25 338.65a1.9 1.9 0 1 0 3.8 0a1.9 1.9 0 1 0 -3.8 0M178.01 338.65a1.9 1.9 0 1 0 3.8 0a1.9 1.9 0 1 0 -3.8 0M178.77 338.65a1.9 1.9 0 1 0 3.8 0a1.9 1.9 0 1 0 -3.8 0M179.53 338.65a1.9 1.9 0 1 0 3.8 0a1.9 1.9 0 1 0 -3.8 0M180.28 338.65a1.9 1.9 0 1 0 3.8 0a1.9 1.9 0 1 0 -3.8 0M181.04 338.65a1.9 1.9 0 1 0 3.8 0a1.9 1.9 0 1 0 -3.8 0M181.8 338.65a1.9 1.9 0 1 0 3.8 0a1.9 1.9 0 1 0 -3.8 0M182.56 338.65a1.9 1.9 0 1 0 3.8 0a1.9 1.9 0 1 0 -3.8 0M183.31 338.65a1.9 1.9 0 1 0 3.8 0a1.9 1.9 0 1 0 -3.8 0M184.07 338.65a1.9 1.9 0 1 0 3.8 0a1.9 1.9 0 1 0 -3.8 0M184.83 338.65a1.9 1.9 0 1 0 3.8 0a1.9 1.9 0 1 0 -3.8 0M185.59 338.65a1.9 1.9 0 1 0 3.8 0a1.9 1.9 0 1 0 -3.8 0M186.35 338.65a1.9 1.9 0 1 0 3.8 0a1.9 1.9 0 1 0 -3.8 0M187.1 338.65a1.9 1.9 0 1 0 3.8 0a1.9 1.9 0 1 0 -3.8 0M187.86 338.65a1.9 1.9 0 1 0 3.8 0a1.9 1.9 0 1 0 -3.8 0M188.62 338.65a1.9 1.9 0 1 0 3.8 0a1.9 1.9 0 1 0 -3.8 0M189.38 338.65a1.9 1.9 0 1 0 3.8 0a1.9 1.9 0 1 0 -3.8 0M190.14 338.65a1.9 1.9 0 1 0 3.8 0a1.9 1.9 0 1 0 -3.8 0M190.89 338.65a1.9 1.9 0 1 0 3.8 0a1.9 1.9 0 1 0 -3.8 0M191.65 338.65a1.9 1.9 0 1 0 3.8 0a1.9 1.9 0 1 0 -3.8 0M192.41 338.65a1.9 1.9 0 1 0 3.8 0a1.9 1.9 0 1 0 -3.8 0M193.17 338.65a1.9 1.9 0 1 0 3.8 0a1.9 1.9 0 1 0 -3.8 0M193.92 338.65a1.9 1.9 0 1 0 3.8 0a1.9 1.9 0 1 0 -3.8 0M194.68 338.65a1.9 1.9 0 1 0 3.8 0a1.9 1.9 0 1 0 -3.8 0M195.44 338.65a1.9 1.9 0 1 0 3.8 0a1.9 1.9 0 1 0 -3.8 0M196.2 338.65a1.9 1.9 0 1 0 3.8 0a1.9 1.9 0 1 0 -3.8 0M196.96 338.65a1.9 1.9 0 1 0 3.8 0a1.9 1.9 0 1 0 -3.8 0M197.71 338.65a1.9 1.9 0 1 0 3.8 0a1.9 1.9 0 1 0 -3.8 0M198.47 338.65a1.9 1.9 0 1 0 3.8 0a1.9 1.9 0 1 0 -3.8 0M199.23 338.65a1.9 1.9 0 1 0 3.8 0a1.9 1.9 0 1 0 -3.8 0M199.99 338.65a1.9 1.9 0 1 0 3.8 0a1.9 1.9 0 1 0 -3.8 0M200.74 338.65a1.9 1.9 0 1 0 3.8 0a1.9 1.9 0 1 0 -3.8 0M201.5 338.65a1.9 1.9 0 1 0 3.8 0a1.9 1.9 0 1 0 -3.8 0M202.26 338.65a1.9 1.9 0 1 0 3.8 0a1.9 1.9 0 1 0 -3.8 0M203.02 338.65a1.9 1.9 0 1 0 3.8 0a1.9 1.9 0 1 0 -3.8 0M203.78 338.65a1.9 1.9 0 1 0 3.8 0a1.9 1.9 0 1 0 -3.8 0M204.53 338.65a1.9 1.9 0 1 0 3.8 0a1.9 1.9 0 1 0 -3.8 0M205.29 338.65a1.9 1.9 0 1 0 3.8 0a1.9 1.9 0 1 0 -3.8 0M206.05 338.65a1.9 1.9 0 1 0 3.8 0a1.9 1.9 0 1 0 -3.8 0M206.81 338.65a1.9 1.9 0 1 0 3.8 0a1.9 1.9 0 1 0 -3.8 0M207.56 338.65a1.9 1.9 0 1 0 3.8 0a1.9 1.9 0 1 0 -3.8 0M208.32 338.65a1.9 1.9 0 1 0 3.8 0a1.9 1.9 0 1 0 -3.8 0M209.08 338.65a1.9 1.9 0 1 0 3.8 0a1.9 1.9 0 1 0 -3.8 0M209.84 338.65a1.9 1.9 0 1 0 3.8 0a1.9 1.9 0 1 0 -3.8 0M210.6 338.65a1.9 1.9 0 1 0 3.8 0a1.9 1.9 0 1 0 -3.8 0M211.35 338.65a1.9 1.9 0 1 0 3.8 0a1.9 1.9 0 1 0 -3.8 0M212.11 338.65a1.9 1.9 0 1 0 3.8 0a1.9 1.9 0 1 0 -3.8 0M212.87 338.65a1.9 1.9 0 1 0 3.8 0a1.9 1.9 0 1 0 -3.8 0M213.63 338.65a1.9 1.9 0 1 0 3.8 0a1.9 1.9 0 1 0 -3.8 0M214.38 338.65a1.9 1.9 0 1 0 3.8 0a1.9 1.9 0 1 0 -3.8 0M215.14 338.65a1.9 1.9 0 1 0 3.8 0a1.9 1.9 0 1 0 -3.8 0M215.9 338.65a1.9 1.9 0 1 0 3.8 0a1.9 1.9 0 1 0 -3.8 0M216.66 338.65a1.9 1.9 0 1 0 3.8 0a1.9 1.9 0 1 0 -3.8 0M217.42 338.65a1.9 1.9 0 1 0 3.8 0a1.9 1.9 0 1 0 -3.8 0M218.17 338.65a1.9 1.9 0 1 0 3.8 0a1.9 1.9 0 1 0 -3.8 0M218.93 338.65a1.9 1.9 0 1 0 3.8 0a1.9 1.9 0 1 0 -3.8 0M219.69 338.65a1.9 1.9 0 1 0 3.8 0a1.9 1.9 0 1 0 -3.8 0M220.45 338.65a1.9 1.9 0 1 0 3.8 0a1.9 1.9 0 1 0 -3.8 0M221.2 338.65a1.9 1.9 0 1 0 3.8 0a1.9 1.9 0 1 0 -3.8 0M221.96 338.65a1.9 1.9 0 1 0 3.8 0a1.9 1.9 0 1 0 -3.8 0M222.72 338.65a1.9 1.9 0 1 0 3.8 0a1.9 1.9 0 1 0 -3.8 0M223.48 338.65a1.9 1.9 0 1 0 3.8 0a1.9 1.9 0 1 0 -3.8 0M224.24 338.65a1.9 1.9 0 1 0 3.8 0a1.9 1.9 0 1 0 -3.8 0M224.99 338.65a1.9 1.9 0 1 0 3.8 0a1.9 1.9 0 1 0 -3.8 0M225.75 338.66a1.9 1.9 0 1 0 3.8 0a1.9 1.9 0 1 0 -3.8 0M226.51 338.66a1.9 1.9 0 1 0 3.8 0a1.9 1.9 0 1 0 -3.8 0M227.27 338.66a1.9 1.9 0 1 0 3.8 0a1.9 1.9 0 1 0 -3.8 0M228.03 338.66a1.9 1.9 0 1 0 3.8 0a1.9 1.9 0 1 0 -3.8 0M228.78 338.66a1.9 1.9 0 1 0 3.8 0a1.9 1.9 0 1 0 -3.8 0M229.54 338.66a1.9 1.9 0 1 0 3.8 0a1.9 1.9 0 1 0 -3.8 0M230.3 338.66a1.9 1.9 0 1 0 3.8 0a1.9 1.9 0 1 0 -3.8 0M231.06 338.66a1.9 1.9 0 1 0 3.8 0a1.9 1.9 0 1 0 -3.8 0M231.81 338.66a1.9 1.9 0 1 0 3.8 0a1.9 1.9 0 1 0 -3.8 0M232.57 338.66a1.9 1.9 0 1 0 3.8 0a1.9 1.9 0 1 0 -3.8 0M233.33 338.66a1.9 1.9 0 1 0 3.8 0a1.9 1.9 0 1 0 -3.8 0M234.09 338.66a1.9 1.9 0 1 0 3.8 0a1.9 1.9 0 1 0 -3.8 0M234.85 338.66a1.9 1.9 0 1 0 3.8 0a1.9 1.9 0 1 0 -3.8 0M235.6 338.66a1.9 1.9 0 1 0 3.8 0a1.9 1.9 0 1 0 -3.8 0M236.36 338.66a1.9 1.9 0 1 0 3.8 0a1.9 1.9 0 1 0 -3.8 0M237.12 338.66a1.9 1.9 0 1 0 3.8 0a1.9 1.9 0 1 0 -3.8 0M237.88 338.66a1.9 1.9 0 1 0 3.8 0a1.9 1.9 0 1 0 -3.8 0M238.63 338.66a1.9 1.9 0 1 0 3.8 0a1.9 1.9 0 1 0 -3.8 0M239.39 338.66a1.9 1.9 0 1 0 3.8 0a1.9 1.9 0 1 0 -3.8 0M240.15 338.66a1.9 1.9 0 1 0 3.8 0a1.9 1.9 0 1 0 -3.8 0M240.91 338.66a1.9 1.9 0 1 0 3.8 0a1.9 1.9 0 1 0 -3.8 0M241.67 338.66a1.9 1.9 0 1 0 3.8 0a1.9 1.9 0 1 0 -3.8 0M242.42 338.66a1.9 1.9 0 1 0 3.8 0a1.9 1.9 0 1 0 -3.8 0M243.18 338.67a1.9 1.9 0 1 0 3.8 0a1.9 1.9 0 1 0 -3.8 0M243.94 338.67a1.9 1.9 0 1 0 3.8 0a1.9 1.9 0 1 0 -3.8 0M244.7 338.67a1.9 1.9 0 1 0 3.8 0a1.9 1.9 0 1 0 -3.8 0M245.45 338.67a1.9 1.9 0 1 0 3.8 0a1.9 1.9 0 1 0 -3.8 0M246.21 338.67a1.9 1.9 0 1 0 3.8 0a1.9 1.9 0 1 0 -3.8 0M246.97 338.67a1.9 1.9 0 1 0 3.8 0a1.9 1.9 0 1 0 -3.8 0M247.73 338.67a1.9 1.9 0 1 0 3.8 0a1.9 1.9 0 1 0 -3.8 0M248.49 338.67a1.9 1.9 0 1 0 3.8 0a1.9 1.9 0 1 0 -3.8 0M249.24 338.67a1.9 1.9 0 1 0 3.8 0a1.9 1.9 0 1 0 -3.8 0M250 338.67a1.9 1.9 0 1 0 3.8 0a1.9 1.9 0 1 0 -3.8 0M250.76 338.67a1.9 1.9 0 1 0 3.8 0a1.9 1.9 0 1 0 -3.8 0M251.52 338.67a1.9 1.9 0 1 0 3.8 0a1.9 1.9 0 1 0 -3.8 0M252.27 338.67a1.9 1.9 0 1 0 3.8 0a1.9 1.9 0 1 0 -3.8 0M253.03 338.67a1.9 1.9 0 1 0 3.8 0a1.9 1.9 0 1 0 -3.8 0M253.79 338.68a1.9 1.9 0 1 0 3.8 0a1.9 1.9 0 1 0 -3.8 0M254.55 338.68a1.9 1.9 0 1 0 3.8 0a1.9 1.9 0 1 0 -3.8 0M255.31 338.68a1.9 1.9 0 1 0 3.8 0a1.9 1.9 0 1 0 -3.8 0M256.06 338.68a1.9 1.9 0 1 0 3.8 0a1.9 1.9 0 1 0 -3.8 0M256.82 338.68a1.9 1.9 0 1 0 3.8 0a1.9 1.9 0 1 0 -3.8 0M257.58 338.68a1.9 1.9 0 1 0 3.8 0a1.9 1.9 0 1 0 -3.8 0M258.34 338.68a1.9 1.9 0 1 0 3.8 0a1.9 1.9 0 1 0 -3.8 0M259.1 338.68a1.9 1.9 0 1 0 3.8 0a1.9 1.9 0 1 0 -3.8 0M259.85 338.68a1.9 1.9 0 1 0 3.8 0a1.9 1.9 0 1 0 -3.8 0M260.61 338.68a1.9 1.9 0 1 0 3.8 0a1.9 1.9 0 1 0 -3.8 0M261.37 338.68a1.9 1.9 0 1 0 3.8 0a1.9 1.9 0 1 0 -3.8 0M262.13 338.68a1.9 1.9 0 1 0 3.8 0a1.9 1.9 0 1 0 -3.8 0M262.88 338.69a1.9 1.9 0 1 0 3.8 0a1.9 1.9 0 1 0 -3.8 0M263.64 338.69a1.9 1.9 0 1 0 3.8 0a1.9 1.9 0 1 0 -3.8 0M264.4 338.69a1.9 1.9 0 1 0 3.8 0a1.9 1.9 0 1 0 -3.8 0M265.16 338.69a1.9 1.9 0 1 0 3.8 0a1.9 1.9 0 1 0 -3.8 0M265.92 338.69a1.9 1.9 0 1 0 3.8 0a1.9 1.9 0 1 0 -3.8 0M266.67 338.69a1.9 1.9 0 1 0 3.8 0a1.9 1.9 0 1 0 -3.8 0M267.43 338.69a1.9 1.9 0 1 0 3.8 0a1.9 1.9 0 1 0 -3.8 0M268.19 338.69a1.9 1.9 0 1 0 3.8 0a1.9 1.9 0 1 0 -3.8 0M268.95 338.69a1.9 1.9 0 1 0 3.8 0a1.9 1.9 0 1 0 -3.8 0M269.7 338.69a1.9 1.9 0 1 0 3.8 0a1.9 1.9 0 1 0 -3.8 0M270.46 338.7a1.9 1.9 0 1 0 3.8 0a1.9 1.9 0 1 0 -3.8 0M271.22 338.7a1.9 1.9 0 1 0 3.8 0a1.9 1.9 0 1 0 -3.8 0M271.98 338.7a1.9 1.9 0 1 0 3.8 0a1.9 1.9 0 1 0 -3.8 0M272.74 338.7a1.9 1.9 0 1 0 3.8 0a1.9 1.9 0 1 0 -3.8 0M273.49 338.7a1.9 1.9 0 1 0 3.8 0a1.9 1.9 0 1 0 -3.8 0M274.25 338.7a1.9 1.9 0 1 0 3.8 0a1.9 1.9 0 1 0 -3.8 0M275.01 338.7a1.9 1.9 0 1 0 3.8 0a1.9 1.9 0 1 0 -3.8 0M275.77 338.7a1.9 1.9 0 1 0 3.8 0a1.9 1.9 0 1 0 -3.8 0M276.52 338.71a1.9 1.9 0 1 0 3.8 0a1.9 1.9 0 1 0 -3.8 0M277.28 338.71a1.9 1.9 0 1 0 3.8 0a1.9 1.9 0 1 0 -3.8 0M278.04 338.71a1.9 1.9 0 1 0 3.8 0a1.9 1.9 0 1 0 -3.8 0M278.8 338.71a1.9 1.9 0 1 0 3.8 0a1.9 1.9 0 1 0 -3.8 0M279.56 338.71a1.9 1.9 0 1 0 3.8 0a1.9 1.9 0 1 0 -3.8 0M280.31 338.71a1.9 1.9 0 1 0 3.8 0a1.9 1.9 0 1 0 -3.8 0M281.07 338.71a1.9 1.9 0 1 0 3.8 0a1.9 1.9 0 1 0 -3.8 0M281.83 338.72a1.9 1.9 0 1 0 3.8 0a1.9 1.9 0 1 0 -3.8 0M282.59 338.72a1.9 1.9 0 1 0 3.8 0a1.9 1.9 0 1 0 -3.8 0M283.34 338.72a1.9 1.9 0 1 0 3.8 0a1.9 1.9 0 1 0 -3.8 0M284.1 338.72a1.9 1.9 0 1 0 3.8 0a1.9 1.9 0 1 0 -3.8 0M284.86 338.72a1.9 1.9 0 1 0 3.8 0a1.9 1.9 0 1 0 -3.8 0M285.62 338.72a1.9 1.9 0 1 0 3.8 0a1.9 1.9 0 1 0 -3.8 0M286.38 338.72a1.9 1.9 0 1 0 3.8 0a1.9 1.9 0 1 0 -3.8 0M287.13 338.73a1.9 1.9 0 1 0 3.8 0a1.9 1.9 0 1 0 -3.8 0M287.89 338.73a1.9 1.9 0 1 0 3.8 0a1.9 1.9 0 1 0 -3.8 0M288.65 338.73a1.9 1.9 0 1 0 3.8 0a1.9 1.9 0 1 0 -3.8 0M289.41 338.73a1.9 1.9 0 1 0 3.8 0a1.9 1.9 0 1 0 -3.8 0M290.16 338.73a1.9 1.9 0 1 0 3.8 0a1.9 1.9 0 1 0 -3.8 0M290.92 338.73a1.9 1.9 0 1 0 3.8 0a1.9 1.9 0 1 0 -3.8 0M291.68 338.74a1.9 1.9 0 1 0 3.8 0a1.9 1.9 0 1 0 -3.8 0M292.44 338.74a1.9 1.9 0 1 0 3.8 0a1.9 1.9 0 1 0 -3.8 0M293.2 338.74a1.9 1.9 0 1 0 3.8 0a1.9 1.9 0 1 0 -3.8 0M293.95 338.74a1.9 1.9 0 1 0 3.8 0a1.9 1.9 0 1 0 -3.8 0M294.71 338.74a1.9 1.9 0 1 0 3.8 0a1.9 1.9 0 1 0 -3.8 0M295.47 338.74a1.9 1.9 0 1 0 3.8 0a1.9 1.9 0 1 0 -3.8 0M296.23 338.75a1.9 1.9 0 1 0 3.8 0a1.9 1.9 0 1 0 -3.8 0M296.99 338.75a1.9 1.9 0 1 0 3.8 0a1.9 1.9 0 1 0 -3.8 0M297.74 338.75a1.9 1.9 0 1 0 3.8 0a1.9 1.9 0 1 0 -3.8 0M298.5 338.75a1.9 1.9 0 1 0 3.8 0a1.9 1.9 0 1 0 -3.8 0M299.26 338.75a1.9 1.9 0 1 0 3.8 0a1.9 1.9 0 1 0 -3.8 0M300.02 338.76a1.9 1.9 0 1 0 3.8 0a1.9 1.9 0 1 0 -3.8 0M300.77 338.76a1.9 1.9 0 1 0 3.8 0a1.9 1.9 0 1 0 -3.8 0M301.53 338.77a1.9 1.9 0 1 0 3.8 0a1.9 1.9 0 1 0 -3.8 0M302.29 338.78a1.9 1.9 0 1 0 3.8 0a1.9 1.9 0 1 0 -3.8 0M303.05 338.79a1.9 1.9 0 1 0 3.8 0a1.9 1.9 0 1 0 -3.8 0M303.81 338.8a1.9 1.9 0 1 0 3.8 0a1.9 1.9 0 1 0 -3.8 0M304.56 338.81a1.9 1.9 0 1 0 3.8 0a1.9 1.9 0 1 0 -3.8 0M305.32 338.82a1.9 1.9 0 1 0 3.8 0a1.9 1.9 0 1 0 -3.8 0M306.08 338.83a1.9 1.9 0 1 0 3.8 0a1.9 1.9 0 1 0 -3.8 0M306.84 338.85a1.9 1.9 0 1 0 3.8 0a1.9 1.9 0 1 0 -3.8 0M307.59 338.87a1.9 1.9 0 1 0 3.8 0a1.9 1.9 0 1 0 -3.8 0M308.35 338.88a1.9 1.9 0 1 0 3.8 0a1.9 1.9 0 1 0 -3.8 0M309.11 338.9a1.9 1.9 0 1 0 3.8 0a1.9 1.9 0 1 0 -3.8 0M309.87 338.93a1.9 1.9 0 1 0 3.8 0a1.9 1.9 0 1 0 -3.8 0M310.63 338.95a1.9 1.9 0 1 0 3.8 0a1.9 1.9 0 1 0 -3.8 0M311.38 338.97a1.9 1.9 0 1 0 3.8 0a1.9 1.9 0 1 0 -3.8 0M312.14 339a1.9 1.9 0 1 0 3.8 0a1.9 1.9 0 1 0 -3.8 0M312.9 339.03a1.9 1.9 0 1 0 3.8 0a1.9 1.9 0 1 0 -3.8 0M313.66 339.06a1.9 1.9 0 1 0 3.8 0a1.9 1.9 0 1 0 -3.8 0M314.41 339.09a1.9 1.9 0 1 0 3.8 0a1.9 1.9 0 1 0 -3.8 0M315.17 339.12a1.9 1.9 0 1 0 3.8 0a1.9 1.9 0 1 0 -3.8 0M315.93 339.16a1.9 1.9 0 1 0 3.8 0a1.9 1.9 0 1 0 -3.8 0M316.69 339.23a1.9 1.9 0 1 0 3.8 0a1.9 1.9 0 1 0 -3.8 0M317.45 339.35a1.9 1.9 0 1 0 3.8 0a1.9 1.9 0 1 0 -3.8 0M318.2 339.47a1.9 1.9 0 1 0 3.8 0a1.9 1.9 0 1 0 -3.8 0M318.96 339.59a1.9 1.9 0 1 0 3.8 0a1.9 1.9 0 1 0 -3.8 0M319.72 339.71a1.9 1.9 0 1 0 3.8 0a1.9 1.9 0 1 0 -3.8 0M320.48 339.84a1.9 1.9 0 1 0 3.8 0a1.9 1.9 0 1 0 -3.8 0M321.23 339.98a1.9 1.9 0 1 0 3.8 0a1.9 1.9 0 1 0 -3.8 0M321.99 340.13a1.9 1.9 0 1 0 3.8 0a1.9 1.9 0 1 0 -3.8 0M322.75 340.28a1.9 1.9 0 1 0 3.8 0a1.9 1.9 0 1 0 -3.8 0M323.51 340.44a1.9 1.9 0 1 0 3.8 0a1.9 1.9 0 1 0 -3.8 0M324.27 340.61a1.9 1.9 0 1 0 3.8 0a1.9 1.9 0 1 0 -3.8 0M325.02 340.8a1.9 1.9 0 1 0 3.8 0a1.9 1.9 0 1 0 -3.8 0M325.78 340.99a1.9 1.9 0 1 0 3.8 0a1.9 1.9 0 1 0 -3.8 0M326.54 341.2a1.9 1.9 0 1 0 3.8 0a1.9 1.9 0 1 0 -3.8 0M327.3 341.42a1.9 1.9 0 1 0 3.8 0a1.9 1.9 0 1 0 -3.8 0M328.05 341.67a1.9 1.9 0 1 0 3.8 0a1.9 1.9 0 1 0 -3.8 0M328.81 341.95a1.9 1.9 0 1 0 3.8 0a1.9 1.9 0 1 0 -3.8 0M329.57 342.27a1.9 1.9 0 1 0 3.8 0a1.9 1.9 0 1 0 -3.8 0M330.33 342.62a1.9 1.9 0 1 0 3.8 0a1.9 1.9 0 1 0 -3.8 0M331.09 343a1.9 1.9 0 1 0 3.8 0a1.9 1.9 0 1 0 -3.8 0M331.84 343.41a1.9 1.9 0 1 0 3.8 0a1.9 1.9 0 1 0 -3.8 0M332.6 343.82a1.9 1.9 0 1 0 3.8 0a1.9 1.9 0 1 0 -3.8 0M333.36 344.26a1.9 1.9 0 1 0 3.8 0a1.9 1.9 0 1 0 -3.8 0M334.12 344.7a1.9 1.9 0 1 0 3.8 0a1.9 1.9 0 1 0 -3.8 0M334.88 345.15a1.9 1.9 0 1 0 3.8 0a1.9 1.9 0 1 0 -3.8 0M335.63 345.59a1.9 1.9 0 1 0 3.8 0a1.9 1.9 0 1 0 -3.8 0M336.39 346.03a1.9 1.9 0 1 0 3.8 0a1.9 1.9 0 1 0 -3.8 0M337.15 346.47a1.9 1.9 0 1 0 3.8 0a1.9 1.9 0 1 0 -3.8 0M337.91 346.92a1.9 1.9 0 1 0 3.8 0a1.9 1.9 0 1 0 -3.8 0M338.66 347.37a1.9 1.9 0 1 0 3.8 0a1.9 1.9 0 1 0 -3.8 0M339.42 347.83a1.9 1.9 0 1 0 3.8 0a1.9 1.9 0 1 0 -3.8 0M340.18 348.3a1.9 1.9 0 1 0 3.8 0a1.9 1.9 0 1 0 -3.8 0M340.94 348.78a1.9 1.9 0 1 0 3.8 0a1.9 1.9 0 1 0 -3.8 0M341.7 349.28a1.9 1.9 0 1 0 3.8 0a1.9 1.9 0 1 0 -3.8 0M342.45 349.78a1.9 1.9 0 1 0 3.8 0a1.9 1.9 0 1 0 -3.8 0M343.21 350.3a1.9 1.9 0 1 0 3.8 0a1.9 1.9 0 1 0 -3.8 0M343.97 350.83a1.9 1.9 0 1 0 3.8 0a1.9 1.9 0 1 0 -3.8 0M344.73 351.38a1.9 1.9 0 1 0 3.8 0a1.9 1.9 0 1 0 -3.8 0M345.48 351.94a1.9 1.9 0 1 0 3.8 0a1.9 1.9 0 1 0 -3.8 0M346.24 352.52a1.9 1.9 0 1 0 3.8 0a1.9 1.9 0 1 0 -3.8 0M347 353.12a1.9 1.9 0 1 0 3.8 0a1.9 1.9 0 1 0 -3.8 0M347.76 353.74a1.9 1.9 0 1 0 3.8 0a1.9 1.9 0 1 0 -3.8 0M348.52 354.38a1.9 1.9 0 1 0 3.8 0a1.9 1.9 0 1 0 -3.8 0M349.27 355.03a1.9 1.9 0 1 0 3.8 0a1.9 1.9 0 1 0 -3.8 0M350.03 355.71a1.9 1.9 0 1 0 3.8 0a1.9 1.9 0 1 0 -3.8 0M350.79 356.4a1.9 1.9 0 1 0 3.8 0a1.9 1.9 0 1 0 -3.8 0M351.55 357.11a1.9 1.9 0 1 0 3.8 0a1.9 1.9 0 1 0 -3.8 0M352.3 357.84a1.9 1.9 0 1 0 3.8 0a1.9 1.9 0 1 0 -3.8 0M353.06 358.58a1.9 1.9 0 1 0 3.8 0a1.9 1.9 0 1 0 -3.8 0M353.82 359.34a1.9 1.9 0 1 0 3.8 0a1.9 1.9 0 1 0 -3.8 0M354.58 360.12a1.9 1.9 0 1 0 3.8 0a1.9 1.9 0 1 0 -3.8 0M355.34 360.9a1.9 1.9 0 1 0 3.8 0a1.9 1.9 0 1 0 -3.8 0M356.09 361.72a1.9 1.9 0 1 0 3.8 0a1.9 1.9 0 1 0 -3.8 0M356.85 362.55a1.9 1.9 0 1 0 3.8 0a1.9 1.9 0 1 0 -3.8 0M357.61 363.42a1.9 1.9 0 1 0 3.8 0a1.9 1.9 0 1 0 -3.8 0M358.37 364.31a1.9 1.9 0 1 0 3.8 0a1.9 1.9 0 1 0 -3.8 0M359.12 365.22a1.9 1.9 0 1 0 3.8 0a1.9 1.9 0 1 0 -3.8 0M359.88 366.15a1.9 1.9 0 1 0 3.8 0a1.9 1.9 0 1 0 -3.8 0M360.64 367.11a1.9 1.9 0 1 0 3.8 0a1.9 1.9 0 1 0 -3.8 0M361.4 368.08a1.9 1.9 0 1 0 3.8 0a1.9 1.9 0 1 0 -3.8 0M362.16 369.07a1.9 1.9 0 1 0 3.8 0a1.9 1.9 0 1 0 -3.8 0M362.91 370.09a1.9 1.9 0 1 0 3.8 0a1.9 1.9 0 1 0 -3.8 0M363.67 371.12a1.9 1.9 0 1 0 3.8 0a1.9 1.9 0 1 0 -3.8 0M364.43 372.18a1.9 1.9 0 1 0 3.8 0a1.9 1.9 0 1 0 -3.8 0M365.19 373.27a1.9 1.9 0 1 0 3.8 0a1.9 1.9 0 1 0 -3.8 0M365.94 374.39a1.9 1.9 0 1 0 3.8 0a1.9 1.9 0 1 0 -3.8 0M366.7 375.54a1.9 1.9 0 1 0 3.8 0a1.9 1.9 0 1 0 -3.8 0M367.46 376.72a1.9 1.9 0 1 0 3.8 0a1.9 1.9 0 1 0 -3.8 0M368.22 377.93a1.9 1.9 0 1 0 3.8 0a1.9 1.9 0 1 0 -3.8 0M368.98 379.17a1.9 1.9 0 1 0 3.8 0a1.9 1.9 0 1 0 -3.8 0M369.73 380.44a1.9 1.9 0 1 0 3.8 0a1.9 1.9 0 1 0 -3.8 0M370.49 381.76a1.9 1.9 0 1 0 3.8 0a1.9 1.9 0 1 0 -3.8 0M371.25 383.12a1.9 1.9 0 1 0 3.8 0a1.9 1.9 0 1 0 -3.8 0M372.01 384.52a1.9 1.9 0 1 0 3.8 0a1.9 1.9 0 1 0 -3.8 0M372.76 385.96a1.9 1.9 0 1 0 3.8 0a1.9 1.9 0 1 0 -3.8 0M373.52 387.43a1.9 1.9 0 1 0 3.8 0a1.9 1.9 0 1 0 -3.8 0M378.07 338.65a1.9 1.9 0 1 0 3.8 0a1.9 1.9 0 1 0 -3.8 0M378.83 338.65a1.9 1.9 0 1 0 3.8 0a1.9 1.9 0 1 0 -3.8 0M379.59 338.65a1.9 1.9 0 1 0 3.8 0a1.9 1.9 0 1 0 -3.8 0M380.34 338.65a1.9 1.9 0 1 0 3.8 0a1.9 1.9 0 1 0 -3.8 0M381.1 338.65a1.9 1.9 0 1 0 3.8 0a1.9 1.9 0 1 0 -3.8 0M381.86 338.65a1.9 1.9 0 1 0 3.8 0a1.9 1.9 0 1 0 -3.8 0M382.62 338.65a1.9 1.9 0 1 0 3.8 0a1.9 1.9 0 1 0 -3.8 0M383.37 338.65a1.9 1.9 0 1 0 3.8 0a1.9 1.9 0 1 0 -3.8 0M384.13 338.65a1.9 1.9 0 1 0 3.8 0a1.9 1.9 0 1 0 -3.8 0M384.89 338.65a1.9 1.9 0 1 0 3.8 0a1.9 1.9 0 1 0 -3.8 0M385.65 338.65a1.9 1.9 0 1 0 3.8 0a1.9 1.9 0 1 0 -3.8 0M386.41 338.65a1.9 1.9 0 1 0 3.8 0a1.9 1.9 0 1 0 -3.8 0M387.16 338.65a1.9 1.9 0 1 0 3.8 0a1.9 1.9 0 1 0 -3.8 0M387.92 338.65a1.9 1.9 0 1 0 3.8 0a1.9 1.9 0 1 0 -3.8 0M388.68 338.65a1.9 1.9 0 1 0 3.8 0a1.9 1.9 0 1 0 -3.8 0M389.44 338.65a1.9 1.9 0 1 0 3.8 0a1.9 1.9 0 1 0 -3.8 0M390.19 338.65a1.9 1.9 0 1 0 3.8 0a1.9 1.9 0 1 0 -3.8 0M390.95 338.65a1.9 1.9 0 1 0 3.8 0a1.9 1.9 0 1 0 -3.8 0M391.71 338.65a1.9 1.9 0 1 0 3.8 0a1.9 1.9 0 1 0 -3.8 0M392.47 338.65a1.9 1.9 0 1 0 3.8 0a1.9 1.9 0 1 0 -3.8 0M393.23 338.65a1.9 1.9 0 1 0 3.8 0a1.9 1.9 0 1 0 -3.8 0M393.98 338.65a1.9 1.9 0 1 0 3.8 0a1.9 1.9 0 1 0 -3.8 0M394.74 338.65a1.9 1.9 0 1 0 3.8 0a1.9 1.9 0 1 0 -3.8 0M395.5 338.65a1.9 1.9 0 1 0 3.8 0a1.9 1.9 0 1 0 -3.8 0M376.3 345a1.9 1.9 0 1 0 3.8 0a1.9 1.9 0 1 0 -3.8 0M375.6 359.5a1.9 1.9 0 1 0 3.8 0a1.9 1.9 0 1 0 -3.8 0M374.8 374.7a1.9 1.9 0 1 0 3.8 0a1.9 1.9 0 1 0 -3.8 0" stroke="#D95319" stroke-width="1.0" fill="none"/>
<path d="M51.15 337.24l2.9 2.9M51.15 340.14l2.9 -2.9M51.91 337.42l2.9 2.9M51.91 340.32l2.9 -2.9M52.67 337.41l2.9 2.9M52.67 340.31l2.9 -2.9M53.42 337.46l2.9 2.9M53.42 340.36l2.9 -2.9M54.18 337.1l2.9 2.9M54.18 340l2.9 -2.9M54.94 337.23l2.9 2.9M54.94 340.13l2.9 -2.9M55.7 337.62l2.9 2.9M55.7 340.52l2.9 -2.9M56.45 337.1l2.9 2.9M56.45 340l2.9 -2.9M57.21 337.22l2.9 2.9M57.21 340.12l2.9 -2.9M57.97 337.36l2.9 2.9M57.97 340.26l2.9 -2.9M58.73 337.62l2.9 2.9M58.73 340.52l2.9 -2.9M59.49 337.6l2.9 2.9M59.49 340.5l2.9 -2.9M60.24 337.33l2.9 2.9M60.24 340.23l2.9 -2.9M61 337.25l2.9 2.9M61 340.15l2.9 -2.9M61.76 337.6l2.9 2.9M61.76 340.5l2.9 -2.9M62.52 337.81l2.9 2.9M62.52 340.71l2.9 -2.9M63.27 337.68l2.9 2.9M63.27 340.58l2.9 -2.9M64.03 337.59l2.9 2.9M64.03 340.49l2.9 -2.9M64.79 337.36l2.9 2.9M64.79 340.26l2.9 -2.9M65.55 337.61l2.9 2.9M65.55 340.51l2.9 -2.9M66.31 337.2l2.9 2.9M66.31 340.1l2.9 -2.9M67.06 337.49l2.9 2.9M67.06 340.39l2.9 -2.9M67.82 337.64l2.9 2.9M67.82 340.54l2.9 -2.9M68.58 337.54l2.9 2.9M68.58 340.44l2.9 -2.9M69.34 337.33l2.9 2.9M69.34 340.23l2.9 -2.9M70.09 337.37l2.9 2.9M70.09 340.27l2.9 -2.9M70.85 337.49l2.9 2.9M70.85 340.39l2.9 -2.9M71.61 337.35l2.9 2.9M71.61 340.25l2.9 -2.9M72.37 337.11l2.9 2.9M72.37 340.01l2.9 -2.9M73.13 337.5l2.9 2.9M73.13 340.4l2.9 -2.9M73.88 337.3l2.9 2.9M73.88 340.2l2.9 -2.9M74.64 337.53l2.9 2.9M74.64 340.43l2.9 -2.9M75.4 337.66l2.9 2.9M75.4 340.56l2.9 -2.9M76.16 337.8l2.9 2.9M76.16 340.7l2.9 -2.9M76.92 337.57l2.9 2.9M76.92 340.47l2.9 -2.9M77.67 337.43l2.9 2.9M77.67 340.33l2.9 -2.9M78.43 337.23l2.9 2.9M78.43 340.13l2.9 -2.9M79.19 337.22l2.9 2.9M79.19 340.12l2.9 -2.9M79.95 337.06l2.9 2.9M79.95 339.96l2.9 -2.9M80.7 337.61l2.9 2.9M80.7 340.51l2.9 -2.9M81.46 337.15l2.9 2.9M81.46 340.05l2.9 -2.9M82.22 337.67l2.9 2.9M82.22 340.57l2.9 -2.9M82.98 337.99l2.9 2.9M82.98 340.89l2.9 -2.9M83.74 337.32l2.9 2.9M83.74 340.22l2.9 -2.9M84.49 337.03l2.9 2.9M84.49 339.93l2.9 -2.9M85.25 337.64l2.9 2.9M85.25 340.54l2.9 -2.9M86.01 337.11l2.9 2.9M86.01 340.01l2.9 -2.9M86.77 337.36l2.9 2.9M86.77 340.26l2.9 -2.9M87.52 337.22l2.9 2.9M87.52 340.12l2.9 -2.9M88.28 337.38l2.9 2.9M88.28 340.28l2.9 -2.9M89.04 337.37l2.9 2.9M89.04 340.27l2.9 -2.9M89.8 337.15l2.9 2.9M89.8 340.05l2.9 -2.9M90.56 337.52l2.9 2.9M90.56 340.42l2.9 -2.9M91.31 337.26l2.9 2.9M91.31 340.16l2.9 -2.9M92.07 337.44l2.9 2.9M92.07 340.34l2.9 -2.9M92.83 337.15l2.9 2.9M92.83 340.05l2.9 -2.9M93.59 337.22l2.9 2.9M93.59 340.12l2.9 -2.9M94.34 337.27l2.9 2.9M94.34 340.17l2.9 -2.9M95.1 337.38l2.9 2.9M95.1 340.28l2.9 -2.9M95.86 337.4l2.9 2.9M95.86 340.3l2.9 -2.9M96.62 337.27l2.9 2.9M96.62 340.17l2.9 -2.9M97.38 337.27l2.9 2.9M97.38 340.17l2.9 -2.9M98.13 337.67l2.9 2.9M98.13 340.57l2.9 -2.9M98.89 337.18l2.9 2.9M98.89 340.08l2.9 -2.9M99.65 337.48l2.9 2.9M99.65 340.38l2.9 -2.9M100.41 337.56l2.9 2.9M100.41 340.46l2.9 -2.9M101.16 337.56l2.9 2.9M101.16 340.46l2.9 -2.9M101.92 337.54l2.9 2.9M101.92 340.44l2.9 -2.9M102.68 338l2.9 2.9M102.68 340.9l2.9 -2.9M103.44 337.85l2.9 2.9M103.44 340.75l2.9 -2.9M104.2 337.32l2.9 2.9M104.2 340.22l2.9 -2.9M104.95 337.9l2.9 2.9M104.95 340.8l2.9 -2.9M105.71 337.28l2.9 2.9M105.71 340.18l2.9 -2.9M106.47 337.65l2.9 2.9M106.47 340.55l2.9 -2.9M107.23 337.79l2.9 2.9M107.23 340.69l2.9 -2.9M107.98 337.19l2.9 2.9M107.98 340.09l2.9 -2.9M108.74 337.39l2.9 2.9M108.74 340.29l2.9 -2.9M109.5 337.5l2.9 2.9M109.5 340.4l2.9 -2.9M110.26 337.64l2.9 2.9M110.26 340.54l2.9 -2.9M111.02 337.23l2.9 2.9M111.02 340.13l2.9 -2.9M111.77 337.45l2.9 2.9M111.77 340.35l2.9 -2.9M112.53 337.18l2.9 2.9M112.53 340.08l2.9 -2.9M113.29 336.9l2.9 2.9M113.29 339.8l2.9 -2.9M114.05 337.36l2.9 2.9M114.05 340.26l2.9 -2.9M114.81 337.63l2.9 2.9M114.81 340.53l2.9 -2.9M115.56 337.65l2.9 2.9M115.56 340.55l2.9 -2.9M116.32 337.21l2.9 2.9M116.32 340.11l2.9 -2.9M117.08 337.53l2.9 2.9M117.08 340.43l2.9 -2.9M117.84 337.6l2.9 2.9M117.84 340.5l2.9 -2.9M118.59 337.37l2.9 2.9M118.59 340.27l2.9 -2.9M119.35 337.02l2.9 2.9M119.35 339.92l2.9 -2.9M120.11 337.6l2.9 2.9M120.11 340.5l2.9 -2.9M120.87 336.95l2.9 2.9M120.87 339.85l2.9 -2.9M121.63 337.23l2.9 2.9M121.63 340.13l2.9 -2.9M122.38 337.26l2.9 2.9M122.38 340.16l2.9 -2.9M123.14 337.3l2.9 2.9M123.14 340.2l2.9 -2.9M123.9 337.32l2.9 2.9M123.9 340.22l2.9 -2.9M124.66 337.83l2.9 2.9M124.66 340.73l2.9 -2.9M125.41 337.43l2.9 2.9M125.41 340.33l2.9 -2.9M126.17 337.25l2.9 2.9M126.17 340.15l2.9 -2.9M126.93 337.75l2.9 2.9M126.93 340.65l2.9 -2.9M127.69 337.29l2.9 2.9M127.69 340.19l2.9 -2.9M128.45 337.37l2.9 2.9M128.45 340.27l2.9 -2.9M129.2 337.54l2.9 2.9M129.2 340.44l2.9 -2.9M129.96 337.29l2.9 2.9M129.96 340.19l2.9 -2.9M130.72 337.01l2.9 2.9M130.72 339.91l2.9 -2.9M131.48 337.59l2.9 2.9M131.48 340.49l2.9 -2.9M132.23 337.6l2.9 2.9M132.23 340.5l2.9 -2.9M132.99 337.42l2.9 2.9M132.99 340.32l2.9 -2.9M133.75 337.58l2.9 2.9M133.75 340.48l2.9 -2.9M134.51 337.25l2.9 2.9M134.51 340.15l2.9 -2.9M135.27 337.13l2.9 2.9M135.27 340.03l2.9 -2.9M136.02 337.48l2.9 2.9M136.02 340.38l2.9 -2.9M136.78 337.72l2.9 2.9M136.78 340.62l2.9 -2.9M137.54 337.79l2.9 2.9M137.54 340.69l2.9 -2.9M138.3 337.63l2.9 2.9M138.3 340.53l2.9 -2.9M139.05 337.37l2.9 2.9M139.05 340.27l2.9 -2.9M139.81 337.4l2.9 2.9M139.81 340.3l2.9 -2.9M140.57 337.31l2.9 2.9M140.57 340.21l2.9 -2.9M141.33 337.24l2.9 2.9M141.33 340.14l2.9 -2.9M142.09 337.62l2.9 2.9M142.09 340.52l2.9 -2.9M142.84 336.98l2.9 2.9M142.84 339.88l2.9 -2.9M143.6 337.62l2.9 2.9M143.6 340.52l2.9 -2.9M144.36 337.4l2.9 2.9M144.36 340.3l2.9 -2.9M145.12 337.22l2.9 2.9M145.12 340.12l2.9 -2.9M145.88 337.94l2.9 2.9M145.88 340.84l2.9 -2.9M146.63 337.56l2.9 2.9M146.63 340.46l2.9 -2.9M147.39 337.58l2.9 2.9M147.39 340.48l2.9 -2.9M148.15 337.7l2.9 2.9M148.15 340.6l2.9 -2.9M148.91 337.42l2.9 2.9M148.91 340.32l2.9 -2.9M149.66 337.27l2.9 2.9M149.66 340.17l2.9 -2.9M150.42 337.77l2.9 2.9M150.42 340.67l2.9 -2.9M151.18 337.41l2.9 2.9M151.18 340.31l2.9 -2.9M151.94 337.47l2.9 2.9M151.94 340.37l2.9 -2.9M152.7 337.46l2.9 2.9M152.7 340.36l2.9 -2.9M153.45 337.45l2.9 2.9M153.45 340.35l2.9 -2.9M154.21 337.08l2.9 2.9M154.21 339.98l2.9 -2.9M154.97 337.58l2.9 2.9M154.97 340.48l2.9 -2.9M155.73 337.14l2.9 2.9M155.73 340.04l2.9 -2.9M156.48 337.48l2.9 2.9M156.48 340.38l2.9 -2.9M157.24 337.02l2.9 2.9M157.24 339.92l2.9 -2.9M158 337.33l2.9 2.9M158 340.23l2.9 -2.9M158.76 337.16l2.9 2.9M158.76 340.06l2.9 -2.9M159.52 337.34l2.9 2.9M159.52 340.24l2.9 -2.9M160.27 337.42l2.9 2.9M160.27 340.32l2.9 -2.9M161.03 337.6l2.9 2.9M161.03 340.5l2.9 -2.9M161.79 337.68l2.9 2.9M161.79 340.58l2.9 -2.9M162.55 337.63l2.9 2.9M162.55 340.53l2.9 -2.9M163.3 337.56l2.9 2.9M163.3 340.46l2.9 -2.9M164.06 337.17l2.9 2.9M164.06 340.07l2.9 -2.9M164.82 337.33l2.9 2.9M164.82 340.23l2.9 -2.9M165.58 337.54l2.9 2.9M165.58 340.44l2.9 -2.9M166.34 337.39l2.9 2.9M166.34 340.29l2.9 -2.9M167.09 337.89l2.9 2.9M167.09 340.79l2.9 -2.9M167.85 337.82l2.9 2.9M167.85 340.72l2.9 -2.9M168.61 337.57l2.9 2.9M168.61 340.47l2.9 -2.9M169.37 337.68l2.9 2.9M169.37 340.58l2.9 -2.9M170.12 337.57l2.9 2.9M170.12 340.47l2.9 -2.9M170.88 337.2l2.9 2.9M170.88 340.1l2.9 -2.9M171.64 338.25l2.9 2.9M171.64 341.15l2.9 -2.9M172.4 337.29l2.9 2.9M172.4 340.19l2.9 -2.9M173.16 337.57l2.9 2.9M173.16 340.47l2.9 -2.9M173.91 337.67l2.9 2.9M173.91 340.57l2.9 -2.9M174.67 337.68l2.9 2.9M174.67 340.58l2.9 -2.9M175.43 337.74l2.9 2.9M175.43 340.64l2.9 -2.9M176.19 338.57l2.9 2.9M176.19 341.47l2.9 -2.9M176.94 337.46l2.9 2.9M176.94 340.36l2.9 -2.9M177.7 337.7l2.9 2.9M177.7 340.6l2.9 -2.9M178.46 337.51l2.9 2.9M178.46 340.41l2.9 -2.9M179.22 338.04l2.9 2.9M179.22 340.94l2.9 -2.9M179.98 337.22l2.9 2.9M179.98 340.12l2.9 -2.9M180.73 337.22l2.9 2.9M180.73 340.12l2.9 -2.9M181.49 338.13l2.9 2.9M181.49 341.03l2.9 -2.9M182.25 337.09l2.9 2.9M182.25 339.99l2.9 -2.9M183.01 336.98l2.9 2.9M183.01 339.88l2.9 -2.9M183.76 337.32l2.9 2.9M183.76 340.22l2.9 -2.9M184.52 337.37l2.9 2.9M184.52 340.27l2.9 -2.9M185.28 337.56l2.9 2.9M185.28 340.46l2.9 -2.9M186.04 337.99l2.9 2.9M186.04 340.89l2.9 -2.9M186.8 337.48l2.9 2.9M186.8 340.38l2.9 -2.9M187.55 337.29l2.9 2.9M187.55 340.19l2.9 -2.9M188.31 337.35l2.9 2.9M188.31 340.25l2.9 -2.9M189.07 337.21l2.9 2.9M189.07 340.11l2.9 -2.9M189.83 338l2.9 2.9M189.83 340.9l2.9 -2.9M190.59 337.17l2.9 2.9M190.59 340.07l2.9 -2.9M191.34 338.38l2.9 2.9M191.34 341.28l2.9 -2.9M192.1 337.49l2.9 2.9M192.1 340.39l2.9 -2.9M192.86 337.55l2.9 2.9M192.86 340.45l2.9 -2.9M193.62 336.89l2.9 2.9M193.62 339.79l2.9 -2.9M194.37 338.28l2.9 2.9M194.37 341.18l2.9 -2.9M195.13 338.53l2.9 2.9M195.13 341.43l2.9 -2.9M195.89 339.05l2.9 2.9M195.89 341.95l2.9 -2.9M196.65 337.9l2.9 2.9M196.65 340.8l2.9 -2.9M197.41 337.54l2.9 2.9M197.41 340.44l2.9 -2.9M198.16 338.3l2.9 2.9M198.16 341.2l2.9 -2.9M198.92 337.89l2.9 2.9M198.92 340.79l2.9 -2.9M199.68 337.52l2.9 2.9M199.68 340.42l2.9 -2.9M200.44 337.75l2.9 2.9M200.44 340.65l2.9 -2.9M201.19 337.99l2.9 2.9M201.19 340.89l2.9 -2.9M201.95 337.56l2.9 2.9M201.95 340.46l2.9 -2.9M202.71 338.65l2.9 2.9M202.71 341.55l2.9 -2.9M203.47 336.85l2.9 2.9M203.47 339.75l2.9 -2.9M204.23 337.37l2.9 2.9M204.23 340.27l2.9 -2.9M204.98 337.78l2.9 2.9M204.98 340.68l2.9 -2.9M205.74 337.68l2.9 2.9M205.74 340.58l2.9 -2.9M206.5 339.39l2.9 2.9M206.5 342.29l2.9 -2.9M207.26 338.38l2.9 2.9M207.26 341.28l2.9 -2.9M208.01 337.57l2.9 2.9M208.01 340.47l2.9 -2.9M208.77 337.64l2.9 2.9M208.77 340.54l2.9 -2.9M209.53 338.8l2.9 2.9M209.53 341.7l2.9 -2.9M210.29 337.88l2.9 2.9M210.29 340.78l2.9 -2.9M211.05 338.1l2.9 2.9M211.05 341l2.9 -2.9M211.8 337.68l2.9 2.9M211.8 340.58l2.9 -2.9M212.56 338.17l2.9 2.9M212.56 341.07l2.9 -2.9M213.32 337.19l2.9 2.9M213.32 340.09l2.9 -2.9M214.08 337.84l2.9 2.9M214.08 340.74l2.9 -2.9M214.83 338.04l2.9 2.9M214.83 340.94l2.9 -2.9M215.59 337.69l2.9 2.9M215.59 340.59l2.9 -2.9M216.35 338.13l2.9 2.9M216.35 341.03l2.9 -2.9M217.11 338.1l2.9 2.9M217.11 341l2.9 -2.9M217.87 337.8l2.9 2.9M217.87 340.7l2.9 -2.9M218.62 339.31l2.9 2.9M218.62 342.21l2.9 -2.9M219.38 337.36l2.9 2.9M219.38 340.26l2.9 -2.9M220.14 336.9l2.9 2.9M220.14 339.8l2.9 -2.9M220.9 337.28l2.9 2.9M220.9 340.18l2.9 -2.9M221.66 338.92l2.9 2.9M221.66 341.82l2.9 -2.9M222.41 337.44l2.9 2.9M222.41 340.34l2.9 -2.9M223.17 337.77l2.9 2.9M223.17 340.67l2.9 -2.9M223.93 337.11l2.9 2.9M223.93 340.01l2.9 -2.9M224.69 336.9l2.9 2.9M224.69 339.8l2.9 -2.9M225.44 337.76l2.9 2.9M225.44 340.66l2.9 -2.9M226.2 338.11l2.9 2.9M226.2 341.01l2.9 -2.9M226.96 338.16l2.9 2.9M226.96 341.06l2.9 -2.9M227.72 339.28l2.9 2.9M227.72 342.18l2.9 -2.9M228.48 338.74l2.9 2.9M228.48 341.64l2.9 -2.9M229.23 338.68l2.9 2.9M229.23 341.58l2.9 -2.9M229.99 338.15l2.9 2.9M229.99 341.05l2.9 -2.9M230.75 337.81l2.9 2.9M230.75 340.71l2.9 -2.9M231.51 337.8l2.9 2.9M231.51 340.7l2.9 -2.9M232.26 337.25l2.9 2.9M232.26 340.15l2.9 -2.9M233.02 337.72l2.9 2.9M233.02 340.62l2.9 -2.9M233.78 338.72l2.9 2.9M233.78 341.62l2.9 -2.9M234.54 339.48l2.9 2.9M234.54 342.38l2.9 -2.9M235.3 337.62l2.9 2.9M235.3 340.52l2.9 -2.9M236.05 336.27l2.9 2.9M236.05 339.17l2.9 -2.9M236.81 339.13l2.9 2.9M236.81 342.03l2.9 -2.9M237.57 337.54l2.9 2.9M237.57 340.44l2.9 -2.9M238.33 337.05l2.9 2.9M238.33 339.95l2.9 -2.9M239.08 340.47l2.9 2.9M239.08 343.37l2.9 -2.9M239.84 337.7l2.9 2.9M239.84 340.6l2.9 -2.9M240.6 337.24l2.9 2.9M240.6 340.14l2.9 -2.9M241.36 337.09l2.9 2.9M241.36 339.99l2.9 -2.9M242.12 338.35l2.9 2.9M242.12 341.25l2.9 -2.9M242.87 337.17l2.9 2.9M242.87 340.07l2.9 -2.9M243.63 337.48l2.9 2.9M243.63 340.38l2.9 -2.9M244.39 338.52l2.9 2.9M244.39 341.42l2.9 -2.9M245.15 338.81l2.9 2.9M245.15 341.71l2.9 -2.9M245.9 338.73l2.9 2.9M245.9 341.63l2.9 -2.9M246.66 337.78l2.9 2.9M246.66 340.68l2.9 -2.9M247.42 338.81l2.9 2.9M247.42 341.71l2.9 -2.9M248.18 338.03l2.9 2.9M248.18 340.93l2.9 -2.9M248.94 337.39l2.9 2.9M248.94 340.29l2.9 -2.9M249.69 336.83l2.9 2.9M249.69 339.73l2.9 -2.9M250.45 337.9l2.9 2.9M250.45 340.8l2.9 -2.9M251.21 336.58l2.9 2.9M251.21 339.48l2.9 -2.9M251.97 337.73l2.9 2.9M251.97 340.63l2.9 -2.9M252.72 336.91l2.9 2.9M252.72 339.81l2.9 -2.9M253.48 337.59l2.9 2.9M253.48 340.49l2.9 -2.9M254.24 338.12l2.9 2.9M254.24 341.02l2.9 -2.9M255 338.06l2.9 2.9M255 340.96l2.9 -2.9M255.76 339.16l2.9 2.9M255.76 342.06l2.9 -2.9M256.51 336.67l2.9 2.9M256.51 339.57l2.9 -2.9M257.27 336.62l2.9 2.9M257.27 339.52l2.9 -2.9M258.03 337.57l2.9 2.9M258.03 340.47l2.9 -2.9M258.79 336.95l2.9 2.9M258.79 339.85l2.9 -2.9M259.55 338.25l2.9 2.9M259.55 341.15l2.9 -2.9M260.3 340.31l2.9 2.9M260.3 343.21l2.9 -2.9M261.06 338.97l2.9 2.9M261.06 341.87l2.9 -2.9M261.82 337.92l2.9 2.9M261.82 340.82l2.9 -2.9M262.58 338.34l2.9 2.9M262.58 341.24l2.9 -2.9M263.33 339.11l2.9 2.9M263.33 342.01l2.9 -2.9M264.09 336.34l2.9 2.9M264.09 339.24l2.9 -2.9M264.85 338.81l2.9 2.9M264.85 341.71l2.9 -2.9M265.61 339l2.9 2.9M265.61 341.9l2.9 -2.9M266.37 338.48l2.9 2.9M266.37 341.38l2.9 -2.9M267.12 338.37l2.9 2.9M267.12 341.27l2.9 -2.9M267.88 338.27l2.9 2.9M267.88 341.17l2.9 -2.9M268.64 341.62l2.9 2.9M268.64 344.52l2.9 -2.9M269.4 337.6l2.9 2.9M269.4 340.5l2.9 -2.9M270.15 336.8l2.9 2.9M270.15 339.7l2.9 -2.9M270.91 337.35l2.9 2.9M270.91 340.25l2.9 -2.9M271.67 338.32l2.9 2.9M271.67 341.22l2.9 -2.9M272.43 340.12l2.9 2.9M272.43 343.02l2.9 -2.9M273.19 337.77l2.9 2.9M273.19 340.67l2.9 -2.9M273.94 338.66l2.9 2.9M273.94 341.56l2.9 -2.9M274.7 338.14l2.9 2.9M274.7 341.04l2.9 -2.9M275.46 337.79l2.9 2.9M275.46 340.69l2.9 -2.9M276.22 339.11l2.9 2.9M276.22 342.01l2.9 -2.9M276.97 338.67l2.9 2.9M276.97 341.57l2.9 -2.9M277.73 339.16l2.9 2.9M277.73 342.06l2.9 -2.9M278.49 340.86l2.9 2.9M278.49 343.76l2.9 -2.9M279.25 338.15l2.9 2.9M279.25 341.05l2.9 -2.9M280.01 338.52l2.9 2.9M280.01 341.42l2.9 -2.9M280.76 338.87l2.9 2.9M280.76 341.77l2.9 -2.9M281.52 337.09l2.9 2.9M281.52 339.99l2.9 -2.9M282.28 338.38l2.9 2.9M282.28 341.28l2.9 -2.9M283.04 336.65l2.9 2.9M283.04 339.55l2.9 -2.9M283.79 338.35l2.9 2.9M283.79 341.25l2.9 -2.9M284.55 338.42l2.9 2.9M284.55 341.32l2.9 -2.9M285.31 338.23l2.9 2.9M285.31 341.13l2.9 -2.9M286.07 338.46l2.9 2.9M286.07 341.36l2.9 -2.9M286.83 338.82l2.9 2.9M286.83 341.72l2.9 -2.9M287.58 338.23l2.9 2.9M287.58 341.13l2.9 -2.9M288.34 338l2.9 2.9M288.34 340.9l2.9 -2.9M289.1 338.21l2.9 2.9M289.1 341.11l2.9 -2.9M289.86 337.64l2.9 2.9M289.86 340.54l2.9 -2.9M290.61 337.04l2.9 2.9M290.61 339.94l2.9 -2.9M291.37 338.56l2.9 2.9M291.37 341.46l2.9 -2.9M292.13 338.77l2.9 2.9M292.13 341.67l2.9 -2.9M292.89 338.45l2.9 2.9M292.89 341.35l2.9 -2.9M293.65 339.76l2.9 2.9M293.65 342.66l2.9 -2.9M294.4 338.44l2.9 2.9M294.4 341.34l2.9 -2.9M295.16 337.91l2.9 2.9M295.16 340.81l2.9 -2.9M295.92 337.81l2.9 2.9M295.92 340.71l2.9 -2.9M296.68 339.33l2.9 2.9M296.68 342.23l2.9 -2.9M297.44 337.95l2.9 2.9M297.44 340.85l2.9 -2.9M298.19 337.28l2.9 2.9M298.19 340.18l2.9 -2.9M298.95 338.38l2.9 2.9M298.95 341.28l2.9 -2.9M299.71 337.93l2.9 2.9M299.71 340.83l2.9 -2.9M300.47 337.29l2.9 2.9M300.47 340.19l2.9 -2.9M301.22 337.72l2.9 2.9M301.22 340.62l2.9 -2.9M301.98 337.41l2.9 2.9M301.98 340.31l2.9 -2.9M302.74 337.71l2.9 2.9M302.74 340.61l2.9 -2.9M303.5 337.78l2.9 2.9M303.5 340.68l2.9 -2.9M304.26 337.94l2.9 2.9M304.26 340.84l2.9 -2.9M305.01 338.35l2.9 2.9M305.01 341.25l2.9 -2.9M305.77 337.63l2.9 2.9M305.77 340.53l2.9 -2.9M306.53 337.35l2.9 2.9M306.53 340.25l2.9 -2.9M307.29 337.06l2.9 2.9M307.29 339.96l2.9 -2.9M308.04 337.6l2.9 2.9M308.04 340.5l2.9 -2.9M308.8 337.27l2.9 2.9M308.8 340.17l2.9 -2.9M309.56 337.53l2.9 2.9M309.56 340.43l2.9 -2.9M310.32 337.98l2.9 2.9M310.32 340.88l2.9 -2.9M311.08 338.18l2.9 2.9M311.08 341.08l2.9 -2.9M311.83 337.66l2.9 2.9M311.83 340.56l2.9 -2.9M312.59 337.66l2.9 2.9M312.59 340.56l2.9 -2.9M313.35 337.79l2.9 2.9M313.35 340.69l2.9 -2.9M314.11 337.97l2.9 2.9M314.11 340.87l2.9 -2.9M314.86 337.95l2.9 2.9M314.86 340.85l2.9 -2.9M315.62 337.97l2.9 2.9M315.62 340.87l2.9 -2.9M316.38 338.25l2.9 2.9M316.38 341.15l2.9 -2.9M317.14 338.11l2.9 2.9M317.14 341.01l2.9 -2.9M317.9 338.18l2.9 2.9M317.9 341.08l2.9 -2.9M318.65 338.59l2.9 2.9M318.65 341.49l2.9 -2.9M319.41 338.33l2.9 2.9M319.41 341.23l2.9 -2.9M320.17 339.42l2.9 2.9M320.17 342.32l2.9 -2.9M320.93 338.98l2.9 2.9M320.93 341.88l2.9 -2.9M321.68 339.22l2.9 2.9M321.68 342.12l2.9 -2.9M322.44 338.82l2.9 2.9M322.44 341.72l2.9 -2.9M323.2 339.84l2.9 2.9M323.2 342.74l2.9 -2.9M323.96 339.44l2.9 2.9M323.96 342.34l2.9 -2.9M324.72 339.29l2.9 2.9M324.72 342.19l2.9 -2.9M325.47 339.43l2.9 2.9M325.47 342.33l2.9 -2.9M326.23 339.89l2.9 2.9M326.23 342.79l2.9 -2.9M326.99 340.03l2.9 2.9M326.99 342.93l2.9 -2.9M327.75 339.99l2.9 2.9M327.75 342.89l2.9 -2.9M328.5 340.96l2.9 2.9M328.5 343.86l2.9 -2.9M329.26 341.79l2.9 2.9M329.26 344.69l2.9 -2.9M330.02 340.81l2.9 2.9M330.02 343.71l2.9 -2.9M330.78 341.57l2.9 2.9M330.78 344.47l2.9 -2.9M331.54 341.51l2.9 2.9M331.54 344.41l2.9 -2.9M332.29 342.32l2.9 2.9M332.29 345.22l2.9 -2.9M333.05 342.64l2.9 2.9M333.05 345.54l2.9 -2.9M333.81 342.81l2.9 2.9M333.81 345.71l2.9 -2.9M334.57 343.37l2.9 2.9M334.57 346.27l2.9 -2.9M335.32 343.56l2.9 2.9M335.32 346.46l2.9 -2.9M336.08 344.48l2.9 2.9M336.08 347.38l2.9 -2.9M336.84 344.94l2.9 2.9M336.84 347.84l2.9 -2.9M337.6 344.95l2.9 2.9M337.6 347.85l2.9 -2.9M338.36 346.07l2.9 2.9M338.36 348.97l2.9 -2.9M339.11 346.62l2.9 2.9M339.11 349.52l2.9 -2.9M339.87 346.59l2.9 2.9M339.87 349.49l2.9 -2.9M340.63 347.46l2.9 2.9M340.63 350.36l2.9 -2.9M341.39 347.49l2.9 2.9M341.39 350.39l2.9 -2.9M342.15 347.66l2.9 2.9M342.15 350.56l2.9 -2.9M342.9 348.84l2.9 2.9M342.9 351.74l2.9 -2.9M343.66 348.87l2.9 2.9M343.66 351.77l2.9 -2.9M344.42 349.76l2.9 2.9M344.42 352.66l2.9 -2.9M345.18 350.48l2.9 2.9M345.18 353.38l2.9 -2.9M345.93 350.31l2.9 2.9M345.93 353.21l2.9 -2.9M346.69 351.19l2.9 2.9M346.69 354.09l2.9 -2.9M347.45 351.42l2.9 2.9M347.45 354.32l2.9 -2.9M348.21 352.58l2.9 2.9M348.21 355.48l2.9 -2.9M348.97 352.95l2.9 2.9M348.97 355.85l2.9 -2.9M349.72 353.61l2.9 2.9M349.72 356.51l2.9 -2.9M350.48 355.07l2.9 2.9M350.48 357.97l2.9 -2.9M351.24 355.24l2.9 2.9M351.24 358.14l2.9 -2.9M352 355.97l2.9 2.9M352 358.87l2.9 -2.9M352.75 357.15l2.9 2.9M352.75 360.05l2.9 -2.9M353.51 357.16l2.9 2.9M353.51 360.06l2.9 -2.9M354.27 358.55l2.9 2.9M354.27 361.45l2.9 -2.9M355.03 358.48l2.9 2.9M355.03 361.38l2.9 -2.9M355.79 359.64l2.9 2.9M355.79 362.54l2.9 -2.9M356.54 360.26l2.9 2.9M356.54 363.16l2.9 -2.9M357.3 361.24l2.9 2.9M357.3 364.14l2.9 -2.9M358.06 362.75l2.9 2.9M358.06 365.65l2.9 -2.9M358.82 362.95l2.9 2.9M358.82 365.85l2.9 -2.9M359.57 364.4l2.9 2.9M359.57 367.3l2.9 -2.9M360.33 365.25l2.9 2.9M360.33 368.15l2.9 -2.9M361.09 365.89l2.9 2.9M361.09 368.79l2.9 -2.9M361.85 367.16l2.9 2.9M361.85 370.06l2.9 -2.9M362.61 368.43l2.9 2.9M362.61 371.33l2.9 -2.9M363.36 369.3l2.9 2.9M363.36 372.2l2.9 -2.9M364.12 370.02l2.9 2.9M364.12 372.92l2.9 -2.9M364.88 371.44l2.9 2.9M364.88 374.34l2.9 -2.9M365.64 372.11l2.9 2.9M365.64 375.01l2.9 -2.9M366.39 372.61l2.9 2.9M366.39 375.51l2.9 -2.9M367.15 374.1l2.9 2.9M367.15 377l2.9 -2.9M367.91 375.71l2.9 2.9M367.91 378.61l2.9 -2.9M368.67 377.3l2.9 2.9M368.67 380.2l2.9 -2.9M369.43 377.91l2.9 2.9M369.43 380.81l2.9 -2.9M370.18 379.25l2.9 2.9M370.18 382.15l2.9 -2.9M370.94 380.54l2.9 2.9M370.94 383.44l2.9 -2.9M371.7 381.8l2.9 2.9M371.7 384.7l2.9 -2.9M372.46 383.67l2.9 2.9M372.46 386.57l2.9 -2.9M373.21 384.71l2.9 2.9M373.21 387.61l2.9 -2.9M373.97 386.62l2.9 2.9M373.97 389.52l2.9 -2.9M378.52 337.2l2.9 2.9M378.52 340.1l2.9 -2.9M379.28 337.2l2.9 2.9M379.28 340.1l2.9 -2.9M380.04 337.2l2.9 2.9M380.04 340.1l2.9 -2.9M380.79 337.2l2.9 2.9M380.79 340.1l2.9 -2.9M381.55 337.2l2.9 2.9M381.55 340.1l2.9 -2.9M382.31 337.2l2.9 2.9M382.31 340.1l2.9 -2.9M383.07 337.2l2.9 2.9M383.07 340.1l2.9 -2.9M383.82 337.2l2.9 2.9M383.82 340.1l2.9 -2.9M384.58 337.2l2.9 2.9M384.58 340.1l2.9 -2.9M385.34 337.2l2.9 2.9M385.34 340.1l2.9 -2.9M386.1 337.2l2.9 2.9M386.1 340.1l2.9 -2.9M386.86 337.2l2.9 2.9M386.86 340.1l2.9 -2.9M387.61 337.2l2.9 2.9M387.61 340.1l2.9 -2.9M388.37 337.2l2.9 2.9M388.37 340.1l2.9 -2.9M389.13 337.2l2.9 2.9M389.13 340.1l2.9 -2.9M389.89 337.2l2.9 2.9M389.89 340.1l2.9 -2.9M390.64 337.2l2.9 2.9M390.64 340.1l2.9 -2.9M391.4 337.2l2.9 2.9M391.4 340.1l2.9 -2.9M392.16 337.2l2.9 2.9M392.16 340.1l2.9 -2.9M392.92 337.2l2.9 2.9M392.92 340.1l2.9 -2.9M393.68 337.2l2.9 2.9M393.68 340.1l2.9 -2.9M394.43 337.2l2.9 2.9M394.43 340.1l2.9 -2.9M395.19 337.2l2.9 2.9M395.19 340.1l2.9 -2.9M395.95 337.2l2.9 2.9M395.95 340.1l2.9 -2.9M226.25 347.55l2.9 2.9M226.25 350.45l2.9 -2.9M247.65 345.85l2.9 2.9M247.65 348.75l2.9 -2.9M239.55 342.35l2.9 2.9M239.55 345.25l2.9 -2.9M256.85 345.85l2.9 2.9M256.85 348.75l2.9 -2.9M259.95 346.55l2.9 2.9M259.95 349.45l2.9 -2.9M269.15 332.15l2.9 2.9M269.15 335.05l2.9 -2.9M272.35 350.35l2.9 2.9M272.35 353.25l2.9 -2.9M299.25 349.75l2.9 2.9M299.25 352.65l2.9 -2.9M300.95 344.85l2.9 2.9M300.95 347.75l2.9 -2.9M302.75 347.15l2.9 2.9M302.75 350.05l2.9 -2.9M289.55 359.55l2.9 2.9M289.55 362.45l2.9 -2.9M283.35 370.15l2.9 2.9M283.35 373.05l2.9 -2.9M291.65 328.55l2.9 2.9M291.65 331.45l2.9 -2.9M317.95 325.95l2.9 2.9M317.95 328.85l2.9 -2.9M353.15 332.75l2.9 2.9M353.15 335.65l2.9 -2.9M300.35 345.35l2.9 2.9M300.35 348.25l2.9 -2.9M302.05 347.15l2.9 2.9M302.05 350.05l2.9 -2.9M198.25 340.55l2.9 2.9M198.25 343.45l2.9 -2.9M206.25 340.55l2.9 2.9M206.25 343.45l2.9 -2.9M231.85 340.55l2.9 2.9M231.85 343.45l2.9 -2.9M363.55 362.05l2.9 2.9M363.55 364.95l2.9 -2.9M364.95 365.05l2.9 2.9M364.95 367.95l2.9 -2.9M366.35 367.55l2.9 2.9M366.35 370.45l2.9 -2.9M367.75 370.05l2.9 2.9M367.75 372.95l2.9 -2.9M369.15 372.55l2.9 2.9M369.15 375.45l2.9 -2.9M370.55 375.55l2.9 2.9M370.55 378.45l2.9 -2.9M376.75 343.55l2.9 2.9M376.75 346.45l2.9 -2.9M376.05 358.05l2.9 2.9M376.05 360.95l2.9 -2.9M375.25 373.25l2.9 2.9M375.25 376.15l2.9 -2.9" stroke="#EDB120" stroke-width="1.0" fill="none"/>
<path d="M50.7 338.55h3.8M52.6 336.4v4.3M51.46 338.3h3.8M53.36 336.15v4.3M52.22 338.48h3.8M54.12 336.33v4.3M52.97 338.77h3.8M54.87 336.62v4.3M53.73 338.64h3.8M55.63 336.49v4.3M54.49 338.49h3.8M56.39 336.34v4.3M55.25 338.01h3.8M57.15 335.86v4.3M56 338.74h3.8M57.9 336.59v4.3M56.76 337.77h3.8M58.66 335.62v4.3M57.52 338.69h3.8M59.42 336.54v4.3M58.28 338.31h3.8M60.18 336.16v4.3M59.04 338.37h3.8M60.94 336.22v4.3M59.79 338.45h3.8M61.69 336.3v4.3M60.55 338.67h3.8M62.45 336.52v4.3M61.31 339.13h3.8M63.21 336.98v4.3M62.07 338.69h3.8M63.97 336.54v4.3M62.82 338.92h3.8M64.72 336.77v4.3M63.58 338.85h3.8M65.48 336.7v4.3M64.34 338.63h3.8M66.24 336.48v4.3M65.1 338.41h3.8M67 336.26v4.3M65.86 338.69h3.8M67.76 336.54v4.3M66.61 338.58h3.8M68.51 336.43v4.3M67.37 338.19h3.8M69.27 336.04v4.3M68.13 337.95h3.8M70.03 335.8v4.3M68.89 339.09h3.8M70.79 336.94v4.3M69.64 338.52h3.8M71.55 336.37v4.3M70.4 338.5h3.8M72.3 336.35v4.3M71.16 338.61h3.8M73.06 336.46v4.3M71.92 338.65h3.8M73.82 336.5v4.3M72.68 338.88h3.8M74.58 336.73v4.3M73.43 338.53h3.8M75.33 336.38v4.3M74.19 338.85h3.8M76.09 336.7v4.3M74.95 338.06h3.8M76.85 335.91v4.3M75.71 338.34h3.8M77.61 336.19v4.3M76.47 338.36h3.8M78.37 336.21v4.3M77.22 338.82h3.8M79.12 336.67v4.3M77.98 338.9h3.8M79.88 336.75v4.3M78.74 338.62h3.8M80.64 336.47v4.3M79.5 338.74h3.8M81.4 336.59v4.3M80.25 338.72h3.8M82.15 336.57v4.3M81.01 338.61h3.8M82.91 336.46v4.3M81.77 338.78h3.8M83.67 336.63v4.3M82.53 338.04h3.8M84.43 335.89v4.3M83.29 338.92h3.8M85.19 336.77v4.3M84.04 339.09h3.8M85.94 336.94v4.3M84.8 338.55h3.8M86.7 336.4v4.3M85.56 339.03h3.8M87.46 336.88v4.3M86.32 338.37h3.8M88.22 336.22v4.3M87.07 339.09h3.8M88.97 336.94v4.3M87.83 338.65h3.8M89.73 336.5v4.3M88.59 338.45h3.8M90.49 336.3v4.3M89.35 338.55h3.8M91.25 336.4v4.3M90.11 339.23h3.8M92.01 337.08v4.3M90.86 338.77h3.8M92.76 336.62v4.3M91.62 338.58h3.8M93.52 336.43v4.3M92.38 338.91h3.8M94.28 336.76v4.3M93.14 338.39h3.8M95.04 336.24v4.3M93.89 338.6h3.8M95.79 336.45v4.3M94.65 339.12h3.8M96.55 336.97v4.3M95.41 338.64h3.8M97.31 336.49v4.3M96.17 338.87h3.8M98.07 336.72v4.3M96.93 338.66h3.8M98.83 336.51v4.3M97.68 338.78h3.8M99.58 336.63v4.3M98.44 338.98h3.8M100.34 336.83v4.3M99.2 338.84h3.8M101.1 336.69v4.3M99.96 338.97h3.8M101.86 336.82v4.3M100.71 338.21h3.8M102.61 336.06v4.3M101.47 338.96h3.8M103.37 336.81v4.3M102.23 338.25h3.8M104.13 336.1v4.3M102.99 338.29h3.8M104.89 336.14v4.3M103.75 338.07h3.8M105.65 335.92v4.3M104.5 338.67h3.8M106.4 336.52v4.3M105.26 338.35h3.8M107.16 336.2v4.3M106.02 338.31h3.8M107.92 336.16v4.3M106.78 338.63h3.8M108.68 336.48v4.3M107.53 338.42h3.8M109.44 336.27v4.3M108.29 338.72h3.8M110.19 336.57v4.3M109.05 338.77h3.8M110.95 336.62v4.3M109.81 338.96h3.8M111.71 336.81v4.3M110.57 338.14h3.8M112.47 335.99v4.3M111.32 338.62h3.8M113.22 336.47v4.3M112.08 339.05h3.8M113.98 336.9v4.3M112.84 338.41h3.8M114.74 336.26v4.3M113.6 338.46h3.8M115.5 336.31v4.3M114.36 338.24h3.8M116.26 336.09v4.3M115.11 338.71h3.8M117.01 336.56v4.3M115.87 338.66h3.8M117.77 336.51v4.3M116.63 338.73h3.8M118.53 336.58v4.3M117.39 338.41h3.8M119.29 336.26v4.3M118.14 338.6h3.8M120.04 336.45v4.3M118.9 339.25h3.8M120.8 337.1v4.3M119.66 338.92h3.8M121.56 336.77v4.3M120.42 338.74h3.8M122.32 336.59v4.3M121.18 338.27h3.8M123.08 336.12v4.3M121.93 339.07h3.8M123.83 336.92v4.3M122.69 339.19h3.8M124.59 337.04v4.3M123.45 338.01h3.8M125.35 335.86v4.3M124.21 338.97h3.8M126.11 336.82v4.3M124.96 338.73h3.8M126.86 336.58v4.3M125.72 338.67h3.8M127.62 336.52v4.3M126.48 338.63h3.8M128.38 336.48v4.3M127.24 339.21h3.8M129.14 337.06v4.3M128 338.53h3.8M129.9 336.38v4.3M128.75 338.96h3.8M130.65 336.81v4.3M129.51 338.57h3.8M131.41 336.42v4.3M130.27 338.57h3.8M132.17 336.42v4.3M131.03 338.38h3.8M132.93 336.23v4.3M131.78 338.54h3.8M133.68 336.39v4.3M132.54 338.65h3.8M134.44 336.5v4.3M133.3 339.36h3.8M135.2 337.21v4.3M134.06 338.28h3.8M135.96 336.13v4.3M134.82 338.26h3.8M136.72 336.11v4.3M135.57 339.03h3.8M137.47 336.88v4.3M136.33 338.84h3.8M138.23 336.69v4.3M137.09 338.44h3.8M138.99 336.29v4.3M137.85 339.17h3.8M139.75 337.02v4.3M138.6 338.35h3.8M140.5 336.2v4.3M139.36 338.58h3.8M141.26 336.43v4.3M140.12 338.55h3.8M142.02 336.4v4.3M140.88 338.62h3.8M142.78 336.47v4.3M141.64 338.86h3.8M143.54 336.71v4.3M142.39 338.79h3.8M144.29 336.64v4.3M143.15 338.95h3.8M145.05 336.8v4.3M143.91 338.05h3.8M145.81 335.9v4.3M144.67 338.87h3.8M146.57 336.72v4.3M145.42 338.38h3.8M147.32 336.23v4.3M146.18 338.59h3.8M148.08 336.44v4.3M146.94 338.25h3.8M148.84 336.1v4.3M147.7 339.03h3.8M149.6 336.88v4.3M148.46 338.6h3.8M150.36 336.45v4.3M149.21 338.2h3.8M151.11 336.05v4.3M149.97 338.58h3.8M151.87 336.43v4.3M150.73 338.04h3.8M152.63 335.89v4.3M151.49 338.79h3.8M153.39 336.64v4.3M152.25 338.72h3.8M154.15 336.57v4.3M153 338.93h3.8M154.9 336.78v4.3M153.76 339.12h3.8M155.66 336.97v4.3M154.52 338.52h3.8M156.42 336.37v4.3M155.28 339.54h3.8M157.18 337.39v4.3M156.03 338.42h3.8M157.93 336.27v4.3M156.79 338.52h3.8M158.69 336.37v4.3M157.55 339.03h3.8M159.45 336.88v4.3M158.31 338.47h3.8M160.21 336.32v4.3M159.07 338.46h3.8M160.97 336.31v4.3M159.82 338.29h3.8M161.72 336.14v4.3M160.58 338.96h3.8M162.48 336.81v4.3M161.34 338.42h3.8M163.24 336.27v4.3M162.1 338.47h3.8M164 336.32v4.3M162.85 338.79h3.8M164.75 336.64v4.3M163.61 338.86h3.8M165.51 336.71v4.3M164.37 338.63h3.8M166.27 336.48v4.3M165.13 338.67h3.8M167.03 336.52v4.3M165.89 338.64h3.8M167.79 336.49v4.3M166.64 338.24h3.8M168.54 336.09v4.3M167.4 339.08h3.8M169.3 336.93v4.3M168.16 338.35h3.8M170.06 336.2v4.3M168.92 338.32h3.8M170.82 336.17v4.3M169.67 338.33h3.8M171.57 336.18v4.3M170.43 338.13h3.8M172.33 335.98v4.3M171.19 338.51h3.8M173.09 336.36v4.3M171.95 338.72h3.8M173.85 336.57v4.3M172.71 338.17h3.8M174.61 336.02v4.3M173.46 338.02h3.8M175.36 335.87v4.3M174.22 338.19h3.8M176.12 336.04v4.3M174.98 339.33h3.8M176.88 337.18v4.3M175.74 338.11h3.8M177.64 335.96v4.3M176.49 338.5h3.8M178.39 336.35v4.3M177.25 339.37h3.8M179.15 337.22v4.3M178.01 338.19h3.8M179.91 336.04v4.3M178.77 338.63h3.8M180.67 336.48v4.3M179.53 338.03h3.8M181.43 335.88v4.3M180.28 339.37h3.8M182.18 337.22v4.3M181.04 338.21h3.8M182.94 336.06v4.3M181.8 338.22h3.8M183.7 336.07v4.3M182.56 339.01h3.8M184.46 336.86v4.3M183.31 338.54h3.8M185.21 336.39v4.3M184.07 338.51h3.8M185.97 336.36v4.3M184.83 338.65h3.8M186.73 336.5v4.3M185.59 337.8h3.8M187.49 335.65v4.3M186.35 337.32h3.8M188.25 335.17v4.3M187.1 338.55h3.8M189 336.4v4.3M187.86 338.01h3.8M189.76 335.86v4.3M188.62 338.71h3.8M190.52 336.56v4.3M189.38 338.75h3.8M191.28 336.6v4.3M190.14 339.03h3.8M192.04 336.88v4.3M190.89 338.82h3.8M192.79 336.67v4.3M191.65 338.19h3.8M193.55 336.04v4.3M192.41 338.96h3.8M194.31 336.81v4.3M193.17 339.04h3.8M195.07 336.89v4.3M193.92 338.82h3.8M195.82 336.67v4.3M194.68 338.54h3.8M196.58 336.39v4.3M195.44 337.52h3.8M197.34 335.37v4.3M196.2 339.63h3.8M198.1 337.48v4.3M196.96 340.01h3.8M198.86 337.86v4.3M197.71 338.46h3.8M199.61 336.31v4.3M198.47 338.99h3.8M200.37 336.84v4.3M199.23 339.46h3.8M201.13 337.31v4.3M199.99 339.25h3.8M201.89 337.1v4.3M200.74 338.98h3.8M202.64 336.83v4.3M201.5 337.81h3.8M203.4 335.66v4.3M202.26 338.6h3.8M204.16 336.45v4.3M203.02 338.34h3.8M204.92 336.19v4.3M203.78 336.69h3.8M205.68 334.54v4.3M204.53 338.99h3.8M206.43 336.84v4.3M205.29 339.32h3.8M207.19 337.17v4.3M206.05 339.14h3.8M207.95 336.99v4.3M206.81 339.68h3.8M208.71 337.53v4.3M207.56 339.37h3.8M209.46 337.22v4.3M208.32 339.49h3.8M210.22 337.34v4.3M209.08 338.61h3.8M210.98 336.46v4.3M209.84 338.62h3.8M211.74 336.47v4.3M210.6 338.47h3.8M212.5 336.32v4.3M211.35 339.66h3.8M213.25 337.51v4.3M212.11 338.98h3.8M214.01 336.83v4.3M212.87 339.68h3.8M214.77 337.53v4.3M213.63 338.18h3.8M215.53 336.03v4.3M214.38 339.76h3.8M216.28 337.61v4.3M215.14 338.86h3.8M217.04 336.71v4.3M215.9 338.92h3.8M217.8 336.77v4.3M216.66 338.29h3.8M218.56 336.14v4.3M217.42 338.19h3.8M219.32 336.04v4.3M218.17 340.77h3.8M220.07 338.62v4.3M218.93 340.29h3.8M220.83 338.14v4.3M219.69 338.78h3.8M221.59 336.63v4.3M220.45 336.86h3.8M222.35 334.71v4.3M221.2 337.82h3.8M223.1 335.67v4.3M221.96 339.34h3.8M223.86 337.19v4.3M222.72 337.66h3.8M224.62 335.51v4.3M223.48 339.93h3.8M225.38 337.78v4.3M224.24 338.25h3.8M226.14 336.1v4.3M224.99 336.82h3.8M226.89 334.67v4.3M225.75 341.59h3.8M227.65 339.44v4.3M226.51 339.49h3.8M228.41 337.34v4.3M227.27 338.22h3.8M229.17 336.07v4.3M228.03 339.46h3.8M229.93 337.31v4.3M228.78 340.71h3.8M230.68 338.56v4.3M229.54 336.2h3.8M231.44 334.05v4.3M230.3 339.19h3.8M232.2 337.04v4.3M231.06 336.58h3.8M232.96 334.43v4.3M231.81 338.25h3.8M233.71 336.1v4.3M232.57 335.77h3.8M234.47 333.62v4.3M233.33 340.06h3.8M235.23 337.91v4.3M234.09 336.37h3.8M235.99 334.22v4.3M234.85 338.02h3.8M236.75 335.87v4.3M235.6 339.1h3.8M237.5 336.95v4.3M236.36 338.52h3.8M238.26 336.37v4.3M237.12 337.95h3.8M239.02 335.8v4.3M237.88 338.62h3.8M239.78 336.47v4.3M238.63 340.42h3.8M240.53 338.27v4.3M239.39 340.6h3.8M241.29 338.45v4.3M240.15 338.27h3.8M242.05 336.12v4.3M240.91 338.55h3.8M242.81 336.4v4.3M241.67 341.79h3.8M243.57 339.64v4.3M242.42 339.4h3.8M244.32 337.25v4.3M243.18 338.38h3.8M245.08 336.23v4.3M243.94 338.84h3.8M245.84 336.69v4.3M244.7 338.78h3.8M246.6 336.63v4.3M245.45 335.9h3.8M247.35 333.75v4.3M246.21 339.62h3.8M248.11 337.47v4.3M246.97 336.4h3.8M248.87 334.25v4.3M247.73 337.7h3.8M249.63 335.55v4.3M248.49 335.64h3.8M250.39 333.49v4.3M249.24 337.72h3.8M251.14 335.57v4.3M250 341.02h3.8M251.9 338.87v4.3M250.76 337.55h3.8M252.66 335.4v4.3M251.52 339.33h3.8M253.42 337.18v4.3M252.27 339.73h3.8M254.17 337.58v4.3M253.03 338.83h3.8M254.93 336.68v4.3M253.79 340.57h3.8M255.69 338.42v4.3M254.55 339.31h3.8M256.45 337.16v4.3M255.31 338.27h3.8M257.21 336.12v4.3M256.06 341.23h3.8M257.96 339.08v4.3M256.82 336h3.8M258.72 333.85v4.3M257.58 337.54h3.8M259.48 335.39v4.3M258.34 339.56h3.8M260.24 337.41v4.3M259.1 340.25h3.8M261 338.1v4.3M259.85 337.93h3.8M261.75 335.78v4.3M260.61 336.82h3.8M262.51 334.67v4.3M261.37 337.09h3.8M263.27 334.94v4.3M262.13 335.24h3.8M264.03 333.09v4.3M262.88 338.93h3.8M264.78 336.78v4.3M263.64 337.92h3.8M265.54 335.77v4.3M264.4 338.56h3.8M266.3 336.41v4.3M265.16 337.72h3.8M267.06 335.57v4.3M265.92 341.14h3.8M267.82 338.99v4.3M266.67 337.88h3.8M268.57 335.73v4.3M267.43 338.42h3.8M269.33 336.27v4.3M268.19 337.83h3.8M270.09 335.68v4.3M268.95 340.79h3.8M270.85 338.64v4.3M269.7 338.21h3.8M271.6 336.06v4.3M270.46 341h3.8M272.36 338.85v4.3M271.22 336.76h3.8M273.12 334.61v4.3M271.98 340.07h3.8M273.88 337.92v4.3M272.74 341.88h3.8M274.64 339.73v4.3M273.49 339.52h3.8M275.39 337.37v4.3M274.25 339.26h3.8M276.15 337.11v4.3M275.01 338.46h3.8M276.91 336.31v4.3M275.77 340.3h3.8M277.67 338.15v4.3M276.52 339.92h3.8M278.42 337.77v4.3M277.28 336.76h3.8M279.18 334.61v4.3M278.04 342.45h3.8M279.94 340.3v4.3M278.8 338.93h3.8M280.7 336.78v4.3M279.56 336.38h3.8M281.46 334.23v4.3M280.31 341.15h3.8M282.21 339v4.3M281.07 339.18h3.8M282.97 337.03v4.3M281.83 339.52h3.8M283.73 337.37v4.3M282.59 340.17h3.8M284.49 338.02v4.3M283.34 338.83h3.8M285.24 336.68v4.3M284.1 337.64h3.8M286 335.49v4.3M284.86 336.65h3.8M286.76 334.5v4.3M285.62 337.13h3.8M287.52 334.98v4.3M286.38 336.89h3.8M288.28 334.74v4.3M287.13 340.36h3.8M289.03 338.21v4.3M287.89 339.68h3.8M289.79 337.53v4.3M288.65 338.69h3.8M290.55 336.54v4.3M289.41 338.81h3.8M291.31 336.66v4.3M290.16 338.22h3.8M292.06 336.07v4.3M290.92 339.77h3.8M292.82 337.62v4.3M291.68 341.3h3.8M293.58 339.15v4.3M292.44 338.39h3.8M294.34 336.24v4.3M293.2 336.69h3.8M295.1 334.54v4.3M293.95 339.54h3.8M295.85 337.39v4.3M294.71 339.18h3.8M296.61 337.03v4.3M295.47 339.7h3.8M297.37 337.55v4.3M296.23 337.83h3.8M298.13 335.68v4.3M296.99 337.99h3.8M298.88 335.84v4.3M297.74 338.01h3.8M299.64 335.86v4.3M298.5 339.13h3.8M300.4 336.98v4.3M299.26 339.52h3.8M301.16 337.37v4.3M300.02 339.15h3.8M301.92 337v4.3M300.77 338.64h3.8M302.67 336.49v4.3M301.53 338.32h3.8M303.43 336.17v4.3M302.29 339.01h3.8M304.19 336.86v4.3M303.05 338.98h3.8M304.95 336.83v4.3M303.81 338.98h3.8M305.71 336.83v4.3M304.56 338.48h3.8M306.46 336.33v4.3M305.32 338.85h3.8M307.22 336.7v4.3M306.08 337.93h3.8M307.98 335.78v4.3M306.84 339.03h3.8M308.74 336.88v4.3M307.59 338.76h3.8M309.49 336.61v4.3M308.35 338.01h3.8M310.25 335.86v4.3M309.11 338.42h3.8M311.01 336.27v4.3M309.87 339.25h3.8M311.77 337.1v4.3M310.63 338.79h3.8M312.53 336.64v4.3M311.38 339.85h3.8M313.28 337.7v4.3M312.14 338.51h3.8M314.04 336.36v4.3M312.9 339.44h3.8M314.8 337.29v4.3M313.66 338.07h3.8M315.56 335.92v4.3M314.41 338.91h3.8M316.31 336.76v4.3M315.17 338.43h3.8M317.07 336.28v4.3M315.93 339.73h3.8M317.83 337.58v4.3M316.69 339.03h3.8M318.59 336.88v4.3M317.45 339h3.8M319.35 336.85v4.3M318.2 339.28h3.8M320.1 337.13v4.3M318.96 339.24h3.8M320.86 337.09v4.3M319.72 339.4h3.8M321.62 337.25v4.3M320.48 340.43h3.8M322.38 338.28v4.3M321.23 340.56h3.8M323.13 338.41v4.3M321.99 340.07h3.8M323.89 337.92v4.3M322.75 339.08h3.8M324.65 336.93v4.3M323.51 340.33h3.8M325.41 338.18v4.3M324.27 340.51h3.8M326.17 338.36v4.3M325.02 340.8h3.8M326.92 338.65v4.3M325.78 341.1h3.8M327.68 338.95v4.3M326.54 341.6h3.8M328.44 339.45v4.3M327.3 342.44h3.8M329.2 340.29v4.3M328.05 341.82h3.8M329.95 339.67v4.3M328.81 342.06h3.8M330.71 339.91v4.3M329.57 342.17h3.8M331.47 340.02v4.3M330.33 342.43h3.8M332.23 340.28v4.3M331.09 342.98h3.8M332.99 340.83v4.3M331.84 343.93h3.8M333.74 341.78v4.3M332.6 344h3.8M334.5 341.85v4.3M333.36 344.1h3.8M335.26 341.95v4.3M334.12 345.37h3.8M336.02 343.22v4.3M334.88 344.9h3.8M336.77 342.75v4.3M335.63 345.23h3.8M337.53 343.08v4.3M336.39 344.9h3.8M338.29 342.75v4.3M337.15 346.45h3.8M339.05 344.3v4.3M337.91 346.25h3.8M339.81 344.1v4.3M338.66 347.53h3.8M340.56 345.38v4.3M339.42 349.06h3.8M341.32 346.91v4.3M340.18 348.48h3.8M342.08 346.33v4.3M340.94 348.25h3.8M342.84 346.1v4.3M341.7 349.25h3.8M343.6 347.1v4.3M342.45 349.36h3.8M344.35 347.21v4.3M343.21 350.52h3.8M345.11 348.37v4.3M343.97 350.42h3.8M345.87 348.27v4.3M344.73 351.65h3.8M346.63 349.5v4.3M345.48 351.76h3.8M347.38 349.61v4.3M346.24 352.22h3.8M348.14 350.07v4.3M347 352.54h3.8M348.9 350.39v4.3M347.76 353.57h3.8M349.66 351.42v4.3M348.52 353.97h3.8M350.42 351.82v4.3M349.27 354.99h3.8M351.17 352.84v4.3M350.03 355.28h3.8M351.93 353.13v4.3M350.79 356.72h3.8M352.69 354.57v4.3M351.55 357.58h3.8M353.45 355.43v4.3M352.3 358.54h3.8M354.2 356.39v4.3M353.06 359h3.8M354.96 356.85v4.3M353.82 359.08h3.8M355.72 356.93v4.3M354.58 359.67h3.8M356.48 357.52v4.3M355.34 361.4h3.8M357.24 359.25v4.3M356.09 361.3h3.8M357.99 359.15v4.3M356.85 362.86h3.8M358.75 360.71v4.3M357.61 362.67h3.8M359.51 360.52v4.3M358.37 363.71h3.8M360.27 361.56v4.3M359.12 364.46h3.8M361.02 362.31v4.3M359.88 365.97h3.8M361.78 363.82v4.3M360.64 367.25h3.8M362.54 365.1v4.3M361.4 368.69h3.8M363.3 366.54v4.3M362.16 369.41h3.8M364.06 367.26v4.3M362.91 370.24h3.8M364.81 368.09v4.3M363.67 370.94h3.8M365.57 368.79v4.3M364.43 372.51h3.8M366.33 370.36v4.3M365.19 373.8h3.8M367.09 371.65v4.3M365.94 374.06h3.8M367.84 371.91v4.3M366.7 375.64h3.8M368.6 373.49v4.3M367.46 376.15h3.8M369.36 374v4.3M368.22 377.31h3.8M370.12 375.16v4.3M368.98 378.81h3.8M370.88 376.66v4.3M369.73 379.98h3.8M371.63 377.83v4.3M370.49 381.44h3.8M372.39 379.29v4.3M371.25 384.53h3.8M373.15 382.38v4.3M372.01 384.5h3.8M373.91 382.35v4.3M372.76 386.41h3.8M374.66 384.26v4.3M373.52 387.13h3.8M375.42 384.98v4.3M378.07 338.65h3.8M379.97 336.5v4.3M378.83 338.65h3.8M380.73 336.5v4.3M379.59 338.65h3.8M381.49 336.5v4.3M380.34 338.65h3.8M382.24 336.5v4.3M381.1 338.65h3.8M383 336.5v4.3M381.86 338.65h3.8M383.76 336.5v4.3M382.62 338.65h3.8M384.52 336.5v4.3M383.37 338.65h3.8M385.27 336.5v4.3M384.13 338.65h3.8M386.03 336.5v4.3M384.89 338.65h3.8M386.79 336.5v4.3M385.65 338.65h3.8M387.55 336.5v4.3M386.41 338.65h3.8M388.31 336.5v4.3M387.16 338.65h3.8M389.06 336.5v4.3M387.92 338.65h3.8M389.82 336.5v4.3M388.68 338.65h3.8M390.58 336.5v4.3M389.44 338.65h3.8M391.34 336.5v4.3M390.19 338.65h3.8M392.09 336.5v4.3M390.95 338.65h3.8M392.85 336.5v4.3M391.71 338.65h3.8M393.61 336.5v4.3M392.47 338.65h3.8M394.37 336.5v4.3M393.23 338.65h3.8M395.13 336.5v4.3M393.98 338.65h3.8M395.88 336.5v4.3M394.74 338.65h3.8M396.64 336.5v4.3M395.5 338.65h3.8M397.4 336.5v4.3M288.2 319.1h3.8M290.1 316.95v4.3M278.4 328.8h3.8M280.3 326.65v4.3M266.1 350h3.8M268 347.85v4.3M283.8 350.4h3.8M285.7 348.25v4.3M279.3 346.3h3.8M281.2 344.15v4.3M289.9 346.3h3.8M291.8 344.15v4.3M261.7 333.6h3.8M263.6 331.45v4.3M254.6 333.6h3.8M256.5 331.45v4.3M304.1 333.6h3.8M306 331.45v4.3M328.5 335.3h3.8M330.4 333.15v4.3M320.2 348.1h3.8M322.1 345.95v4.3M314.9 356.2h3.8M316.8 354.05v4.3M317.9 358.3h3.8M319.8 356.15v4.3M334.3 339.8h3.8M336.2 337.65v4.3M349.3 358.3h3.8M351.2 356.15v4.3M339.6 390.8h3.8M341.5 388.65v4.3M358.1 390.8h3.8M360 388.65v4.3M352.8 414.5h3.8M354.7 412.35v4.3M352.05 445.4h3.8M353.95 443.25v4.3M328.6 335.5h3.8M330.5 333.35v4.3M320 348.2h3.8M321.9 346.05v4.3M318.9 358.2h3.8M320.8 356.05v4.3M376.3 345h3.8M378.2 342.85v4.3M375.6 359.5h3.8M377.5 357.35v4.3M374.8 374.7h3.8M376.7 372.55v4.3" stroke="#7E2F8E" stroke-width="1.1" fill="none"/>
<path d="M99.75 383.45h3.1v3.1h-3.1z" stroke="#0072BD" stroke-width="1.0" fill="none"/>
<text x="114.62" y="388.9" class="l" textLength="31" lengthAdjust="spacingAndGlyphs">TRD</text>
<path d="M99.4 402.6a1.9 1.9 0 1 0 3.8 0a1.9 1.9 0 1 0 -3.8 0" stroke="#D95319" stroke-width="1.0" fill="none"/>
<text x="114.49" y="406.2" class="l" textLength="31.31" lengthAdjust="spacingAndGlyphs">LMA</text>
<path d="M99.85 418.65l2.9 2.9M99.85 421.55l2.9 -2.9" stroke="#EDB120" stroke-width="1.0" fill="none"/>
<text x="114.89" y="424" class="l" textLength="34.88" lengthAdjust="spacingAndGlyphs">WDE</text>
<path d="M99.4 437.6h3.8M101.3 435.45v4.3" stroke="#7E2F8E" stroke-width="1.1" fill="none"/>
<text x="113.9" y="441.6" class="l" textLength="27.43" lengthAdjust="spacingAndGlyphs">SOS</text>
<text x="167.5" y="512.9" class="lab" textLength="67.95" lengthAdjust="spacingAndGlyphs">Generator</text>
<text x="243.4" y="512.9" class="lab" textLength="47.56" lengthAdjust="spacingAndGlyphs">voltage</text>
<text x="297.23" y="512.9" class="lab" textLength="19.93" lengthAdjust="spacingAndGlyphs">[V]</text>
<text transform="rotate(-90)" x="-479.2" y="17.9" class="lab" textLength="68.05" lengthAdjust="spacingAndGlyphs">Generator</text>
<text transform="rotate(-90)" x="-403.23" y="17.9" class="lab" textLength="47.03" lengthAdjust="spacingAndGlyphs">current</text>
<text transform="rotate(-90)" x="-348.01" y="17.9" class="lab" textLength="30.14" lengthAdjust="spacingAndGlyphs">error</text>
<text transform="rotate(-90)" x="-309.74" y="17.9" class="lab" textLength="19.48" lengthAdjust="spacingAndGlyphs">[A]</text>
<text x="233.2" y="541" text-anchor="middle" class="cap">(b)</text>
</svg>
</body></html>
